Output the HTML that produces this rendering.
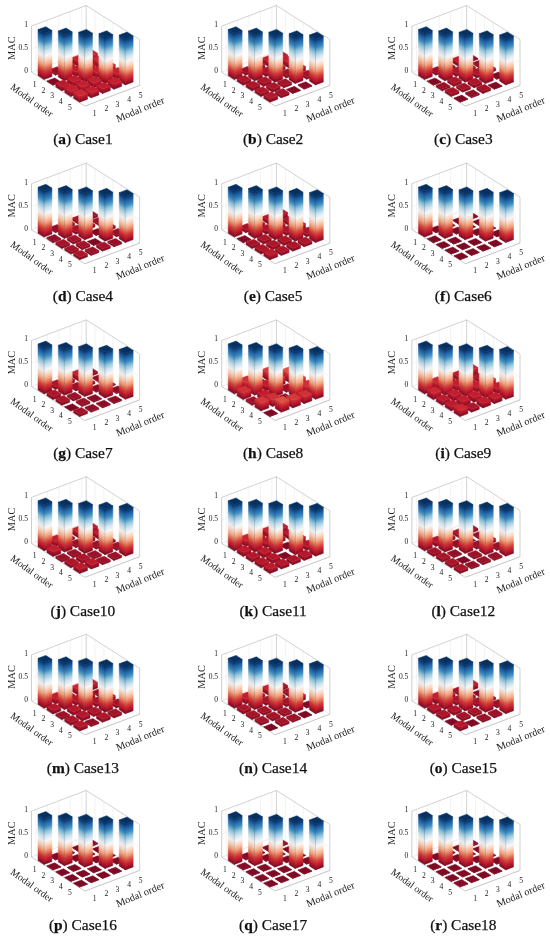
<!DOCTYPE html><html><head><meta charset="utf-8"><title>MAC</title><style>html,body{margin:0;padding:0;background:#fff}svg{display:block}text{font-family:"Liberation Serif",serif;fill:#1a1a1a}.tk{font-size:7.5px;fill:#222}.tf{font-size:7.6px}.lb{font-size:10.3px;fill:#222}.lm{font-size:10px}.cap{font-size:15.4px;fill:#111;stroke:#111;stroke-width:.25}.b{font-weight:bold}.gd{fill:none;stroke:#e6e6e6;stroke-width:.5}.gd2{fill:none;stroke:#b4b4b4;stroke-width:.5}.ax{fill:none;stroke:#9a9a9a;stroke-width:.5}.l{fill:url(#gl);stroke:url(#gl)}.r{fill:url(#gr);stroke:url(#gr)}polygon{stroke-width:.5;stroke-linejoin:round}.e{stroke:#000;stroke-opacity:.3;stroke-width:.5;fill:none}</style></head><body><svg width="550" height="940" viewBox="0 0 550 940"><defs><linearGradient id="gl" gradientUnits="userSpaceOnUse" x1="0" y1="0" x2="20.85" y2="-32.72"><stop offset="0" stop-color="#750821"/><stop offset="0.05" stop-color="#9d1225"/><stop offset="0.1" stop-color="#ba1b2c"/><stop offset="0.17" stop-color="#cc3838"/><stop offset="0.23" stop-color="#d7654c"/><stop offset="0.31" stop-color="#ea9e7d"/><stop offset="0.41" stop-color="#f2ceba"/><stop offset="0.5" stop-color="#ededed"/><stop offset="0.6" stop-color="#c9dce6"/><stop offset="0.7" stop-color="#8cbdd5"/><stop offset="0.8" stop-color="#3b87b8"/><stop offset="0.9" stop-color="#1d5da1"/><stop offset="1" stop-color="#052e5d"/></linearGradient><linearGradient id="gr" gradientUnits="userSpaceOnUse" x1="0" y1="0" x2="-15.19" y2="-40.27"><stop offset="0" stop-color="#7a0822"/><stop offset="0.05" stop-color="#a41327"/><stop offset="0.1" stop-color="#c21c2e"/><stop offset="0.17" stop-color="#d43a3a"/><stop offset="0.23" stop-color="#e0694f"/><stop offset="0.31" stop-color="#f4a582"/><stop offset="0.41" stop-color="#fcd7c2"/><stop offset="0.5" stop-color="#f7f7f7"/><stop offset="0.6" stop-color="#d1e5f0"/><stop offset="0.7" stop-color="#92c5de"/><stop offset="0.8" stop-color="#3d8dc0"/><stop offset="0.9" stop-color="#1e61a8"/><stop offset="1" stop-color="#053061"/></linearGradient></defs><rect width="550" height="940" fill="#fff"/>
<g transform="translate(0,0)"><path class="gd" d="M36.06 70.38L89.46 104.4M36.06 70.38L36.06 24.38M47.46 66.08L100.86 100.1M47.46 66.08L47.46 20.08M58.86 61.78L112.26 95.8M58.86 61.78L58.86 15.78M70.26 57.48L123.66 91.5M70.26 57.48L70.26 11.48M81.66 53.18L135.06 87.2M81.66 53.18L81.66 7.18M31.5 72.1L86.22 51.46M86.22 51.46L86.22 5.46M40.4 77.77L95.12 57.13M95.12 57.13L95.12 11.13M49.3 83.44L104.02 62.8M104.02 62.8L104.02 16.8M58.2 89.11L112.92 68.47M112.92 68.47L112.92 22.47M67.1 94.78L121.82 74.14M121.82 74.14L121.82 28.14M76 100.45L130.72 79.81M130.72 79.81L130.72 33.81M84.9 106.12L139.62 85.48M139.62 85.48L139.62 39.48M31.5 72.1L86.22 51.46L139.62 85.48M31.5 49.1L86.22 28.46L139.62 62.48M31.5 26.1L86.22 5.46L139.62 39.48"/><path class="ax" d="M31.5 26.1L31.5 72.1L84.9 106.12L139.62 85.48"/><path class="gd2" d="M31.5 26.1L86.22 5.46L139.62 39.48L139.62 85.48M86.22 5.46L86.22 51.46"/><g transform="translate(83.61,58.38)"><polygon class="l" points="0,0 6.1,3.88 6.1,-2.19 0,-6.07"/></g><g transform="translate(89.7,62.26)"><polygon class="r" points="0,0 7.81,-2.95 7.81,-9.02 0,-6.07"/></g><polygon fill="#ca2a33" stroke="#ca2a33" points="83.61,52.31 89.7,56.19 97.51,53.25 91.42,49.36"/><path class="e" d="M89.7 62.26v-6.07"/><g transform="translate(72.21,62.68)"><polygon class="l" points="0,0 6.1,3.88 6.1,-1.18 0,-5.06"/></g><g transform="translate(78.3,66.56)"><polygon class="r" points="0,0 7.81,-2.95 7.81,-8.01 0,-5.06"/></g><polygon fill="#c52030" stroke="#c52030" points="72.21,57.62 78.3,61.5 86.11,58.56 80.02,54.68"/><path class="e" d="M78.3 66.56v-5.06"/><g transform="translate(60.81,66.98)"><polygon class="l" points="0,0 6.1,3.88 6.1,-0.16 0,-4.05"/></g><g transform="translate(66.9,70.86)"><polygon class="r" points="0,0 7.81,-2.95 7.81,-6.99 0,-4.05"/></g><polygon fill="#bb1a2c" stroke="#bb1a2c" points="60.81,62.93 66.9,66.82 74.71,63.87 68.62,59.99"/><path class="e" d="M66.9 70.86v-4.05"/><g transform="translate(49.41,71.28)"><polygon class="l" points="0,0 6.1,3.88 6.1,2.37 0,-1.52"/></g><g transform="translate(55.5,75.16)"><polygon class="r" points="0,0 7.81,-2.95 7.81,-4.46 0,-1.52"/></g><polygon fill="#960f25" stroke="#960f25" points="49.41,69.76 55.5,73.65 63.31,70.7 57.22,66.82"/><path class="e" d="M55.5 75.16v-1.52"/><g transform="translate(38.01,75.58)"><polygon class="l" points="0,0 6.1,3.88 6.1,-42.12 0,-46"/></g><g transform="translate(44.1,79.46)"><polygon class="r" points="0,0 7.81,-2.95 7.81,-48.95 0,-46"/></g><polygon fill="#053061" stroke="#053061" points="38.01,29.58 44.1,33.46 51.91,30.52 45.82,26.64"/><path class="e" d="M44.1 79.46v-46"/><g transform="translate(92.51,64.05)"><polygon class="l" points="0,0 6.1,3.88 6.1,-2.1 0,-5.98"/></g><g transform="translate(98.6,67.93)"><polygon class="r" points="0,0 7.81,-2.95 7.81,-8.93 0,-5.98"/></g><polygon fill="#ca2933" stroke="#ca2933" points="92.51,58.07 98.6,61.95 106.41,59.01 100.32,55.13"/><path class="e" d="M98.6 67.93v-5.98"/><g transform="translate(81.11,68.35)"><polygon class="l" points="0,0 6.1,3.88 6.1,-1.18 0,-5.06"/></g><g transform="translate(87.2,72.23)"><polygon class="r" points="0,0 7.81,-2.95 7.81,-8.01 0,-5.06"/></g><polygon fill="#c52030" stroke="#c52030" points="81.11,63.29 87.2,67.17 95.01,64.23 88.92,60.35"/><path class="e" d="M87.2 72.23v-5.06"/><g transform="translate(69.71,72.65)"><polygon class="l" points="0,0 6.1,3.88 6.1,-0.67 0,-4.55"/></g><g transform="translate(75.8,76.53)"><polygon class="r" points="0,0 7.81,-2.95 7.81,-7.5 0,-4.55"/></g><polygon fill="#c11c2e" stroke="#c11c2e" points="69.71,68.1 75.8,71.98 83.61,69.04 77.52,65.15"/><path class="e" d="M75.8 76.53v-4.55"/><g transform="translate(58.31,76.95)"><polygon class="l" points="0,0 6.1,3.88 6.1,-42.12 0,-46"/></g><g transform="translate(64.4,80.83)"><polygon class="r" points="0,0 7.81,-2.95 7.81,-48.95 0,-46"/></g><polygon fill="#053061" stroke="#053061" points="58.31,30.95 64.4,34.83 72.21,31.89 66.12,28.01"/><path class="e" d="M64.4 80.83v-46"/><g transform="translate(46.91,81.25)"><polygon class="l" points="0,0 6.1,3.88 6.1,3.52 0,-0.37"/></g><g transform="translate(53,85.13)"><polygon class="r" points="0,0 7.81,-2.95 7.81,-3.31 0,-0.37"/></g><polygon fill="#810a23" stroke="#810a23" points="46.91,80.88 53,84.77 60.81,81.82 54.72,77.94"/><g transform="translate(101.41,69.72)"><polygon class="l" points="0,0 6.1,3.88 6.1,-2.1 0,-5.98"/></g><g transform="translate(107.5,73.6)"><polygon class="r" points="0,0 7.81,-2.95 7.81,-8.93 0,-5.98"/></g><polygon fill="#ca2933" stroke="#ca2933" points="101.41,63.74 107.5,67.62 115.31,64.68 109.22,60.8"/><path class="e" d="M107.5 73.6v-5.98"/><g transform="translate(90.01,74.02)"><polygon class="l" points="0,0 6.1,3.88 6.1,-1.18 0,-5.06"/></g><g transform="translate(96.1,77.9)"><polygon class="r" points="0,0 7.81,-2.95 7.81,-8.01 0,-5.06"/></g><polygon fill="#c52030" stroke="#c52030" points="90.01,68.96 96.1,72.84 103.91,69.9 97.82,66.02"/><path class="e" d="M96.1 77.9v-5.06"/><g transform="translate(78.61,78.32)"><polygon class="l" points="0,0 6.1,3.88 6.1,-42.12 0,-46"/></g><g transform="translate(84.7,82.2)"><polygon class="r" points="0,0 7.81,-2.95 7.81,-48.95 0,-46"/></g><polygon fill="#053061" stroke="#053061" points="78.61,32.32 84.7,36.2 92.51,33.26 86.42,29.38"/><path class="e" d="M84.7 82.2v-46"/><g transform="translate(67.21,82.62)"><polygon class="l" points="0,0 6.1,3.88 6.1,-0.67 0,-4.55"/></g><g transform="translate(73.3,86.5)"><polygon class="r" points="0,0 7.81,-2.95 7.81,-7.5 0,-4.55"/></g><polygon fill="#c11c2e" stroke="#c11c2e" points="67.21,78.07 73.3,81.95 81.11,79.01 75.02,75.12"/><path class="e" d="M73.3 86.5v-4.55"/><g transform="translate(55.81,86.92)"><polygon class="l" points="0,0 6.1,3.88 6.1,-0.16 0,-4.05"/></g><g transform="translate(61.9,90.8)"><polygon class="r" points="0,0 7.81,-2.95 7.81,-6.99 0,-4.05"/></g><polygon fill="#bb1a2c" stroke="#bb1a2c" points="55.81,82.87 61.9,86.76 69.71,83.81 63.62,79.93"/><path class="e" d="M61.9 90.8v-4.05"/><g transform="translate(110.31,75.39)"><polygon class="l" points="0,0 6.1,3.88 6.1,-1.18 0,-5.06"/></g><g transform="translate(116.4,79.27)"><polygon class="r" points="0,0 7.81,-2.95 7.81,-8.01 0,-5.06"/></g><polygon fill="#c52030" stroke="#c52030" points="110.31,70.33 116.4,74.21 124.21,71.27 118.12,67.39"/><path class="e" d="M116.4 79.27v-5.06"/><g transform="translate(98.91,79.69)"><polygon class="l" points="0,0 6.1,3.88 6.1,-42.12 0,-46"/></g><g transform="translate(105,83.57)"><polygon class="r" points="0,0 7.81,-2.95 7.81,-48.95 0,-46"/></g><polygon fill="#053061" stroke="#053061" points="98.91,33.69 105,37.57 112.81,34.63 106.72,30.75"/><path class="e" d="M105 83.57v-46"/><g transform="translate(87.51,83.99)"><polygon class="l" points="0,0 6.1,3.88 6.1,-1.18 0,-5.06"/></g><g transform="translate(93.6,87.87)"><polygon class="r" points="0,0 7.81,-2.95 7.81,-8.01 0,-5.06"/></g><polygon fill="#c52030" stroke="#c52030" points="87.51,78.93 93.6,82.81 101.41,79.87 95.32,75.99"/><path class="e" d="M93.6 87.87v-5.06"/><g transform="translate(76.11,88.29)"><polygon class="l" points="0,0 6.1,3.88 6.1,-1.18 0,-5.06"/></g><g transform="translate(82.2,92.17)"><polygon class="r" points="0,0 7.81,-2.95 7.81,-8.01 0,-5.06"/></g><polygon fill="#c52030" stroke="#c52030" points="76.11,83.23 82.2,87.11 90.01,84.17 83.92,80.29"/><path class="e" d="M82.2 92.17v-5.06"/><g transform="translate(64.71,92.59)"><polygon class="l" points="0,0 6.1,3.88 6.1,-1.18 0,-5.06"/></g><g transform="translate(70.8,96.47)"><polygon class="r" points="0,0 7.81,-2.95 7.81,-8.01 0,-5.06"/></g><polygon fill="#c52030" stroke="#c52030" points="64.71,87.53 70.8,91.41 78.61,88.47 72.52,84.59"/><path class="e" d="M70.8 96.47v-5.06"/><g transform="translate(119.21,81.06)"><polygon class="l" points="0,0 6.1,3.88 6.1,-42.12 0,-46"/></g><g transform="translate(125.3,84.94)"><polygon class="r" points="0,0 7.81,-2.95 7.81,-48.95 0,-46"/></g><polygon fill="#053061" stroke="#053061" points="119.21,35.06 125.3,38.94 133.11,36 127.02,32.12"/><path class="e" d="M125.3 84.94v-46"/><g transform="translate(107.81,85.36)"><polygon class="l" points="0,0 6.1,3.88 6.1,-1.18 0,-5.06"/></g><g transform="translate(113.9,89.24)"><polygon class="r" points="0,0 7.81,-2.95 7.81,-8.01 0,-5.06"/></g><polygon fill="#c52030" stroke="#c52030" points="107.81,80.3 113.9,84.18 121.71,81.24 115.62,77.36"/><path class="e" d="M113.9 89.24v-5.06"/><g transform="translate(96.41,89.66)"><polygon class="l" points="0,0 6.1,3.88 6.1,-0.67 0,-4.55"/></g><g transform="translate(102.5,93.54)"><polygon class="r" points="0,0 7.81,-2.95 7.81,-7.5 0,-4.55"/></g><polygon fill="#c11c2e" stroke="#c11c2e" points="96.41,85.11 102.5,88.99 110.31,86.05 104.22,82.16"/><path class="e" d="M102.5 93.54v-4.55"/><g transform="translate(85.01,93.96)"><polygon class="l" points="0,0 6.1,3.88 6.1,-1.18 0,-5.06"/></g><g transform="translate(91.1,97.84)"><polygon class="r" points="0,0 7.81,-2.95 7.81,-8.01 0,-5.06"/></g><polygon fill="#c52030" stroke="#c52030" points="85.01,88.9 91.1,92.78 98.91,89.84 92.82,85.96"/><path class="e" d="M91.1 97.84v-5.06"/><g transform="translate(73.61,98.26)"><polygon class="l" points="0,0 6.1,3.88 6.1,-2.19 0,-6.07"/></g><g transform="translate(79.7,102.14)"><polygon class="r" points="0,0 7.81,-2.95 7.81,-9.02 0,-6.07"/></g><polygon fill="#ca2a33" stroke="#ca2a33" points="73.61,92.19 79.7,96.07 87.51,93.13 81.42,89.24"/><path class="e" d="M79.7 102.14v-6.07"/><text class="tk" text-anchor="end" x="27.9" y="73">0</text><text class="tk" text-anchor="end" x="27.9" y="50">0.5</text><text class="tk" text-anchor="end" x="27.9" y="27">1</text><text class="tk tf" text-anchor="middle" x="34.68" y="87.12">1</text><text class="tk tf" text-anchor="middle" x="94.7" y="115.7">1</text><text class="tk tf" text-anchor="middle" x="43.46" y="92.74">2</text><text class="tk tf" text-anchor="middle" x="106.3" y="110.9">2</text><text class="tk tf" text-anchor="middle" x="52.24" y="98.36">3</text><text class="tk tf" text-anchor="middle" x="117.5" y="106.7">3</text><text class="tk tf" text-anchor="middle" x="61.02" y="103.98">4</text><text class="tk tf" text-anchor="middle" x="129.1" y="101.9">4</text><text class="tk tf" text-anchor="middle" x="69.8" y="109.6">5</text><text class="tk tf" text-anchor="middle" x="140.7" y="97.8">5</text><text class="lb" text-anchor="middle" transform="translate(14.9,48.2) rotate(-90)">MAC</text><text class="lb lm" text-anchor="middle" transform="translate(30,103) rotate(35.8)">Modal order</text><text class="lb" text-anchor="middle" transform="translate(141.5,112.5) rotate(-22.3)">Modal order</text><text class="cap" text-anchor="middle" x="82.9" y="144.4">(<tspan class="b">a</tspan>) Case1</text></g>
<g transform="translate(190.2,0)"><path class="gd" d="M36.06 70.38L89.46 104.4M36.06 70.38L36.06 24.38M47.46 66.08L100.86 100.1M47.46 66.08L47.46 20.08M58.86 61.78L112.26 95.8M58.86 61.78L58.86 15.78M70.26 57.48L123.66 91.5M70.26 57.48L70.26 11.48M81.66 53.18L135.06 87.2M81.66 53.18L81.66 7.18M31.5 72.1L86.22 51.46M86.22 51.46L86.22 5.46M40.4 77.77L95.12 57.13M95.12 57.13L95.12 11.13M49.3 83.44L104.02 62.8M104.02 62.8L104.02 16.8M58.2 89.11L112.92 68.47M112.92 68.47L112.92 22.47M67.1 94.78L121.82 74.14M121.82 74.14L121.82 28.14M76 100.45L130.72 79.81M130.72 79.81L130.72 33.81M84.9 106.12L139.62 85.48M139.62 85.48L139.62 39.48M31.5 72.1L86.22 51.46L139.62 85.48M31.5 49.1L86.22 28.46L139.62 62.48M31.5 26.1L86.22 5.46L139.62 39.48"/><path class="ax" d="M31.5 26.1L31.5 72.1L84.9 106.12L139.62 85.48"/><path class="gd2" d="M31.5 26.1L86.22 5.46L139.62 39.48L139.62 85.48M86.22 5.46L86.22 51.46"/><g transform="translate(83.61,58.38)"><polygon class="l" points="0,0 6.1,3.88 6.1,-0.49 0,-4.37"/></g><g transform="translate(89.7,62.26)"><polygon class="r" points="0,0 7.81,-2.95 7.81,-7.32 0,-4.37"/></g><polygon fill="#bf1b2d" stroke="#bf1b2d" points="83.61,54.01 89.7,57.89 97.51,54.95 91.42,51.07"/><path class="e" d="M89.7 62.26v-4.37"/><g transform="translate(72.21,62.68)"><polygon class="l" points="0,0 6.1,3.88 6.1,-0.9 0,-4.78"/></g><g transform="translate(78.3,66.56)"><polygon class="r" points="0,0 7.81,-2.95 7.81,-7.73 0,-4.78"/></g><polygon fill="#c31e2f" stroke="#c31e2f" points="72.21,57.9 78.3,61.78 86.11,58.84 80.02,54.95"/><path class="e" d="M78.3 66.56v-4.78"/><g transform="translate(60.81,66.98)"><polygon class="l" points="0,0 6.1,3.88 6.1,-0.3 0,-4.19"/></g><g transform="translate(66.9,70.86)"><polygon class="r" points="0,0 7.81,-2.95 7.81,-7.13 0,-4.19"/></g><polygon fill="#bd1a2d" stroke="#bd1a2d" points="60.81,62.79 66.9,66.68 74.71,63.73 68.62,59.85"/><path class="e" d="M66.9 70.86v-4.19"/><g transform="translate(49.41,71.28)"><polygon class="l" points="0,0 6.1,3.88 6.1,2.04 0,-1.84"/></g><g transform="translate(55.5,75.16)"><polygon class="r" points="0,0 7.81,-2.95 7.81,-4.79 0,-1.84"/></g><polygon fill="#9c1126" stroke="#9c1126" points="49.41,69.44 55.5,73.32 63.31,70.38 57.22,66.5"/><path class="e" d="M55.5 75.16v-1.84"/><g transform="translate(38.01,75.58)"><polygon class="l" points="0,0 6.1,3.88 6.1,-42.12 0,-46"/></g><g transform="translate(44.1,79.46)"><polygon class="r" points="0,0 7.81,-2.95 7.81,-48.95 0,-46"/></g><polygon fill="#053061" stroke="#053061" points="38.01,29.58 44.1,33.46 51.91,30.52 45.82,26.64"/><path class="e" d="M44.1 79.46v-46"/><g transform="translate(92.51,64.05)"><polygon class="l" points="0,0 6.1,3.88 6.1,-1.5 0,-5.38"/></g><g transform="translate(98.6,67.93)"><polygon class="r" points="0,0 7.81,-2.95 7.81,-8.33 0,-5.38"/></g><polygon fill="#c62331" stroke="#c62331" points="92.51,58.67 98.6,62.55 106.41,59.61 100.32,55.72"/><path class="e" d="M98.6 67.93v-5.38"/><g transform="translate(81.11,68.35)"><polygon class="l" points="0,0 6.1,3.88 6.1,0.89 0,-2.99"/></g><g transform="translate(87.2,72.23)"><polygon class="r" points="0,0 7.81,-2.95 7.81,-5.94 0,-2.99"/></g><polygon fill="#ad1629" stroke="#ad1629" points="81.11,65.36 87.2,69.24 95.01,66.3 88.92,62.42"/><path class="e" d="M87.2 72.23v-2.99"/><g transform="translate(69.71,72.65)"><polygon class="l" points="0,0 6.1,3.88 6.1,0.89 0,-2.99"/></g><g transform="translate(75.8,76.53)"><polygon class="r" points="0,0 7.81,-2.95 7.81,-5.94 0,-2.99"/></g><polygon fill="#ad1629" stroke="#ad1629" points="69.71,69.66 75.8,73.54 83.61,70.6 77.52,66.72"/><path class="e" d="M75.8 76.53v-2.99"/><g transform="translate(58.31,76.95)"><polygon class="l" points="0,0 6.1,3.88 6.1,-42.12 0,-46"/></g><g transform="translate(64.4,80.83)"><polygon class="r" points="0,0 7.81,-2.95 7.81,-48.95 0,-46"/></g><polygon fill="#053061" stroke="#053061" points="58.31,30.95 64.4,34.83 72.21,31.89 66.12,28.01"/><path class="e" d="M64.4 80.83v-46"/><g transform="translate(46.91,81.25)"><polygon class="l" points="0,0 6.1,3.88 6.1,0.89 0,-2.99"/></g><g transform="translate(53,85.13)"><polygon class="r" points="0,0 7.81,-2.95 7.81,-5.94 0,-2.99"/></g><polygon fill="#ad1629" stroke="#ad1629" points="46.91,78.26 53,82.14 60.81,79.2 54.72,75.32"/><path class="e" d="M53 85.13v-2.99"/><g transform="translate(101.41,69.72)"><polygon class="l" points="0,0 6.1,3.88 6.1,-0.26 0,-4.14"/></g><g transform="translate(107.5,73.6)"><polygon class="r" points="0,0 7.81,-2.95 7.81,-7.09 0,-4.14"/></g><polygon fill="#bc1a2d" stroke="#bc1a2d" points="101.41,65.58 107.5,69.46 115.31,66.52 109.22,62.64"/><path class="e" d="M107.5 73.6v-4.14"/><g transform="translate(90.01,74.02)"><polygon class="l" points="0,0 6.1,3.88 6.1,1.49 0,-2.39"/></g><g transform="translate(96.1,77.9)"><polygon class="r" points="0,0 7.81,-2.95 7.81,-5.34 0,-2.39"/></g><polygon fill="#a51327" stroke="#a51327" points="90.01,71.63 96.1,75.51 103.91,72.57 97.82,68.68"/><path class="e" d="M96.1 77.9v-2.39"/><g transform="translate(78.61,78.32)"><polygon class="l" points="0,0 6.1,3.88 6.1,-42.12 0,-46"/></g><g transform="translate(84.7,82.2)"><polygon class="r" points="0,0 7.81,-2.95 7.81,-48.95 0,-46"/></g><polygon fill="#053061" stroke="#053061" points="78.61,32.32 84.7,36.2 92.51,33.26 86.42,29.38"/><path class="e" d="M84.7 82.2v-46"/><g transform="translate(67.21,82.62)"><polygon class="l" points="0,0 6.1,3.88 6.1,0.89 0,-2.99"/></g><g transform="translate(73.3,86.5)"><polygon class="r" points="0,0 7.81,-2.95 7.81,-5.94 0,-2.99"/></g><polygon fill="#ad1629" stroke="#ad1629" points="67.21,79.63 73.3,83.51 81.11,80.57 75.02,76.69"/><path class="e" d="M73.3 86.5v-2.99"/><g transform="translate(55.81,86.92)"><polygon class="l" points="0,0 6.1,3.88 6.1,0.89 0,-2.99"/></g><g transform="translate(61.9,90.8)"><polygon class="r" points="0,0 7.81,-2.95 7.81,-5.94 0,-2.99"/></g><polygon fill="#ad1629" stroke="#ad1629" points="55.81,83.93 61.9,87.81 69.71,84.87 63.62,80.99"/><path class="e" d="M61.9 90.8v-2.99"/><g transform="translate(110.31,75.39)"><polygon class="l" points="0,0 6.1,3.88 6.1,1.58 0,-2.3"/></g><g transform="translate(116.4,79.27)"><polygon class="r" points="0,0 7.81,-2.95 7.81,-5.25 0,-2.3"/></g><polygon fill="#a41327" stroke="#a41327" points="110.31,73.09 116.4,76.97 124.21,74.03 118.12,70.15"/><path class="e" d="M116.4 79.27v-2.3"/><g transform="translate(98.91,79.69)"><polygon class="l" points="0,0 6.1,3.88 6.1,-42.12 0,-46"/></g><g transform="translate(105,83.57)"><polygon class="r" points="0,0 7.81,-2.95 7.81,-48.95 0,-46"/></g><polygon fill="#053061" stroke="#053061" points="98.91,33.69 105,37.57 112.81,34.63 106.72,30.75"/><path class="e" d="M105 83.57v-46"/><g transform="translate(87.51,83.99)"><polygon class="l" points="0,0 6.1,3.88 6.1,1.49 0,-2.39"/></g><g transform="translate(93.6,87.87)"><polygon class="r" points="0,0 7.81,-2.95 7.81,-5.34 0,-2.39"/></g><polygon fill="#a51327" stroke="#a51327" points="87.51,81.6 93.6,85.48 101.41,82.54 95.32,78.65"/><path class="e" d="M93.6 87.87v-2.39"/><g transform="translate(76.11,88.29)"><polygon class="l" points="0,0 6.1,3.88 6.1,0.89 0,-2.99"/></g><g transform="translate(82.2,92.17)"><polygon class="r" points="0,0 7.81,-2.95 7.81,-5.94 0,-2.99"/></g><polygon fill="#ad1629" stroke="#ad1629" points="76.11,85.3 82.2,89.18 90.01,86.24 83.92,82.36"/><path class="e" d="M82.2 92.17v-2.99"/><g transform="translate(64.71,92.59)"><polygon class="l" points="0,0 6.1,3.88 6.1,0.89 0,-2.99"/></g><g transform="translate(70.8,96.47)"><polygon class="r" points="0,0 7.81,-2.95 7.81,-5.94 0,-2.99"/></g><polygon fill="#ad1629" stroke="#ad1629" points="64.71,89.6 70.8,93.48 78.61,90.54 72.52,86.66"/><path class="e" d="M70.8 96.47v-2.99"/><g transform="translate(119.21,81.06)"><polygon class="l" points="0,0 6.1,3.88 6.1,-42.12 0,-46"/></g><g transform="translate(125.3,84.94)"><polygon class="r" points="0,0 7.81,-2.95 7.81,-48.95 0,-46"/></g><polygon fill="#053061" stroke="#053061" points="119.21,35.06 125.3,38.94 133.11,36 127.02,32.12"/><path class="e" d="M125.3 84.94v-46"/><g transform="translate(107.81,85.36)"><polygon class="l" points="0,0 6.1,3.88 6.1,3.19 0,-0.69"/></g><g transform="translate(113.9,89.24)"><polygon class="r" points="0,0 7.81,-2.95 7.81,-3.64 0,-0.69"/></g><polygon fill="#870b24" stroke="#870b24" points="107.81,84.67 113.9,88.55 121.71,85.61 115.62,81.73"/><g transform="translate(96.41,89.66)"><polygon class="l" points="0,0 6.1,3.88 6.1,3.52 0,-0.37"/></g><g transform="translate(102.5,93.54)"><polygon class="r" points="0,0 7.81,-2.95 7.81,-3.31 0,-0.37"/></g><polygon fill="#810a23" stroke="#810a23" points="96.41,89.29 102.5,93.18 110.31,90.23 104.22,86.35"/><g transform="translate(85.01,93.96)"><polygon class="l" points="0,0 6.1,3.88 6.1,1.49 0,-2.39"/></g><g transform="translate(91.1,97.84)"><polygon class="r" points="0,0 7.81,-2.95 7.81,-5.34 0,-2.39"/></g><polygon fill="#a51327" stroke="#a51327" points="85.01,91.57 91.1,95.45 98.91,92.51 92.82,88.62"/><path class="e" d="M91.1 97.84v-2.39"/><g transform="translate(73.61,98.26)"><polygon class="l" points="0,0 6.1,3.88 6.1,0.3 0,-3.59"/></g><g transform="translate(79.7,102.14)"><polygon class="r" points="0,0 7.81,-2.95 7.81,-6.53 0,-3.59"/></g><polygon fill="#b5182b" stroke="#b5182b" points="73.61,94.67 79.7,98.56 87.51,95.61 81.42,91.73"/><path class="e" d="M79.7 102.14v-3.59"/><text class="tk" text-anchor="end" x="27.9" y="73">0</text><text class="tk" text-anchor="end" x="27.9" y="50">0.5</text><text class="tk" text-anchor="end" x="27.9" y="27">1</text><text class="tk tf" text-anchor="middle" x="34.68" y="87.12">1</text><text class="tk tf" text-anchor="middle" x="94.7" y="115.7">1</text><text class="tk tf" text-anchor="middle" x="43.46" y="92.74">2</text><text class="tk tf" text-anchor="middle" x="106.3" y="110.9">2</text><text class="tk tf" text-anchor="middle" x="52.24" y="98.36">3</text><text class="tk tf" text-anchor="middle" x="117.5" y="106.7">3</text><text class="tk tf" text-anchor="middle" x="61.02" y="103.98">4</text><text class="tk tf" text-anchor="middle" x="129.1" y="101.9">4</text><text class="tk tf" text-anchor="middle" x="69.8" y="109.6">5</text><text class="tk tf" text-anchor="middle" x="140.7" y="97.8">5</text><text class="lb" text-anchor="middle" transform="translate(14.9,48.2) rotate(-90)">MAC</text><text class="lb lm" text-anchor="middle" transform="translate(30,103) rotate(35.8)">Modal order</text><text class="lb" text-anchor="middle" transform="translate(141.5,112.5) rotate(-22.3)">Modal order</text><text class="cap" text-anchor="middle" x="82.9" y="144.4">(<tspan class="b">b</tspan>) Case2</text></g>
<g transform="translate(380.4,0)"><path class="gd" d="M36.06 70.38L89.46 104.4M36.06 70.38L36.06 24.38M47.46 66.08L100.86 100.1M47.46 66.08L47.46 20.08M58.86 61.78L112.26 95.8M58.86 61.78L58.86 15.78M70.26 57.48L123.66 91.5M70.26 57.48L70.26 11.48M81.66 53.18L135.06 87.2M81.66 53.18L81.66 7.18M31.5 72.1L86.22 51.46M86.22 51.46L86.22 5.46M40.4 77.77L95.12 57.13M95.12 57.13L95.12 11.13M49.3 83.44L104.02 62.8M104.02 62.8L104.02 16.8M58.2 89.11L112.92 68.47M112.92 68.47L112.92 22.47M67.1 94.78L121.82 74.14M121.82 74.14L121.82 28.14M76 100.45L130.72 79.81M130.72 79.81L130.72 33.81M84.9 106.12L139.62 85.48M139.62 85.48L139.62 39.48M31.5 72.1L86.22 51.46L139.62 85.48M31.5 49.1L86.22 28.46L139.62 62.48M31.5 26.1L86.22 5.46L139.62 39.48"/><path class="ax" d="M31.5 26.1L31.5 72.1L84.9 106.12L139.62 85.48"/><path class="gd2" d="M31.5 26.1L86.22 5.46L139.62 39.48L139.62 85.48M86.22 5.46L86.22 51.46"/><g transform="translate(83.61,58.38)"><polygon class="l" points="0,0 6.1,3.88 6.1,2.96 0,-0.92"/></g><g transform="translate(89.7,62.26)"><polygon class="r" points="0,0 7.81,-2.95 7.81,-3.87 0,-0.92"/></g><polygon fill="#8b0c24" stroke="#8b0c24" points="83.61,57.46 89.7,61.34 97.51,58.4 91.42,54.52"/><g transform="translate(72.21,62.68)"><polygon class="l" points="0,0 6.1,3.88 6.1,-0.26 0,-4.14"/></g><g transform="translate(78.3,66.56)"><polygon class="r" points="0,0 7.81,-2.95 7.81,-7.09 0,-4.14"/></g><polygon fill="#bc1a2d" stroke="#bc1a2d" points="72.21,58.54 78.3,62.42 86.11,59.48 80.02,55.6"/><path class="e" d="M78.3 66.56v-4.14"/><g transform="translate(60.81,66.98)"><polygon class="l" points="0,0 6.1,3.88 6.1,2.09 0,-1.79"/></g><g transform="translate(66.9,70.86)"><polygon class="r" points="0,0 7.81,-2.95 7.81,-4.74 0,-1.79"/></g><polygon fill="#9b1126" stroke="#9b1126" points="60.81,65.19 66.9,69.07 74.71,66.13 68.62,62.24"/><path class="e" d="M66.9 70.86v-1.79"/><g transform="translate(49.41,71.28)"><polygon class="l" points="0,0 6.1,3.88 6.1,2.09 0,-1.79"/></g><g transform="translate(55.5,75.16)"><polygon class="r" points="0,0 7.81,-2.95 7.81,-4.74 0,-1.79"/></g><polygon fill="#9b1126" stroke="#9b1126" points="49.41,69.49 55.5,73.37 63.31,70.43 57.22,66.54"/><path class="e" d="M55.5 75.16v-1.79"/><g transform="translate(38.01,75.58)"><polygon class="l" points="0,0 6.1,3.88 6.1,-42.12 0,-46"/></g><g transform="translate(44.1,79.46)"><polygon class="r" points="0,0 7.81,-2.95 7.81,-48.95 0,-46"/></g><polygon fill="#053061" stroke="#053061" points="38.01,29.58 44.1,33.46 51.91,30.52 45.82,26.64"/><path class="e" d="M44.1 79.46v-46"/><g transform="translate(92.51,64.05)"><polygon class="l" points="0,0 6.1,3.88 6.1,2.5 0,-1.38"/></g><g transform="translate(98.6,67.93)"><polygon class="r" points="0,0 7.81,-2.95 7.81,-4.33 0,-1.38"/></g><polygon fill="#930f25" stroke="#930f25" points="92.51,62.67 98.6,66.55 106.41,63.61 100.32,59.73"/><g transform="translate(81.11,68.35)"><polygon class="l" points="0,0 6.1,3.88 6.1,1.49 0,-2.39"/></g><g transform="translate(87.2,72.23)"><polygon class="r" points="0,0 7.81,-2.95 7.81,-5.34 0,-2.39"/></g><polygon fill="#a51327" stroke="#a51327" points="81.11,65.96 87.2,69.84 95.01,66.9 88.92,63.01"/><path class="e" d="M87.2 72.23v-2.39"/><g transform="translate(69.71,72.65)"><polygon class="l" points="0,0 6.1,3.88 6.1,0.89 0,-2.99"/></g><g transform="translate(75.8,76.53)"><polygon class="r" points="0,0 7.81,-2.95 7.81,-5.94 0,-2.99"/></g><polygon fill="#ad1629" stroke="#ad1629" points="69.71,69.66 75.8,73.54 83.61,70.6 77.52,66.72"/><path class="e" d="M75.8 76.53v-2.99"/><g transform="translate(58.31,76.95)"><polygon class="l" points="0,0 6.1,3.88 6.1,-42.12 0,-46"/></g><g transform="translate(64.4,80.83)"><polygon class="r" points="0,0 7.81,-2.95 7.81,-48.95 0,-46"/></g><polygon fill="#053061" stroke="#053061" points="58.31,30.95 64.4,34.83 72.21,31.89 66.12,28.01"/><path class="e" d="M64.4 80.83v-46"/><g transform="translate(46.91,81.25)"><polygon class="l" points="0,0 6.1,3.88 6.1,3.52 0,-0.37"/></g><g transform="translate(53,85.13)"><polygon class="r" points="0,0 7.81,-2.95 7.81,-3.31 0,-0.37"/></g><polygon fill="#810a23" stroke="#810a23" points="46.91,80.88 53,84.77 60.81,81.82 54.72,77.94"/><g transform="translate(101.41,69.72)"><polygon class="l" points="0,0 6.1,3.88 6.1,1.49 0,-2.39"/></g><g transform="translate(107.5,73.6)"><polygon class="r" points="0,0 7.81,-2.95 7.81,-5.34 0,-2.39"/></g><polygon fill="#a51327" stroke="#a51327" points="101.41,67.33 107.5,71.21 115.31,68.27 109.22,64.38"/><path class="e" d="M107.5 73.6v-2.39"/><g transform="translate(90.01,74.02)"><polygon class="l" points="0,0 6.1,3.88 6.1,0.89 0,-2.99"/></g><g transform="translate(96.1,77.9)"><polygon class="r" points="0,0 7.81,-2.95 7.81,-5.94 0,-2.99"/></g><polygon fill="#ad1629" stroke="#ad1629" points="90.01,71.03 96.1,74.91 103.91,71.97 97.82,68.09"/><path class="e" d="M96.1 77.9v-2.99"/><g transform="translate(78.61,78.32)"><polygon class="l" points="0,0 6.1,3.88 6.1,-42.12 0,-46"/></g><g transform="translate(84.7,82.2)"><polygon class="r" points="0,0 7.81,-2.95 7.81,-48.95 0,-46"/></g><polygon fill="#053061" stroke="#053061" points="78.61,32.32 84.7,36.2 92.51,33.26 86.42,29.38"/><path class="e" d="M84.7 82.2v-46"/><g transform="translate(67.21,82.62)"><polygon class="l" points="0,0 6.1,3.88 6.1,0.89 0,-2.99"/></g><g transform="translate(73.3,86.5)"><polygon class="r" points="0,0 7.81,-2.95 7.81,-5.94 0,-2.99"/></g><polygon fill="#ad1629" stroke="#ad1629" points="67.21,79.63 73.3,83.51 81.11,80.57 75.02,76.69"/><path class="e" d="M73.3 86.5v-2.99"/><g transform="translate(55.81,86.92)"><polygon class="l" points="0,0 6.1,3.88 6.1,2.09 0,-1.79"/></g><g transform="translate(61.9,90.8)"><polygon class="r" points="0,0 7.81,-2.95 7.81,-4.74 0,-1.79"/></g><polygon fill="#9b1126" stroke="#9b1126" points="55.81,85.13 61.9,89.01 69.71,86.07 63.62,82.18"/><path class="e" d="M61.9 90.8v-1.79"/><g transform="translate(110.31,75.39)"><polygon class="l" points="0,0 6.1,3.88 6.1,3.52 0,-0.37"/></g><g transform="translate(116.4,79.27)"><polygon class="r" points="0,0 7.81,-2.95 7.81,-3.31 0,-0.37"/></g><polygon fill="#810a23" stroke="#810a23" points="110.31,75.02 116.4,78.91 124.21,75.96 118.12,72.08"/><g transform="translate(98.91,79.69)"><polygon class="l" points="0,0 6.1,3.88 6.1,-42.12 0,-46"/></g><g transform="translate(105,83.57)"><polygon class="r" points="0,0 7.81,-2.95 7.81,-48.95 0,-46"/></g><polygon fill="#053061" stroke="#053061" points="98.91,33.69 105,37.57 112.81,34.63 106.72,30.75"/><path class="e" d="M105 83.57v-46"/><g transform="translate(87.51,83.99)"><polygon class="l" points="0,0 6.1,3.88 6.1,0.89 0,-2.99"/></g><g transform="translate(93.6,87.87)"><polygon class="r" points="0,0 7.81,-2.95 7.81,-5.94 0,-2.99"/></g><polygon fill="#ad1629" stroke="#ad1629" points="87.51,81 93.6,84.88 101.41,81.94 95.32,78.06"/><path class="e" d="M93.6 87.87v-2.99"/><g transform="translate(76.11,88.29)"><polygon class="l" points="0,0 6.1,3.88 6.1,1.49 0,-2.39"/></g><g transform="translate(82.2,92.17)"><polygon class="r" points="0,0 7.81,-2.95 7.81,-5.34 0,-2.39"/></g><polygon fill="#a51327" stroke="#a51327" points="76.11,85.9 82.2,89.78 90.01,86.84 83.92,82.95"/><path class="e" d="M82.2 92.17v-2.39"/><g transform="translate(64.71,92.59)"><polygon class="l" points="0,0 6.1,3.88 6.1,1.49 0,-2.39"/></g><g transform="translate(70.8,96.47)"><polygon class="r" points="0,0 7.81,-2.95 7.81,-5.34 0,-2.39"/></g><polygon fill="#a51327" stroke="#a51327" points="64.71,90.2 70.8,94.08 78.61,91.14 72.52,87.25"/><path class="e" d="M70.8 96.47v-2.39"/><g transform="translate(119.21,81.06)"><polygon class="l" points="0,0 6.1,3.88 6.1,-42.12 0,-46"/></g><g transform="translate(125.3,84.94)"><polygon class="r" points="0,0 7.81,-2.95 7.81,-48.95 0,-46"/></g><polygon fill="#053061" stroke="#053061" points="119.21,35.06 125.3,38.94 133.11,36 127.02,32.12"/><path class="e" d="M125.3 84.94v-46"/><g transform="translate(107.81,85.36)"><polygon class="l" points="0,0 6.1,3.88 6.1,3.52 0,-0.37"/></g><g transform="translate(113.9,89.24)"><polygon class="r" points="0,0 7.81,-2.95 7.81,-3.31 0,-0.37"/></g><polygon fill="#810a23" stroke="#810a23" points="107.81,84.99 113.9,88.88 121.71,85.93 115.62,82.05"/><g transform="translate(96.41,89.66)"><polygon class="l" points="0,0 6.1,3.88 6.1,1.49 0,-2.39"/></g><g transform="translate(102.5,93.54)"><polygon class="r" points="0,0 7.81,-2.95 7.81,-5.34 0,-2.39"/></g><polygon fill="#a51327" stroke="#a51327" points="96.41,87.27 102.5,91.15 110.31,88.21 104.22,84.32"/><path class="e" d="M102.5 93.54v-2.39"/><g transform="translate(85.01,93.96)"><polygon class="l" points="0,0 6.1,3.88 6.1,2.69 0,-1.2"/></g><g transform="translate(91.1,97.84)"><polygon class="r" points="0,0 7.81,-2.95 7.81,-4.14 0,-1.2"/></g><polygon fill="#900e25" stroke="#900e25" points="85.01,92.76 91.1,96.65 98.91,93.7 92.82,89.82"/><g transform="translate(73.61,98.26)"><polygon class="l" points="0,0 6.1,3.88 6.1,3.65 0,-0.23"/></g><g transform="translate(79.7,102.14)"><polygon class="r" points="0,0 7.81,-2.95 7.81,-3.18 0,-0.23"/></g><polygon fill="#7e0922" stroke="#7e0922" points="73.61,98.03 79.7,101.91 87.51,98.97 81.42,95.09"/><text class="tk" text-anchor="end" x="27.9" y="73">0</text><text class="tk" text-anchor="end" x="27.9" y="50">0.5</text><text class="tk" text-anchor="end" x="27.9" y="27">1</text><text class="tk tf" text-anchor="middle" x="34.68" y="87.12">1</text><text class="tk tf" text-anchor="middle" x="94.7" y="115.7">1</text><text class="tk tf" text-anchor="middle" x="43.46" y="92.74">2</text><text class="tk tf" text-anchor="middle" x="106.3" y="110.9">2</text><text class="tk tf" text-anchor="middle" x="52.24" y="98.36">3</text><text class="tk tf" text-anchor="middle" x="117.5" y="106.7">3</text><text class="tk tf" text-anchor="middle" x="61.02" y="103.98">4</text><text class="tk tf" text-anchor="middle" x="129.1" y="101.9">4</text><text class="tk tf" text-anchor="middle" x="69.8" y="109.6">5</text><text class="tk tf" text-anchor="middle" x="140.7" y="97.8">5</text><text class="lb" text-anchor="middle" transform="translate(14.9,48.2) rotate(-90)">MAC</text><text class="lb lm" text-anchor="middle" transform="translate(30,103) rotate(35.8)">Modal order</text><text class="lb" text-anchor="middle" transform="translate(141.5,112.5) rotate(-22.3)">Modal order</text><text class="cap" text-anchor="middle" x="82.9" y="144.4">(<tspan class="b">c</tspan>) Case3</text></g>
<g transform="translate(0,157.6)"><path class="gd" d="M36.06 70.38L89.46 104.4M36.06 70.38L36.06 24.38M47.46 66.08L100.86 100.1M47.46 66.08L47.46 20.08M58.86 61.78L112.26 95.8M58.86 61.78L58.86 15.78M70.26 57.48L123.66 91.5M70.26 57.48L70.26 11.48M81.66 53.18L135.06 87.2M81.66 53.18L81.66 7.18M31.5 72.1L86.22 51.46M86.22 51.46L86.22 5.46M40.4 77.77L95.12 57.13M95.12 57.13L95.12 11.13M49.3 83.44L104.02 62.8M104.02 62.8L104.02 16.8M58.2 89.11L112.92 68.47M112.92 68.47L112.92 22.47M67.1 94.78L121.82 74.14M121.82 74.14L121.82 28.14M76 100.45L130.72 79.81M130.72 79.81L130.72 33.81M84.9 106.12L139.62 85.48M139.62 85.48L139.62 39.48M31.5 72.1L86.22 51.46L139.62 85.48M31.5 49.1L86.22 28.46L139.62 62.48M31.5 26.1L86.22 5.46L139.62 39.48"/><path class="ax" d="M31.5 26.1L31.5 72.1L84.9 106.12L139.62 85.48"/><path class="gd2" d="M31.5 26.1L86.22 5.46L139.62 39.48L139.62 85.48M86.22 5.46L86.22 51.46"/><g transform="translate(83.61,58.38)"><polygon class="l" points="0,0 6.1,3.88 6.1,1.35 0,-2.53"/></g><g transform="translate(89.7,62.26)"><polygon class="r" points="0,0 7.81,-2.95 7.81,-5.48 0,-2.53"/></g><polygon fill="#a71428" stroke="#a71428" points="83.61,55.85 89.7,59.73 97.51,56.79 91.42,52.91"/><path class="e" d="M89.7 62.26v-2.53"/><g transform="translate(72.21,62.68)"><polygon class="l" points="0,0 6.1,3.88 6.1,1.58 0,-2.3"/></g><g transform="translate(78.3,66.56)"><polygon class="r" points="0,0 7.81,-2.95 7.81,-5.25 0,-2.3"/></g><polygon fill="#a41327" stroke="#a41327" points="72.21,60.38 78.3,64.26 86.11,61.32 80.02,57.44"/><path class="e" d="M78.3 66.56v-2.3"/><g transform="translate(60.81,66.98)"><polygon class="l" points="0,0 6.1,3.88 6.1,1.58 0,-2.3"/></g><g transform="translate(66.9,70.86)"><polygon class="r" points="0,0 7.81,-2.95 7.81,-5.25 0,-2.3"/></g><polygon fill="#a41327" stroke="#a41327" points="60.81,64.68 66.9,68.56 74.71,65.62 68.62,61.74"/><path class="e" d="M66.9 70.86v-2.3"/><g transform="translate(49.41,71.28)"><polygon class="l" points="0,0 6.1,3.88 6.1,2.5 0,-1.38"/></g><g transform="translate(55.5,75.16)"><polygon class="r" points="0,0 7.81,-2.95 7.81,-4.33 0,-1.38"/></g><polygon fill="#930f25" stroke="#930f25" points="49.41,69.9 55.5,73.78 63.31,70.84 57.22,66.96"/><g transform="translate(38.01,75.58)"><polygon class="l" points="0,0 6.1,3.88 6.1,-42.12 0,-46"/></g><g transform="translate(44.1,79.46)"><polygon class="r" points="0,0 7.81,-2.95 7.81,-48.95 0,-46"/></g><polygon fill="#053061" stroke="#053061" points="38.01,29.58 44.1,33.46 51.91,30.52 45.82,26.64"/><path class="e" d="M44.1 79.46v-46"/><g transform="translate(92.51,64.05)"><polygon class="l" points="0,0 6.1,3.88 6.1,2.04 0,-1.84"/></g><g transform="translate(98.6,67.93)"><polygon class="r" points="0,0 7.81,-2.95 7.81,-4.79 0,-1.84"/></g><polygon fill="#9c1126" stroke="#9c1126" points="92.51,62.21 98.6,66.09 106.41,63.15 100.32,59.27"/><path class="e" d="M98.6 67.93v-1.84"/><g transform="translate(81.11,68.35)"><polygon class="l" points="0,0 6.1,3.88 6.1,1.58 0,-2.3"/></g><g transform="translate(87.2,72.23)"><polygon class="r" points="0,0 7.81,-2.95 7.81,-5.25 0,-2.3"/></g><polygon fill="#a41327" stroke="#a41327" points="81.11,66.05 87.2,69.93 95.01,66.99 88.92,63.11"/><path class="e" d="M87.2 72.23v-2.3"/><g transform="translate(69.71,72.65)"><polygon class="l" points="0,0 6.1,3.88 6.1,1.58 0,-2.3"/></g><g transform="translate(75.8,76.53)"><polygon class="r" points="0,0 7.81,-2.95 7.81,-5.25 0,-2.3"/></g><polygon fill="#a41327" stroke="#a41327" points="69.71,70.35 75.8,74.23 83.61,71.29 77.52,67.41"/><path class="e" d="M75.8 76.53v-2.3"/><g transform="translate(58.31,76.95)"><polygon class="l" points="0,0 6.1,3.88 6.1,-42.12 0,-46"/></g><g transform="translate(64.4,80.83)"><polygon class="r" points="0,0 7.81,-2.95 7.81,-48.95 0,-46"/></g><polygon fill="#053061" stroke="#053061" points="58.31,30.95 64.4,34.83 72.21,31.89 66.12,28.01"/><path class="e" d="M64.4 80.83v-46"/><g transform="translate(46.91,81.25)"><polygon class="l" points="0,0 6.1,3.88 6.1,2.5 0,-1.38"/></g><g transform="translate(53,85.13)"><polygon class="r" points="0,0 7.81,-2.95 7.81,-4.33 0,-1.38"/></g><polygon fill="#930f25" stroke="#930f25" points="46.91,79.87 53,83.75 60.81,80.81 54.72,76.93"/><g transform="translate(101.41,69.72)"><polygon class="l" points="0,0 6.1,3.88 6.1,1.58 0,-2.3"/></g><g transform="translate(107.5,73.6)"><polygon class="r" points="0,0 7.81,-2.95 7.81,-5.25 0,-2.3"/></g><polygon fill="#a41327" stroke="#a41327" points="101.41,67.42 107.5,71.3 115.31,68.36 109.22,64.48"/><path class="e" d="M107.5 73.6v-2.3"/><g transform="translate(90.01,74.02)"><polygon class="l" points="0,0 6.1,3.88 6.1,3.65 0,-0.23"/></g><g transform="translate(96.1,77.9)"><polygon class="r" points="0,0 7.81,-2.95 7.81,-3.18 0,-0.23"/></g><polygon fill="#7e0922" stroke="#7e0922" points="90.01,73.79 96.1,77.67 103.91,74.73 97.82,70.85"/><g transform="translate(78.61,78.32)"><polygon class="l" points="0,0 6.1,3.88 6.1,-42.12 0,-46"/></g><g transform="translate(84.7,82.2)"><polygon class="r" points="0,0 7.81,-2.95 7.81,-48.95 0,-46"/></g><polygon fill="#053061" stroke="#053061" points="78.61,32.32 84.7,36.2 92.51,33.26 86.42,29.38"/><path class="e" d="M84.7 82.2v-46"/><g transform="translate(67.21,82.62)"><polygon class="l" points="0,0 6.1,3.88 6.1,1.58 0,-2.3"/></g><g transform="translate(73.3,86.5)"><polygon class="r" points="0,0 7.81,-2.95 7.81,-5.25 0,-2.3"/></g><polygon fill="#a41327" stroke="#a41327" points="67.21,80.32 73.3,84.2 81.11,81.26 75.02,77.38"/><path class="e" d="M73.3 86.5v-2.3"/><g transform="translate(55.81,86.92)"><polygon class="l" points="0,0 6.1,3.88 6.1,1.58 0,-2.3"/></g><g transform="translate(61.9,90.8)"><polygon class="r" points="0,0 7.81,-2.95 7.81,-5.25 0,-2.3"/></g><polygon fill="#a41327" stroke="#a41327" points="55.81,84.62 61.9,88.5 69.71,85.56 63.62,81.68"/><path class="e" d="M61.9 90.8v-2.3"/><g transform="translate(110.31,75.39)"><polygon class="l" points="0,0 6.1,3.88 6.1,2.27 0,-1.61"/></g><g transform="translate(116.4,79.27)"><polygon class="r" points="0,0 7.81,-2.95 7.81,-4.56 0,-1.61"/></g><polygon fill="#971026" stroke="#971026" points="110.31,73.78 116.4,77.66 124.21,74.72 118.12,70.84"/><path class="e" d="M116.4 79.27v-1.61"/><g transform="translate(98.91,79.69)"><polygon class="l" points="0,0 6.1,3.88 6.1,-42.12 0,-46"/></g><g transform="translate(105,83.57)"><polygon class="r" points="0,0 7.81,-2.95 7.81,-48.95 0,-46"/></g><polygon fill="#053061" stroke="#053061" points="98.91,33.69 105,37.57 112.81,34.63 106.72,30.75"/><path class="e" d="M105 83.57v-46"/><g transform="translate(87.51,83.99)"><polygon class="l" points="0,0 6.1,3.88 6.1,3.65 0,-0.23"/></g><g transform="translate(93.6,87.87)"><polygon class="r" points="0,0 7.81,-2.95 7.81,-3.18 0,-0.23"/></g><polygon fill="#7e0922" stroke="#7e0922" points="87.51,83.76 93.6,87.64 101.41,84.7 95.32,80.82"/><g transform="translate(76.11,88.29)"><polygon class="l" points="0,0 6.1,3.88 6.1,1.58 0,-2.3"/></g><g transform="translate(82.2,92.17)"><polygon class="r" points="0,0 7.81,-2.95 7.81,-5.25 0,-2.3"/></g><polygon fill="#a41327" stroke="#a41327" points="76.11,85.99 82.2,89.87 90.01,86.93 83.92,83.05"/><path class="e" d="M82.2 92.17v-2.3"/><g transform="translate(64.71,92.59)"><polygon class="l" points="0,0 6.1,3.88 6.1,1.58 0,-2.3"/></g><g transform="translate(70.8,96.47)"><polygon class="r" points="0,0 7.81,-2.95 7.81,-5.25 0,-2.3"/></g><polygon fill="#a41327" stroke="#a41327" points="64.71,90.29 70.8,94.17 78.61,91.23 72.52,87.35"/><path class="e" d="M70.8 96.47v-2.3"/><g transform="translate(119.21,81.06)"><polygon class="l" points="0,0 6.1,3.88 6.1,-42.12 0,-46"/></g><g transform="translate(125.3,84.94)"><polygon class="r" points="0,0 7.81,-2.95 7.81,-48.95 0,-46"/></g><polygon fill="#053061" stroke="#053061" points="119.21,35.06 125.3,38.94 133.11,36 127.02,32.12"/><path class="e" d="M125.3 84.94v-46"/><g transform="translate(107.81,85.36)"><polygon class="l" points="0,0 6.1,3.88 6.1,2.27 0,-1.61"/></g><g transform="translate(113.9,89.24)"><polygon class="r" points="0,0 7.81,-2.95 7.81,-4.56 0,-1.61"/></g><polygon fill="#971026" stroke="#971026" points="107.81,83.75 113.9,87.63 121.71,84.69 115.62,80.81"/><path class="e" d="M113.9 89.24v-1.61"/><g transform="translate(96.41,89.66)"><polygon class="l" points="0,0 6.1,3.88 6.1,1.58 0,-2.3"/></g><g transform="translate(102.5,93.54)"><polygon class="r" points="0,0 7.81,-2.95 7.81,-5.25 0,-2.3"/></g><polygon fill="#a41327" stroke="#a41327" points="96.41,87.36 102.5,91.24 110.31,88.3 104.22,84.42"/><path class="e" d="M102.5 93.54v-2.3"/><g transform="translate(85.01,93.96)"><polygon class="l" points="0,0 6.1,3.88 6.1,2.04 0,-1.84"/></g><g transform="translate(91.1,97.84)"><polygon class="r" points="0,0 7.81,-2.95 7.81,-4.79 0,-1.84"/></g><polygon fill="#9c1126" stroke="#9c1126" points="85.01,92.12 91.1,96 98.91,93.06 92.82,89.18"/><path class="e" d="M91.1 97.84v-1.84"/><g transform="translate(73.61,98.26)"><polygon class="l" points="0,0 6.1,3.88 6.1,1.12 0,-2.76"/></g><g transform="translate(79.7,102.14)"><polygon class="r" points="0,0 7.81,-2.95 7.81,-5.71 0,-2.76"/></g><polygon fill="#aa1528" stroke="#aa1528" points="73.61,95.5 79.7,99.38 87.51,96.44 81.42,92.56"/><path class="e" d="M79.7 102.14v-2.76"/><text class="tk" text-anchor="end" x="27.9" y="73">0</text><text class="tk" text-anchor="end" x="27.9" y="50">0.5</text><text class="tk" text-anchor="end" x="27.9" y="27">1</text><text class="tk tf" text-anchor="middle" x="34.68" y="87.12">1</text><text class="tk tf" text-anchor="middle" x="94.7" y="115.7">1</text><text class="tk tf" text-anchor="middle" x="43.46" y="92.74">2</text><text class="tk tf" text-anchor="middle" x="106.3" y="110.9">2</text><text class="tk tf" text-anchor="middle" x="52.24" y="98.36">3</text><text class="tk tf" text-anchor="middle" x="117.5" y="106.7">3</text><text class="tk tf" text-anchor="middle" x="61.02" y="103.98">4</text><text class="tk tf" text-anchor="middle" x="129.1" y="101.9">4</text><text class="tk tf" text-anchor="middle" x="69.8" y="109.6">5</text><text class="tk tf" text-anchor="middle" x="140.7" y="97.8">5</text><text class="lb" text-anchor="middle" transform="translate(14.9,48.2) rotate(-90)">MAC</text><text class="lb lm" text-anchor="middle" transform="translate(30,103) rotate(35.8)">Modal order</text><text class="lb" text-anchor="middle" transform="translate(141.5,112.5) rotate(-22.3)">Modal order</text><text class="cap" text-anchor="middle" x="82.9" y="143.85">(<tspan class="b">d</tspan>) Case4</text></g>
<g transform="translate(190.2,157.6)"><path class="gd" d="M36.06 70.38L89.46 104.4M36.06 70.38L36.06 24.38M47.46 66.08L100.86 100.1M47.46 66.08L47.46 20.08M58.86 61.78L112.26 95.8M58.86 61.78L58.86 15.78M70.26 57.48L123.66 91.5M70.26 57.48L70.26 11.48M81.66 53.18L135.06 87.2M81.66 53.18L81.66 7.18M31.5 72.1L86.22 51.46M86.22 51.46L86.22 5.46M40.4 77.77L95.12 57.13M95.12 57.13L95.12 11.13M49.3 83.44L104.02 62.8M104.02 62.8L104.02 16.8M58.2 89.11L112.92 68.47M112.92 68.47L112.92 22.47M67.1 94.78L121.82 74.14M121.82 74.14L121.82 28.14M76 100.45L130.72 79.81M130.72 79.81L130.72 33.81M84.9 106.12L139.62 85.48M139.62 85.48L139.62 39.48M31.5 72.1L86.22 51.46L139.62 85.48M31.5 49.1L86.22 28.46L139.62 62.48M31.5 26.1L86.22 5.46L139.62 39.48"/><path class="ax" d="M31.5 26.1L31.5 72.1L84.9 106.12L139.62 85.48"/><path class="gd2" d="M31.5 26.1L86.22 5.46L139.62 39.48L139.62 85.48M86.22 5.46L86.22 51.46"/><g transform="translate(83.61,58.38)"><polygon class="l" points="0,0 6.1,3.88 6.1,-0.49 0,-4.37"/></g><g transform="translate(89.7,62.26)"><polygon class="r" points="0,0 7.81,-2.95 7.81,-7.32 0,-4.37"/></g><polygon fill="#bf1b2d" stroke="#bf1b2d" points="83.61,54.01 89.7,57.89 97.51,54.95 91.42,51.07"/><path class="e" d="M89.7 62.26v-4.37"/><g transform="translate(72.21,62.68)"><polygon class="l" points="0,0 6.1,3.88 6.1,0.2 0,-3.68"/></g><g transform="translate(78.3,66.56)"><polygon class="r" points="0,0 7.81,-2.95 7.81,-6.63 0,-3.68"/></g><polygon fill="#b6182b" stroke="#b6182b" points="72.21,59 78.3,62.88 86.11,59.94 80.02,56.06"/><path class="e" d="M78.3 66.56v-3.68"/><g transform="translate(60.81,66.98)"><polygon class="l" points="0,0 6.1,3.88 6.1,1.49 0,-2.39"/></g><g transform="translate(66.9,70.86)"><polygon class="r" points="0,0 7.81,-2.95 7.81,-5.34 0,-2.39"/></g><polygon fill="#a51327" stroke="#a51327" points="60.81,64.59 66.9,68.47 74.71,65.53 68.62,61.64"/><path class="e" d="M66.9 70.86v-2.39"/><g transform="translate(49.41,71.28)"><polygon class="l" points="0,0 6.1,3.88 6.1,1.49 0,-2.39"/></g><g transform="translate(55.5,75.16)"><polygon class="r" points="0,0 7.81,-2.95 7.81,-5.34 0,-2.39"/></g><polygon fill="#a51327" stroke="#a51327" points="49.41,68.89 55.5,72.77 63.31,69.83 57.22,65.94"/><path class="e" d="M55.5 75.16v-2.39"/><g transform="translate(38.01,75.58)"><polygon class="l" points="0,0 6.1,3.88 6.1,-42.12 0,-46"/></g><g transform="translate(44.1,79.46)"><polygon class="r" points="0,0 7.81,-2.95 7.81,-48.95 0,-46"/></g><polygon fill="#053061" stroke="#053061" points="38.01,29.58 44.1,33.46 51.91,30.52 45.82,26.64"/><path class="e" d="M44.1 79.46v-46"/><g transform="translate(92.51,64.05)"><polygon class="l" points="0,0 6.1,3.88 6.1,0.89 0,-2.99"/></g><g transform="translate(98.6,67.93)"><polygon class="r" points="0,0 7.81,-2.95 7.81,-5.94 0,-2.99"/></g><polygon fill="#ad1629" stroke="#ad1629" points="92.51,61.06 98.6,64.94 106.41,62 100.32,58.12"/><path class="e" d="M98.6 67.93v-2.99"/><g transform="translate(81.11,68.35)"><polygon class="l" points="0,0 6.1,3.88 6.1,0.89 0,-2.99"/></g><g transform="translate(87.2,72.23)"><polygon class="r" points="0,0 7.81,-2.95 7.81,-5.94 0,-2.99"/></g><polygon fill="#ad1629" stroke="#ad1629" points="81.11,65.36 87.2,69.24 95.01,66.3 88.92,62.42"/><path class="e" d="M87.2 72.23v-2.99"/><g transform="translate(69.71,72.65)"><polygon class="l" points="0,0 6.1,3.88 6.1,0.89 0,-2.99"/></g><g transform="translate(75.8,76.53)"><polygon class="r" points="0,0 7.81,-2.95 7.81,-5.94 0,-2.99"/></g><polygon fill="#ad1629" stroke="#ad1629" points="69.71,69.66 75.8,73.54 83.61,70.6 77.52,66.72"/><path class="e" d="M75.8 76.53v-2.99"/><g transform="translate(58.31,76.95)"><polygon class="l" points="0,0 6.1,3.88 6.1,-42.12 0,-46"/></g><g transform="translate(64.4,80.83)"><polygon class="r" points="0,0 7.81,-2.95 7.81,-48.95 0,-46"/></g><polygon fill="#053061" stroke="#053061" points="58.31,30.95 64.4,34.83 72.21,31.89 66.12,28.01"/><path class="e" d="M64.4 80.83v-46"/><g transform="translate(46.91,81.25)"><polygon class="l" points="0,0 6.1,3.88 6.1,3.42 0,-0.46"/></g><g transform="translate(53,85.13)"><polygon class="r" points="0,0 7.81,-2.95 7.81,-3.41 0,-0.46"/></g><polygon fill="#820a23" stroke="#820a23" points="46.91,80.79 53,84.67 60.81,81.73 54.72,77.85"/><g transform="translate(101.41,69.72)"><polygon class="l" points="0,0 6.1,3.88 6.1,-0.72 0,-4.6"/></g><g transform="translate(107.5,73.6)"><polygon class="r" points="0,0 7.81,-2.95 7.81,-7.55 0,-4.6"/></g><polygon fill="#c21c2e" stroke="#c21c2e" points="101.41,65.12 107.5,69 115.31,66.06 109.22,62.18"/><path class="e" d="M107.5 73.6v-4.6"/><g transform="translate(90.01,74.02)"><polygon class="l" points="0,0 6.1,3.88 6.1,0.89 0,-2.99"/></g><g transform="translate(96.1,77.9)"><polygon class="r" points="0,0 7.81,-2.95 7.81,-5.94 0,-2.99"/></g><polygon fill="#ad1629" stroke="#ad1629" points="90.01,71.03 96.1,74.91 103.91,71.97 97.82,68.09"/><path class="e" d="M96.1 77.9v-2.99"/><g transform="translate(78.61,78.32)"><polygon class="l" points="0,0 6.1,3.88 6.1,-42.12 0,-46"/></g><g transform="translate(84.7,82.2)"><polygon class="r" points="0,0 7.81,-2.95 7.81,-48.95 0,-46"/></g><polygon fill="#053061" stroke="#053061" points="78.61,32.32 84.7,36.2 92.51,33.26 86.42,29.38"/><path class="e" d="M84.7 82.2v-46"/><g transform="translate(67.21,82.62)"><polygon class="l" points="0,0 6.1,3.88 6.1,0.89 0,-2.99"/></g><g transform="translate(73.3,86.5)"><polygon class="r" points="0,0 7.81,-2.95 7.81,-5.94 0,-2.99"/></g><polygon fill="#ad1629" stroke="#ad1629" points="67.21,79.63 73.3,83.51 81.11,80.57 75.02,76.69"/><path class="e" d="M73.3 86.5v-2.99"/><g transform="translate(55.81,86.92)"><polygon class="l" points="0,0 6.1,3.88 6.1,1.49 0,-2.39"/></g><g transform="translate(61.9,90.8)"><polygon class="r" points="0,0 7.81,-2.95 7.81,-5.34 0,-2.39"/></g><polygon fill="#a51327" stroke="#a51327" points="55.81,84.53 61.9,88.41 69.71,85.47 63.62,81.58"/><path class="e" d="M61.9 90.8v-2.39"/><g transform="translate(110.31,75.39)"><polygon class="l" points="0,0 6.1,3.88 6.1,0.89 0,-2.99"/></g><g transform="translate(116.4,79.27)"><polygon class="r" points="0,0 7.81,-2.95 7.81,-5.94 0,-2.99"/></g><polygon fill="#ad1629" stroke="#ad1629" points="110.31,72.4 116.4,76.28 124.21,73.34 118.12,69.46"/><path class="e" d="M116.4 79.27v-2.99"/><g transform="translate(98.91,79.69)"><polygon class="l" points="0,0 6.1,3.88 6.1,-42.12 0,-46"/></g><g transform="translate(105,83.57)"><polygon class="r" points="0,0 7.81,-2.95 7.81,-48.95 0,-46"/></g><polygon fill="#053061" stroke="#053061" points="98.91,33.69 105,37.57 112.81,34.63 106.72,30.75"/><path class="e" d="M105 83.57v-46"/><g transform="translate(87.51,83.99)"><polygon class="l" points="0,0 6.1,3.88 6.1,0.89 0,-2.99"/></g><g transform="translate(93.6,87.87)"><polygon class="r" points="0,0 7.81,-2.95 7.81,-5.94 0,-2.99"/></g><polygon fill="#ad1629" stroke="#ad1629" points="87.51,81 93.6,84.88 101.41,81.94 95.32,78.06"/><path class="e" d="M93.6 87.87v-2.99"/><g transform="translate(76.11,88.29)"><polygon class="l" points="0,0 6.1,3.88 6.1,0.89 0,-2.99"/></g><g transform="translate(82.2,92.17)"><polygon class="r" points="0,0 7.81,-2.95 7.81,-5.94 0,-2.99"/></g><polygon fill="#ad1629" stroke="#ad1629" points="76.11,85.3 82.2,89.18 90.01,86.24 83.92,82.36"/><path class="e" d="M82.2 92.17v-2.99"/><g transform="translate(64.71,92.59)"><polygon class="l" points="0,0 6.1,3.88 6.1,0.89 0,-2.99"/></g><g transform="translate(70.8,96.47)"><polygon class="r" points="0,0 7.81,-2.95 7.81,-5.94 0,-2.99"/></g><polygon fill="#ad1629" stroke="#ad1629" points="64.71,89.6 70.8,93.48 78.61,90.54 72.52,86.66"/><path class="e" d="M70.8 96.47v-2.99"/><g transform="translate(119.21,81.06)"><polygon class="l" points="0,0 6.1,3.88 6.1,-42.12 0,-46"/></g><g transform="translate(125.3,84.94)"><polygon class="r" points="0,0 7.81,-2.95 7.81,-48.95 0,-46"/></g><polygon fill="#053061" stroke="#053061" points="119.21,35.06 125.3,38.94 133.11,36 127.02,32.12"/><path class="e" d="M125.3 84.94v-46"/><g transform="translate(107.81,85.36)"><polygon class="l" points="0,0 6.1,3.88 6.1,0.89 0,-2.99"/></g><g transform="translate(113.9,89.24)"><polygon class="r" points="0,0 7.81,-2.95 7.81,-5.94 0,-2.99"/></g><polygon fill="#ad1629" stroke="#ad1629" points="107.81,82.37 113.9,86.25 121.71,83.31 115.62,79.43"/><path class="e" d="M113.9 89.24v-2.99"/><g transform="translate(96.41,89.66)"><polygon class="l" points="0,0 6.1,3.88 6.1,0.89 0,-2.99"/></g><g transform="translate(102.5,93.54)"><polygon class="r" points="0,0 7.81,-2.95 7.81,-5.94 0,-2.99"/></g><polygon fill="#ad1629" stroke="#ad1629" points="96.41,86.67 102.5,90.55 110.31,87.61 104.22,83.73"/><path class="e" d="M102.5 93.54v-2.99"/><g transform="translate(85.01,93.96)"><polygon class="l" points="0,0 6.1,3.88 6.1,0.89 0,-2.99"/></g><g transform="translate(91.1,97.84)"><polygon class="r" points="0,0 7.81,-2.95 7.81,-5.94 0,-2.99"/></g><polygon fill="#ad1629" stroke="#ad1629" points="85.01,90.97 91.1,94.85 98.91,91.91 92.82,88.03"/><path class="e" d="M91.1 97.84v-2.99"/><g transform="translate(73.61,98.26)"><polygon class="l" points="0,0 6.1,3.88 6.1,-0.3 0,-4.19"/></g><g transform="translate(79.7,102.14)"><polygon class="r" points="0,0 7.81,-2.95 7.81,-7.13 0,-4.19"/></g><polygon fill="#bd1a2d" stroke="#bd1a2d" points="73.61,94.07 79.7,97.96 87.51,95.01 81.42,91.13"/><path class="e" d="M79.7 102.14v-4.19"/><text class="tk" text-anchor="end" x="27.9" y="73">0</text><text class="tk" text-anchor="end" x="27.9" y="50">0.5</text><text class="tk" text-anchor="end" x="27.9" y="27">1</text><text class="tk tf" text-anchor="middle" x="34.68" y="87.12">1</text><text class="tk tf" text-anchor="middle" x="94.7" y="115.7">1</text><text class="tk tf" text-anchor="middle" x="43.46" y="92.74">2</text><text class="tk tf" text-anchor="middle" x="106.3" y="110.9">2</text><text class="tk tf" text-anchor="middle" x="52.24" y="98.36">3</text><text class="tk tf" text-anchor="middle" x="117.5" y="106.7">3</text><text class="tk tf" text-anchor="middle" x="61.02" y="103.98">4</text><text class="tk tf" text-anchor="middle" x="129.1" y="101.9">4</text><text class="tk tf" text-anchor="middle" x="69.8" y="109.6">5</text><text class="tk tf" text-anchor="middle" x="140.7" y="97.8">5</text><text class="lb" text-anchor="middle" transform="translate(14.9,48.2) rotate(-90)">MAC</text><text class="lb lm" text-anchor="middle" transform="translate(30,103) rotate(35.8)">Modal order</text><text class="lb" text-anchor="middle" transform="translate(141.5,112.5) rotate(-22.3)">Modal order</text><text class="cap" text-anchor="middle" x="82.9" y="143.85">(<tspan class="b">e</tspan>) Case5</text></g>
<g transform="translate(380.4,157.6)"><path class="gd" d="M36.06 70.38L89.46 104.4M36.06 70.38L36.06 24.38M47.46 66.08L100.86 100.1M47.46 66.08L47.46 20.08M58.86 61.78L112.26 95.8M58.86 61.78L58.86 15.78M70.26 57.48L123.66 91.5M70.26 57.48L70.26 11.48M81.66 53.18L135.06 87.2M81.66 53.18L81.66 7.18M31.5 72.1L86.22 51.46M86.22 51.46L86.22 5.46M40.4 77.77L95.12 57.13M95.12 57.13L95.12 11.13M49.3 83.44L104.02 62.8M104.02 62.8L104.02 16.8M58.2 89.11L112.92 68.47M112.92 68.47L112.92 22.47M67.1 94.78L121.82 74.14M121.82 74.14L121.82 28.14M76 100.45L130.72 79.81M130.72 79.81L130.72 33.81M84.9 106.12L139.62 85.48M139.62 85.48L139.62 39.48M31.5 72.1L86.22 51.46L139.62 85.48M31.5 49.1L86.22 28.46L139.62 62.48M31.5 26.1L86.22 5.46L139.62 39.48"/><path class="ax" d="M31.5 26.1L31.5 72.1L84.9 106.12L139.62 85.48"/><path class="gd2" d="M31.5 26.1L86.22 5.46L139.62 39.48L139.62 85.48M86.22 5.46L86.22 51.46"/><g transform="translate(83.61,58.38)"><polygon class="l" points="0,0 6.1,3.88 6.1,3.19 0,-0.69"/></g><g transform="translate(89.7,62.26)"><polygon class="r" points="0,0 7.81,-2.95 7.81,-3.64 0,-0.69"/></g><polygon fill="#870b24" stroke="#870b24" points="83.61,57.69 89.7,61.57 97.51,58.63 91.42,54.75"/><g transform="translate(72.21,62.68)"><polygon class="l" points="0,0 6.1,3.88 6.1,3.7 0,-0.18"/></g><g transform="translate(78.3,66.56)"><polygon class="r" points="0,0 7.81,-2.95 7.81,-3.13 0,-0.18"/></g><polygon fill="#7d0922" stroke="#7d0922" points="72.21,62.5 78.3,66.38 86.11,63.44 80.02,59.55"/><g transform="translate(60.81,66.98)"><polygon class="l" points="0,0 6.1,3.88 6.1,3.7 0,-0.18"/></g><g transform="translate(66.9,70.86)"><polygon class="r" points="0,0 7.81,-2.95 7.81,-3.13 0,-0.18"/></g><polygon fill="#7d0922" stroke="#7d0922" points="60.81,66.8 66.9,70.68 74.71,67.74 68.62,63.85"/><g transform="translate(49.41,71.28)"><polygon class="l" points="0,0 6.1,3.88 6.1,3.7 0,-0.18"/></g><g transform="translate(55.5,75.16)"><polygon class="r" points="0,0 7.81,-2.95 7.81,-3.13 0,-0.18"/></g><polygon fill="#7d0922" stroke="#7d0922" points="49.41,71.1 55.5,74.98 63.31,72.04 57.22,68.15"/><g transform="translate(38.01,75.58)"><polygon class="l" points="0,0 6.1,3.88 6.1,-42.12 0,-46"/></g><g transform="translate(44.1,79.46)"><polygon class="r" points="0,0 7.81,-2.95 7.81,-48.95 0,-46"/></g><polygon fill="#053061" stroke="#053061" points="38.01,29.58 44.1,33.46 51.91,30.52 45.82,26.64"/><path class="e" d="M44.1 79.46v-46"/><g transform="translate(92.51,64.05)"><polygon class="l" points="0,0 6.1,3.88 6.1,3.7 0,-0.18"/></g><g transform="translate(98.6,67.93)"><polygon class="r" points="0,0 7.81,-2.95 7.81,-3.13 0,-0.18"/></g><polygon fill="#7d0922" stroke="#7d0922" points="92.51,63.87 98.6,67.75 106.41,64.81 100.32,60.92"/><g transform="translate(81.11,68.35)"><polygon class="l" points="0,0 6.1,3.88 6.1,3.7 0,-0.18"/></g><g transform="translate(87.2,72.23)"><polygon class="r" points="0,0 7.81,-2.95 7.81,-3.13 0,-0.18"/></g><polygon fill="#7d0922" stroke="#7d0922" points="81.11,68.17 87.2,72.05 95.01,69.11 88.92,65.22"/><g transform="translate(69.71,72.65)"><polygon class="l" points="0,0 6.1,3.88 6.1,3.7 0,-0.18"/></g><g transform="translate(75.8,76.53)"><polygon class="r" points="0,0 7.81,-2.95 7.81,-3.13 0,-0.18"/></g><polygon fill="#7d0922" stroke="#7d0922" points="69.71,72.47 75.8,76.35 83.61,73.41 77.52,69.52"/><g transform="translate(58.31,76.95)"><polygon class="l" points="0,0 6.1,3.88 6.1,-42.12 0,-46"/></g><g transform="translate(64.4,80.83)"><polygon class="r" points="0,0 7.81,-2.95 7.81,-48.95 0,-46"/></g><polygon fill="#053061" stroke="#053061" points="58.31,30.95 64.4,34.83 72.21,31.89 66.12,28.01"/><path class="e" d="M64.4 80.83v-46"/><g transform="translate(46.91,81.25)"><polygon class="l" points="0,0 6.1,3.88 6.1,3.7 0,-0.18"/></g><g transform="translate(53,85.13)"><polygon class="r" points="0,0 7.81,-2.95 7.81,-3.13 0,-0.18"/></g><polygon fill="#7d0922" stroke="#7d0922" points="46.91,81.07 53,84.95 60.81,82.01 54.72,78.12"/><g transform="translate(101.41,69.72)"><polygon class="l" points="0,0 6.1,3.88 6.1,3.7 0,-0.18"/></g><g transform="translate(107.5,73.6)"><polygon class="r" points="0,0 7.81,-2.95 7.81,-3.13 0,-0.18"/></g><polygon fill="#7d0922" stroke="#7d0922" points="101.41,69.54 107.5,73.42 115.31,70.48 109.22,66.59"/><g transform="translate(90.01,74.02)"><polygon class="l" points="0,0 6.1,3.88 6.1,3.7 0,-0.18"/></g><g transform="translate(96.1,77.9)"><polygon class="r" points="0,0 7.81,-2.95 7.81,-3.13 0,-0.18"/></g><polygon fill="#7d0922" stroke="#7d0922" points="90.01,73.84 96.1,77.72 103.91,74.78 97.82,70.89"/><g transform="translate(78.61,78.32)"><polygon class="l" points="0,0 6.1,3.88 6.1,-42.12 0,-46"/></g><g transform="translate(84.7,82.2)"><polygon class="r" points="0,0 7.81,-2.95 7.81,-48.95 0,-46"/></g><polygon fill="#053061" stroke="#053061" points="78.61,32.32 84.7,36.2 92.51,33.26 86.42,29.38"/><path class="e" d="M84.7 82.2v-46"/><g transform="translate(67.21,82.62)"><polygon class="l" points="0,0 6.1,3.88 6.1,3.7 0,-0.18"/></g><g transform="translate(73.3,86.5)"><polygon class="r" points="0,0 7.81,-2.95 7.81,-3.13 0,-0.18"/></g><polygon fill="#7d0922" stroke="#7d0922" points="67.21,82.44 73.3,86.32 81.11,83.38 75.02,79.49"/><g transform="translate(55.81,86.92)"><polygon class="l" points="0,0 6.1,3.88 6.1,3.7 0,-0.18"/></g><g transform="translate(61.9,90.8)"><polygon class="r" points="0,0 7.81,-2.95 7.81,-3.13 0,-0.18"/></g><polygon fill="#7d0922" stroke="#7d0922" points="55.81,86.74 61.9,90.62 69.71,87.68 63.62,83.79"/><g transform="translate(110.31,75.39)"><polygon class="l" points="0,0 6.1,3.88 6.1,3.7 0,-0.18"/></g><g transform="translate(116.4,79.27)"><polygon class="r" points="0,0 7.81,-2.95 7.81,-3.13 0,-0.18"/></g><polygon fill="#7d0922" stroke="#7d0922" points="110.31,75.21 116.4,79.09 124.21,76.15 118.12,72.26"/><g transform="translate(98.91,79.69)"><polygon class="l" points="0,0 6.1,3.88 6.1,-42.12 0,-46"/></g><g transform="translate(105,83.57)"><polygon class="r" points="0,0 7.81,-2.95 7.81,-48.95 0,-46"/></g><polygon fill="#053061" stroke="#053061" points="98.91,33.69 105,37.57 112.81,34.63 106.72,30.75"/><path class="e" d="M105 83.57v-46"/><g transform="translate(87.51,83.99)"><polygon class="l" points="0,0 6.1,3.88 6.1,3.7 0,-0.18"/></g><g transform="translate(93.6,87.87)"><polygon class="r" points="0,0 7.81,-2.95 7.81,-3.13 0,-0.18"/></g><polygon fill="#7d0922" stroke="#7d0922" points="87.51,83.81 93.6,87.69 101.41,84.75 95.32,80.86"/><g transform="translate(76.11,88.29)"><polygon class="l" points="0,0 6.1,3.88 6.1,3.7 0,-0.18"/></g><g transform="translate(82.2,92.17)"><polygon class="r" points="0,0 7.81,-2.95 7.81,-3.13 0,-0.18"/></g><polygon fill="#7d0922" stroke="#7d0922" points="76.11,88.11 82.2,91.99 90.01,89.05 83.92,85.16"/><g transform="translate(64.71,92.59)"><polygon class="l" points="0,0 6.1,3.88 6.1,3.7 0,-0.18"/></g><g transform="translate(70.8,96.47)"><polygon class="r" points="0,0 7.81,-2.95 7.81,-3.13 0,-0.18"/></g><polygon fill="#7d0922" stroke="#7d0922" points="64.71,92.41 70.8,96.29 78.61,93.35 72.52,89.46"/><g transform="translate(119.21,81.06)"><polygon class="l" points="0,0 6.1,3.88 6.1,-42.12 0,-46"/></g><g transform="translate(125.3,84.94)"><polygon class="r" points="0,0 7.81,-2.95 7.81,-48.95 0,-46"/></g><polygon fill="#053061" stroke="#053061" points="119.21,35.06 125.3,38.94 133.11,36 127.02,32.12"/><path class="e" d="M125.3 84.94v-46"/><g transform="translate(107.81,85.36)"><polygon class="l" points="0,0 6.1,3.88 6.1,3.7 0,-0.18"/></g><g transform="translate(113.9,89.24)"><polygon class="r" points="0,0 7.81,-2.95 7.81,-3.13 0,-0.18"/></g><polygon fill="#7d0922" stroke="#7d0922" points="107.81,85.18 113.9,89.06 121.71,86.12 115.62,82.23"/><g transform="translate(96.41,89.66)"><polygon class="l" points="0,0 6.1,3.88 6.1,3.7 0,-0.18"/></g><g transform="translate(102.5,93.54)"><polygon class="r" points="0,0 7.81,-2.95 7.81,-3.13 0,-0.18"/></g><polygon fill="#7d0922" stroke="#7d0922" points="96.41,89.48 102.5,93.36 110.31,90.42 104.22,86.53"/><g transform="translate(85.01,93.96)"><polygon class="l" points="0,0 6.1,3.88 6.1,3.7 0,-0.18"/></g><g transform="translate(91.1,97.84)"><polygon class="r" points="0,0 7.81,-2.95 7.81,-3.13 0,-0.18"/></g><polygon fill="#7d0922" stroke="#7d0922" points="85.01,93.78 91.1,97.66 98.91,94.72 92.82,90.83"/><g transform="translate(73.61,98.26)"><polygon class="l" points="0,0 6.1,3.88 6.1,3.7 0,-0.18"/></g><g transform="translate(79.7,102.14)"><polygon class="r" points="0,0 7.81,-2.95 7.81,-3.13 0,-0.18"/></g><polygon fill="#7d0922" stroke="#7d0922" points="73.61,98.08 79.7,101.96 87.51,99.02 81.42,95.13"/><text class="tk" text-anchor="end" x="27.9" y="73">0</text><text class="tk" text-anchor="end" x="27.9" y="50">0.5</text><text class="tk" text-anchor="end" x="27.9" y="27">1</text><text class="tk tf" text-anchor="middle" x="34.68" y="87.12">1</text><text class="tk tf" text-anchor="middle" x="94.7" y="115.7">1</text><text class="tk tf" text-anchor="middle" x="43.46" y="92.74">2</text><text class="tk tf" text-anchor="middle" x="106.3" y="110.9">2</text><text class="tk tf" text-anchor="middle" x="52.24" y="98.36">3</text><text class="tk tf" text-anchor="middle" x="117.5" y="106.7">3</text><text class="tk tf" text-anchor="middle" x="61.02" y="103.98">4</text><text class="tk tf" text-anchor="middle" x="129.1" y="101.9">4</text><text class="tk tf" text-anchor="middle" x="69.8" y="109.6">5</text><text class="tk tf" text-anchor="middle" x="140.7" y="97.8">5</text><text class="lb" text-anchor="middle" transform="translate(14.9,48.2) rotate(-90)">MAC</text><text class="lb lm" text-anchor="middle" transform="translate(30,103) rotate(35.8)">Modal order</text><text class="lb" text-anchor="middle" transform="translate(141.5,112.5) rotate(-22.3)">Modal order</text><text class="cap" text-anchor="middle" x="82.9" y="143.85">(<tspan class="b">f</tspan>) Case6</text></g>
<g transform="translate(0,314.4)"><path class="gd" d="M36.06 70.38L89.46 104.4M36.06 70.38L36.06 24.38M47.46 66.08L100.86 100.1M47.46 66.08L47.46 20.08M58.86 61.78L112.26 95.8M58.86 61.78L58.86 15.78M70.26 57.48L123.66 91.5M70.26 57.48L70.26 11.48M81.66 53.18L135.06 87.2M81.66 53.18L81.66 7.18M31.5 72.1L86.22 51.46M86.22 51.46L86.22 5.46M40.4 77.77L95.12 57.13M95.12 57.13L95.12 11.13M49.3 83.44L104.02 62.8M104.02 62.8L104.02 16.8M58.2 89.11L112.92 68.47M112.92 68.47L112.92 22.47M67.1 94.78L121.82 74.14M121.82 74.14L121.82 28.14M76 100.45L130.72 79.81M130.72 79.81L130.72 33.81M84.9 106.12L139.62 85.48M139.62 85.48L139.62 39.48M31.5 72.1L86.22 51.46L139.62 85.48M31.5 49.1L86.22 28.46L139.62 62.48M31.5 26.1L86.22 5.46L139.62 39.48"/><path class="ax" d="M31.5 26.1L31.5 72.1L84.9 106.12L139.62 85.48"/><path class="gd2" d="M31.5 26.1L86.22 5.46L139.62 39.48L139.62 85.48M86.22 5.46L86.22 51.46"/><g transform="translate(83.61,58.38)"><polygon class="l" points="0,0 6.1,3.88 6.1,1.81 0,-2.07"/></g><g transform="translate(89.7,62.26)"><polygon class="r" points="0,0 7.81,-2.95 7.81,-5.02 0,-2.07"/></g><polygon fill="#a01226" stroke="#a01226" points="83.61,56.31 89.7,60.19 97.51,57.25 91.42,53.37"/><path class="e" d="M89.7 62.26v-2.07"/><g transform="translate(72.21,62.68)"><polygon class="l" points="0,0 6.1,3.88 6.1,-1.18 0,-5.06"/></g><g transform="translate(78.3,66.56)"><polygon class="r" points="0,0 7.81,-2.95 7.81,-8.01 0,-5.06"/></g><polygon fill="#c52030" stroke="#c52030" points="72.21,57.62 78.3,61.5 86.11,58.56 80.02,54.68"/><path class="e" d="M78.3 66.56v-5.06"/><g transform="translate(60.81,66.98)"><polygon class="l" points="0,0 6.1,3.88 6.1,1.12 0,-2.76"/></g><g transform="translate(66.9,70.86)"><polygon class="r" points="0,0 7.81,-2.95 7.81,-5.71 0,-2.76"/></g><polygon fill="#aa1528" stroke="#aa1528" points="60.81,64.22 66.9,68.1 74.71,65.16 68.62,61.28"/><path class="e" d="M66.9 70.86v-2.76"/><g transform="translate(49.41,71.28)"><polygon class="l" points="0,0 6.1,3.88 6.1,0.89 0,-2.99"/></g><g transform="translate(55.5,75.16)"><polygon class="r" points="0,0 7.81,-2.95 7.81,-5.94 0,-2.99"/></g><polygon fill="#ad1629" stroke="#ad1629" points="49.41,68.29 55.5,72.17 63.31,69.23 57.22,65.35"/><path class="e" d="M55.5 75.16v-2.99"/><g transform="translate(38.01,75.58)"><polygon class="l" points="0,0 6.1,3.88 6.1,-42.12 0,-46"/></g><g transform="translate(44.1,79.46)"><polygon class="r" points="0,0 7.81,-2.95 7.81,-48.95 0,-46"/></g><polygon fill="#053061" stroke="#053061" points="38.01,29.58 44.1,33.46 51.91,30.52 45.82,26.64"/><path class="e" d="M44.1 79.46v-46"/><g transform="translate(92.51,64.05)"><polygon class="l" points="0,0 6.1,3.88 6.1,2.69 0,-1.2"/></g><g transform="translate(98.6,67.93)"><polygon class="r" points="0,0 7.81,-2.95 7.81,-4.14 0,-1.2"/></g><polygon fill="#900e25" stroke="#900e25" points="92.51,62.85 98.6,66.74 106.41,63.79 100.32,59.91"/><g transform="translate(81.11,68.35)"><polygon class="l" points="0,0 6.1,3.88 6.1,2.09 0,-1.79"/></g><g transform="translate(87.2,72.23)"><polygon class="r" points="0,0 7.81,-2.95 7.81,-4.74 0,-1.79"/></g><polygon fill="#9b1126" stroke="#9b1126" points="81.11,66.56 87.2,70.44 95.01,67.5 88.92,63.61"/><path class="e" d="M87.2 72.23v-1.79"/><g transform="translate(69.71,72.65)"><polygon class="l" points="0,0 6.1,3.88 6.1,2.09 0,-1.79"/></g><g transform="translate(75.8,76.53)"><polygon class="r" points="0,0 7.81,-2.95 7.81,-4.74 0,-1.79"/></g><polygon fill="#9b1126" stroke="#9b1126" points="69.71,70.86 75.8,74.74 83.61,71.8 77.52,67.91"/><path class="e" d="M75.8 76.53v-1.79"/><g transform="translate(58.31,76.95)"><polygon class="l" points="0,0 6.1,3.88 6.1,-42.12 0,-46"/></g><g transform="translate(64.4,80.83)"><polygon class="r" points="0,0 7.81,-2.95 7.81,-48.95 0,-46"/></g><polygon fill="#053061" stroke="#053061" points="58.31,30.95 64.4,34.83 72.21,31.89 66.12,28.01"/><path class="e" d="M64.4 80.83v-46"/><g transform="translate(46.91,81.25)"><polygon class="l" points="0,0 6.1,3.88 6.1,0.89 0,-2.99"/></g><g transform="translate(53,85.13)"><polygon class="r" points="0,0 7.81,-2.95 7.81,-5.94 0,-2.99"/></g><polygon fill="#ad1629" stroke="#ad1629" points="46.91,78.26 53,82.14 60.81,79.2 54.72,75.32"/><path class="e" d="M53 85.13v-2.99"/><g transform="translate(101.41,69.72)"><polygon class="l" points="0,0 6.1,3.88 6.1,2.96 0,-0.92"/></g><g transform="translate(107.5,73.6)"><polygon class="r" points="0,0 7.81,-2.95 7.81,-3.87 0,-0.92"/></g><polygon fill="#8b0c24" stroke="#8b0c24" points="101.41,68.8 107.5,72.68 115.31,69.74 109.22,65.86"/><g transform="translate(90.01,74.02)"><polygon class="l" points="0,0 6.1,3.88 6.1,2.96 0,-0.92"/></g><g transform="translate(96.1,77.9)"><polygon class="r" points="0,0 7.81,-2.95 7.81,-3.87 0,-0.92"/></g><polygon fill="#8b0c24" stroke="#8b0c24" points="90.01,73.1 96.1,76.98 103.91,74.04 97.82,70.16"/><g transform="translate(78.61,78.32)"><polygon class="l" points="0,0 6.1,3.88 6.1,-42.12 0,-46"/></g><g transform="translate(84.7,82.2)"><polygon class="r" points="0,0 7.81,-2.95 7.81,-48.95 0,-46"/></g><polygon fill="#053061" stroke="#053061" points="78.61,32.32 84.7,36.2 92.51,33.26 86.42,29.38"/><path class="e" d="M84.7 82.2v-46"/><g transform="translate(67.21,82.62)"><polygon class="l" points="0,0 6.1,3.88 6.1,2.09 0,-1.79"/></g><g transform="translate(73.3,86.5)"><polygon class="r" points="0,0 7.81,-2.95 7.81,-4.74 0,-1.79"/></g><polygon fill="#9b1126" stroke="#9b1126" points="67.21,80.83 73.3,84.71 81.11,81.77 75.02,77.88"/><path class="e" d="M73.3 86.5v-1.79"/><g transform="translate(55.81,86.92)"><polygon class="l" points="0,0 6.1,3.88 6.1,1.12 0,-2.76"/></g><g transform="translate(61.9,90.8)"><polygon class="r" points="0,0 7.81,-2.95 7.81,-5.71 0,-2.76"/></g><polygon fill="#aa1528" stroke="#aa1528" points="55.81,84.16 61.9,88.04 69.71,85.1 63.62,81.22"/><path class="e" d="M61.9 90.8v-2.76"/><g transform="translate(110.31,75.39)"><polygon class="l" points="0,0 6.1,3.88 6.1,2.96 0,-0.92"/></g><g transform="translate(116.4,79.27)"><polygon class="r" points="0,0 7.81,-2.95 7.81,-3.87 0,-0.92"/></g><polygon fill="#8b0c24" stroke="#8b0c24" points="110.31,74.47 116.4,78.35 124.21,75.41 118.12,71.53"/><g transform="translate(98.91,79.69)"><polygon class="l" points="0,0 6.1,3.88 6.1,-42.12 0,-46"/></g><g transform="translate(105,83.57)"><polygon class="r" points="0,0 7.81,-2.95 7.81,-48.95 0,-46"/></g><polygon fill="#053061" stroke="#053061" points="98.91,33.69 105,37.57 112.81,34.63 106.72,30.75"/><path class="e" d="M105 83.57v-46"/><g transform="translate(87.51,83.99)"><polygon class="l" points="0,0 6.1,3.88 6.1,2.96 0,-0.92"/></g><g transform="translate(93.6,87.87)"><polygon class="r" points="0,0 7.81,-2.95 7.81,-3.87 0,-0.92"/></g><polygon fill="#8b0c24" stroke="#8b0c24" points="87.51,83.07 93.6,86.95 101.41,84.01 95.32,80.13"/><g transform="translate(76.11,88.29)"><polygon class="l" points="0,0 6.1,3.88 6.1,2.09 0,-1.79"/></g><g transform="translate(82.2,92.17)"><polygon class="r" points="0,0 7.81,-2.95 7.81,-4.74 0,-1.79"/></g><polygon fill="#9b1126" stroke="#9b1126" points="76.11,86.5 82.2,90.38 90.01,87.44 83.92,83.55"/><path class="e" d="M82.2 92.17v-1.79"/><g transform="translate(64.71,92.59)"><polygon class="l" points="0,0 6.1,3.88 6.1,3.65 0,-0.23"/></g><g transform="translate(70.8,96.47)"><polygon class="r" points="0,0 7.81,-2.95 7.81,-3.18 0,-0.23"/></g><polygon fill="#7e0922" stroke="#7e0922" points="64.71,92.36 70.8,96.24 78.61,93.3 72.52,89.42"/><g transform="translate(119.21,81.06)"><polygon class="l" points="0,0 6.1,3.88 6.1,-42.12 0,-46"/></g><g transform="translate(125.3,84.94)"><polygon class="r" points="0,0 7.81,-2.95 7.81,-48.95 0,-46"/></g><polygon fill="#053061" stroke="#053061" points="119.21,35.06 125.3,38.94 133.11,36 127.02,32.12"/><path class="e" d="M125.3 84.94v-46"/><g transform="translate(107.81,85.36)"><polygon class="l" points="0,0 6.1,3.88 6.1,2.96 0,-0.92"/></g><g transform="translate(113.9,89.24)"><polygon class="r" points="0,0 7.81,-2.95 7.81,-3.87 0,-0.92"/></g><polygon fill="#8b0c24" stroke="#8b0c24" points="107.81,84.44 113.9,88.32 121.71,85.38 115.62,81.5"/><g transform="translate(96.41,89.66)"><polygon class="l" points="0,0 6.1,3.88 6.1,2.96 0,-0.92"/></g><g transform="translate(102.5,93.54)"><polygon class="r" points="0,0 7.81,-2.95 7.81,-3.87 0,-0.92"/></g><polygon fill="#8b0c24" stroke="#8b0c24" points="96.41,88.74 102.5,92.62 110.31,89.68 104.22,85.8"/><g transform="translate(85.01,93.96)"><polygon class="l" points="0,0 6.1,3.88 6.1,2.69 0,-1.2"/></g><g transform="translate(91.1,97.84)"><polygon class="r" points="0,0 7.81,-2.95 7.81,-4.14 0,-1.2"/></g><polygon fill="#900e25" stroke="#900e25" points="85.01,92.76 91.1,96.65 98.91,93.7 92.82,89.82"/><g transform="translate(73.61,98.26)"><polygon class="l" points="0,0 6.1,3.88 6.1,1.58 0,-2.3"/></g><g transform="translate(79.7,102.14)"><polygon class="r" points="0,0 7.81,-2.95 7.81,-5.25 0,-2.3"/></g><polygon fill="#a41327" stroke="#a41327" points="73.61,95.96 79.7,99.84 87.51,96.9 81.42,93.02"/><path class="e" d="M79.7 102.14v-2.3"/><text class="tk" text-anchor="end" x="27.9" y="73">0</text><text class="tk" text-anchor="end" x="27.9" y="50">0.5</text><text class="tk" text-anchor="end" x="27.9" y="27">1</text><text class="tk tf" text-anchor="middle" x="34.68" y="87.12">1</text><text class="tk tf" text-anchor="middle" x="94.7" y="115.7">1</text><text class="tk tf" text-anchor="middle" x="43.46" y="92.74">2</text><text class="tk tf" text-anchor="middle" x="106.3" y="110.9">2</text><text class="tk tf" text-anchor="middle" x="52.24" y="98.36">3</text><text class="tk tf" text-anchor="middle" x="117.5" y="106.7">3</text><text class="tk tf" text-anchor="middle" x="61.02" y="103.98">4</text><text class="tk tf" text-anchor="middle" x="129.1" y="101.9">4</text><text class="tk tf" text-anchor="middle" x="69.8" y="109.6">5</text><text class="tk tf" text-anchor="middle" x="140.7" y="97.8">5</text><text class="lb" text-anchor="middle" transform="translate(14.9,48.2) rotate(-90)">MAC</text><text class="lb lm" text-anchor="middle" transform="translate(30,103) rotate(35.8)">Modal order</text><text class="lb" text-anchor="middle" transform="translate(141.5,112.5) rotate(-22.3)">Modal order</text><text class="cap" text-anchor="middle" x="82.9" y="144.1">(<tspan class="b">g</tspan>) Case7</text></g>
<g transform="translate(190.2,314.4)"><path class="gd" d="M36.06 70.38L89.46 104.4M36.06 70.38L36.06 24.38M47.46 66.08L100.86 100.1M47.46 66.08L47.46 20.08M58.86 61.78L112.26 95.8M58.86 61.78L58.86 15.78M70.26 57.48L123.66 91.5M70.26 57.48L70.26 11.48M81.66 53.18L135.06 87.2M81.66 53.18L81.66 7.18M31.5 72.1L86.22 51.46M86.22 51.46L86.22 5.46M40.4 77.77L95.12 57.13M95.12 57.13L95.12 11.13M49.3 83.44L104.02 62.8M104.02 62.8L104.02 16.8M58.2 89.11L112.92 68.47M112.92 68.47L112.92 22.47M67.1 94.78L121.82 74.14M121.82 74.14L121.82 28.14M76 100.45L130.72 79.81M130.72 79.81L130.72 33.81M84.9 106.12L139.62 85.48M139.62 85.48L139.62 39.48M31.5 72.1L86.22 51.46L139.62 85.48M31.5 49.1L86.22 28.46L139.62 62.48M31.5 26.1L86.22 5.46L139.62 39.48"/><path class="ax" d="M31.5 26.1L31.5 72.1L84.9 106.12L139.62 85.48"/><path class="gd2" d="M31.5 26.1L86.22 5.46L139.62 39.48L139.62 85.48M86.22 5.46L86.22 51.46"/><g transform="translate(83.61,58.38)"><polygon class="l" points="0,0 6.1,3.88 6.1,3.65 0,-0.23"/></g><g transform="translate(89.7,62.26)"><polygon class="r" points="0,0 7.81,-2.95 7.81,-3.18 0,-0.23"/></g><polygon fill="#7e0922" stroke="#7e0922" points="83.61,58.15 89.7,62.03 97.51,59.09 91.42,55.21"/><g transform="translate(72.21,62.68)"><polygon class="l" points="0,0 6.1,3.88 6.1,-3.94 0,-7.82"/></g><g transform="translate(78.3,66.56)"><polygon class="r" points="0,0 7.81,-2.95 7.81,-10.77 0,-7.82"/></g><polygon fill="#d43a3a" stroke="#d43a3a" points="72.21,54.86 78.3,58.74 86.11,55.8 80.02,51.92"/><path class="e" d="M78.3 66.56v-7.82"/><g transform="translate(60.81,66.98)"><polygon class="l" points="0,0 6.1,3.88 6.1,2.04 0,-1.84"/></g><g transform="translate(66.9,70.86)"><polygon class="r" points="0,0 7.81,-2.95 7.81,-4.79 0,-1.84"/></g><polygon fill="#9c1126" stroke="#9c1126" points="60.81,65.14 66.9,69.02 74.71,66.08 68.62,62.2"/><path class="e" d="M66.9 70.86v-1.84"/><g transform="translate(49.41,71.28)"><polygon class="l" points="0,0 6.1,3.88 6.1,-3.02 0,-6.9"/></g><g transform="translate(55.5,75.16)"><polygon class="r" points="0,0 7.81,-2.95 7.81,-9.85 0,-6.9"/></g><polygon fill="#cf3137" stroke="#cf3137" points="49.41,64.38 55.5,68.26 63.31,65.32 57.22,61.44"/><path class="e" d="M55.5 75.16v-6.9"/><g transform="translate(38.01,75.58)"><polygon class="l" points="0,0 6.1,3.88 6.1,-42.12 0,-46"/></g><g transform="translate(44.1,79.46)"><polygon class="r" points="0,0 7.81,-2.95 7.81,-48.95 0,-46"/></g><polygon fill="#053061" stroke="#053061" points="38.01,29.58 44.1,33.46 51.91,30.52 45.82,26.64"/><path class="e" d="M44.1 79.46v-46"/><g transform="translate(92.51,64.05)"><polygon class="l" points="0,0 6.1,3.88 6.1,-5.32 0,-9.2"/></g><g transform="translate(98.6,67.93)"><polygon class="r" points="0,0 7.81,-2.95 7.81,-12.15 0,-9.2"/></g><polygon fill="#da5244" stroke="#da5244" points="92.51,54.85 98.6,58.73 106.41,55.79 100.32,51.91"/><path class="e" d="M98.6 67.93v-9.2"/><g transform="translate(81.11,68.35)"><polygon class="l" points="0,0 6.1,3.88 6.1,-3.02 0,-6.9"/></g><g transform="translate(87.2,72.23)"><polygon class="r" points="0,0 7.81,-2.95 7.81,-9.85 0,-6.9"/></g><polygon fill="#cf3137" stroke="#cf3137" points="81.11,61.45 87.2,65.33 95.01,62.39 88.92,58.51"/><path class="e" d="M87.2 72.23v-6.9"/><g transform="translate(69.71,72.65)"><polygon class="l" points="0,0 6.1,3.88 6.1,-0.72 0,-4.6"/></g><g transform="translate(75.8,76.53)"><polygon class="r" points="0,0 7.81,-2.95 7.81,-7.55 0,-4.6"/></g><polygon fill="#c21c2e" stroke="#c21c2e" points="69.71,68.05 75.8,71.93 83.61,68.99 77.52,65.11"/><path class="e" d="M75.8 76.53v-4.6"/><g transform="translate(58.31,76.95)"><polygon class="l" points="0,0 6.1,3.88 6.1,-42.12 0,-46"/></g><g transform="translate(64.4,80.83)"><polygon class="r" points="0,0 7.81,-2.95 7.81,-48.95 0,-46"/></g><polygon fill="#053061" stroke="#053061" points="58.31,30.95 64.4,34.83 72.21,31.89 66.12,28.01"/><path class="e" d="M64.4 80.83v-46"/><g transform="translate(46.91,81.25)"><polygon class="l" points="0,0 6.1,3.88 6.1,-3.02 0,-6.9"/></g><g transform="translate(53,85.13)"><polygon class="r" points="0,0 7.81,-2.95 7.81,-9.85 0,-6.9"/></g><polygon fill="#cf3137" stroke="#cf3137" points="46.91,74.35 53,78.23 60.81,75.29 54.72,71.41"/><path class="e" d="M53 85.13v-6.9"/><g transform="translate(101.41,69.72)"><polygon class="l" points="0,0 6.1,3.88 6.1,-3.94 0,-7.82"/></g><g transform="translate(107.5,73.6)"><polygon class="r" points="0,0 7.81,-2.95 7.81,-10.77 0,-7.82"/></g><polygon fill="#d43a3a" stroke="#d43a3a" points="101.41,61.9 107.5,65.78 115.31,62.84 109.22,58.96"/><path class="e" d="M107.5 73.6v-7.82"/><g transform="translate(90.01,74.02)"><polygon class="l" points="0,0 6.1,3.88 6.1,2.04 0,-1.84"/></g><g transform="translate(96.1,77.9)"><polygon class="r" points="0,0 7.81,-2.95 7.81,-4.79 0,-1.84"/></g><polygon fill="#9c1126" stroke="#9c1126" points="90.01,72.18 96.1,76.06 103.91,73.12 97.82,69.24"/><path class="e" d="M96.1 77.9v-1.84"/><g transform="translate(78.61,78.32)"><polygon class="l" points="0,0 6.1,3.88 6.1,-42.12 0,-46"/></g><g transform="translate(84.7,82.2)"><polygon class="r" points="0,0 7.81,-2.95 7.81,-48.95 0,-46"/></g><polygon fill="#053061" stroke="#053061" points="78.61,32.32 84.7,36.2 92.51,33.26 86.42,29.38"/><path class="e" d="M84.7 82.2v-46"/><g transform="translate(67.21,82.62)"><polygon class="l" points="0,0 6.1,3.88 6.1,-0.72 0,-4.6"/></g><g transform="translate(73.3,86.5)"><polygon class="r" points="0,0 7.81,-2.95 7.81,-7.55 0,-4.6"/></g><polygon fill="#c21c2e" stroke="#c21c2e" points="67.21,78.02 73.3,81.9 81.11,78.96 75.02,75.08"/><path class="e" d="M73.3 86.5v-4.6"/><g transform="translate(55.81,86.92)"><polygon class="l" points="0,0 6.1,3.88 6.1,2.04 0,-1.84"/></g><g transform="translate(61.9,90.8)"><polygon class="r" points="0,0 7.81,-2.95 7.81,-4.79 0,-1.84"/></g><polygon fill="#9c1126" stroke="#9c1126" points="55.81,85.08 61.9,88.96 69.71,86.02 63.62,82.14"/><path class="e" d="M61.9 90.8v-1.84"/><g transform="translate(110.31,75.39)"><polygon class="l" points="0,0 6.1,3.88 6.1,-3.02 0,-6.9"/></g><g transform="translate(116.4,79.27)"><polygon class="r" points="0,0 7.81,-2.95 7.81,-9.85 0,-6.9"/></g><polygon fill="#cf3137" stroke="#cf3137" points="110.31,68.49 116.4,72.37 124.21,69.43 118.12,65.55"/><path class="e" d="M116.4 79.27v-6.9"/><g transform="translate(98.91,79.69)"><polygon class="l" points="0,0 6.1,3.88 6.1,-42.12 0,-46"/></g><g transform="translate(105,83.57)"><polygon class="r" points="0,0 7.81,-2.95 7.81,-48.95 0,-46"/></g><polygon fill="#053061" stroke="#053061" points="98.91,33.69 105,37.57 112.81,34.63 106.72,30.75"/><path class="e" d="M105 83.57v-46"/><g transform="translate(87.51,83.99)"><polygon class="l" points="0,0 6.1,3.88 6.1,2.04 0,-1.84"/></g><g transform="translate(93.6,87.87)"><polygon class="r" points="0,0 7.81,-2.95 7.81,-4.79 0,-1.84"/></g><polygon fill="#9c1126" stroke="#9c1126" points="87.51,82.15 93.6,86.03 101.41,83.09 95.32,79.21"/><path class="e" d="M93.6 87.87v-1.84"/><g transform="translate(76.11,88.29)"><polygon class="l" points="0,0 6.1,3.88 6.1,-3.02 0,-6.9"/></g><g transform="translate(82.2,92.17)"><polygon class="r" points="0,0 7.81,-2.95 7.81,-9.85 0,-6.9"/></g><polygon fill="#cf3137" stroke="#cf3137" points="76.11,81.39 82.2,85.27 90.01,82.33 83.92,78.45"/><path class="e" d="M82.2 92.17v-6.9"/><g transform="translate(64.71,92.59)"><polygon class="l" points="0,0 6.1,3.88 6.1,-3.94 0,-7.82"/></g><g transform="translate(70.8,96.47)"><polygon class="r" points="0,0 7.81,-2.95 7.81,-10.77 0,-7.82"/></g><polygon fill="#d43a3a" stroke="#d43a3a" points="64.71,84.77 70.8,88.65 78.61,85.71 72.52,81.83"/><path class="e" d="M70.8 96.47v-7.82"/><g transform="translate(119.21,81.06)"><polygon class="l" points="0,0 6.1,3.88 6.1,-42.12 0,-46"/></g><g transform="translate(125.3,84.94)"><polygon class="r" points="0,0 7.81,-2.95 7.81,-48.95 0,-46"/></g><polygon fill="#053061" stroke="#053061" points="119.21,35.06 125.3,38.94 133.11,36 127.02,32.12"/><path class="e" d="M125.3 84.94v-46"/><g transform="translate(107.81,85.36)"><polygon class="l" points="0,0 6.1,3.88 6.1,-3.02 0,-6.9"/></g><g transform="translate(113.9,89.24)"><polygon class="r" points="0,0 7.81,-2.95 7.81,-9.85 0,-6.9"/></g><polygon fill="#cf3137" stroke="#cf3137" points="107.81,78.46 113.9,82.34 121.71,79.4 115.62,75.52"/><path class="e" d="M113.9 89.24v-6.9"/><g transform="translate(96.41,89.66)"><polygon class="l" points="0,0 6.1,3.88 6.1,-3.94 0,-7.82"/></g><g transform="translate(102.5,93.54)"><polygon class="r" points="0,0 7.81,-2.95 7.81,-10.77 0,-7.82"/></g><polygon fill="#d43a3a" stroke="#d43a3a" points="96.41,81.84 102.5,85.72 110.31,82.78 104.22,78.9"/><path class="e" d="M102.5 93.54v-7.82"/><g transform="translate(85.01,93.96)"><polygon class="l" points="0,0 6.1,3.88 6.1,-5.32 0,-9.2"/></g><g transform="translate(91.1,97.84)"><polygon class="r" points="0,0 7.81,-2.95 7.81,-12.15 0,-9.2"/></g><polygon fill="#da5244" stroke="#da5244" points="85.01,84.76 91.1,88.64 98.91,85.7 92.82,81.82"/><path class="e" d="M91.1 97.84v-9.2"/><g transform="translate(73.61,98.26)"><polygon class="l" points="0,0 6.1,3.88 6.1,3.65 0,-0.23"/></g><g transform="translate(79.7,102.14)"><polygon class="r" points="0,0 7.81,-2.95 7.81,-3.18 0,-0.23"/></g><polygon fill="#7e0922" stroke="#7e0922" points="73.61,98.03 79.7,101.91 87.51,98.97 81.42,95.09"/><text class="tk" text-anchor="end" x="27.9" y="73">0</text><text class="tk" text-anchor="end" x="27.9" y="50">0.5</text><text class="tk" text-anchor="end" x="27.9" y="27">1</text><text class="tk tf" text-anchor="middle" x="34.68" y="87.12">1</text><text class="tk tf" text-anchor="middle" x="94.7" y="115.7">1</text><text class="tk tf" text-anchor="middle" x="43.46" y="92.74">2</text><text class="tk tf" text-anchor="middle" x="106.3" y="110.9">2</text><text class="tk tf" text-anchor="middle" x="52.24" y="98.36">3</text><text class="tk tf" text-anchor="middle" x="117.5" y="106.7">3</text><text class="tk tf" text-anchor="middle" x="61.02" y="103.98">4</text><text class="tk tf" text-anchor="middle" x="129.1" y="101.9">4</text><text class="tk tf" text-anchor="middle" x="69.8" y="109.6">5</text><text class="tk tf" text-anchor="middle" x="140.7" y="97.8">5</text><text class="lb" text-anchor="middle" transform="translate(14.9,48.2) rotate(-90)">MAC</text><text class="lb lm" text-anchor="middle" transform="translate(30,103) rotate(35.8)">Modal order</text><text class="lb" text-anchor="middle" transform="translate(141.5,112.5) rotate(-22.3)">Modal order</text><text class="cap" text-anchor="middle" x="82.9" y="144.1">(<tspan class="b">h</tspan>) Case8</text></g>
<g transform="translate(380.4,314.4)"><path class="gd" d="M36.06 70.38L89.46 104.4M36.06 70.38L36.06 24.38M47.46 66.08L100.86 100.1M47.46 66.08L47.46 20.08M58.86 61.78L112.26 95.8M58.86 61.78L58.86 15.78M70.26 57.48L123.66 91.5M70.26 57.48L70.26 11.48M81.66 53.18L135.06 87.2M81.66 53.18L81.66 7.18M31.5 72.1L86.22 51.46M86.22 51.46L86.22 5.46M40.4 77.77L95.12 57.13M95.12 57.13L95.12 11.13M49.3 83.44L104.02 62.8M104.02 62.8L104.02 16.8M58.2 89.11L112.92 68.47M112.92 68.47L112.92 22.47M67.1 94.78L121.82 74.14M121.82 74.14L121.82 28.14M76 100.45L130.72 79.81M130.72 79.81L130.72 33.81M84.9 106.12L139.62 85.48M139.62 85.48L139.62 39.48M31.5 72.1L86.22 51.46L139.62 85.48M31.5 49.1L86.22 28.46L139.62 62.48M31.5 26.1L86.22 5.46L139.62 39.48"/><path class="ax" d="M31.5 26.1L31.5 72.1L84.9 106.12L139.62 85.48"/><path class="gd2" d="M31.5 26.1L86.22 5.46L139.62 39.48L139.62 85.48M86.22 5.46L86.22 51.46"/><g transform="translate(83.61,58.38)"><polygon class="l" points="0,0 6.1,3.88 6.1,-2.37 0,-6.26"/></g><g transform="translate(89.7,62.26)"><polygon class="r" points="0,0 7.81,-2.95 7.81,-9.2 0,-6.26"/></g><polygon fill="#cb2b34" stroke="#cb2b34" points="83.61,52.12 89.7,56.01 97.51,53.06 91.42,49.18"/><path class="e" d="M89.7 62.26v-6.26"/><g transform="translate(72.21,62.68)"><polygon class="l" points="0,0 6.1,3.88 6.1,-0.3 0,-4.19"/></g><g transform="translate(78.3,66.56)"><polygon class="r" points="0,0 7.81,-2.95 7.81,-7.13 0,-4.19"/></g><polygon fill="#bd1a2d" stroke="#bd1a2d" points="72.21,58.49 78.3,62.38 86.11,59.43 80.02,55.55"/><path class="e" d="M78.3 66.56v-4.19"/><g transform="translate(60.81,66.98)"><polygon class="l" points="0,0 6.1,3.88 6.1,-0.3 0,-4.19"/></g><g transform="translate(66.9,70.86)"><polygon class="r" points="0,0 7.81,-2.95 7.81,-7.13 0,-4.19"/></g><polygon fill="#bd1a2d" stroke="#bd1a2d" points="60.81,62.79 66.9,66.68 74.71,63.73 68.62,59.85"/><path class="e" d="M66.9 70.86v-4.19"/><g transform="translate(49.41,71.28)"><polygon class="l" points="0,0 6.1,3.88 6.1,-2.1 0,-5.98"/></g><g transform="translate(55.5,75.16)"><polygon class="r" points="0,0 7.81,-2.95 7.81,-8.93 0,-5.98"/></g><polygon fill="#ca2933" stroke="#ca2933" points="49.41,65.3 55.5,69.18 63.31,66.24 57.22,62.36"/><path class="e" d="M55.5 75.16v-5.98"/><g transform="translate(38.01,75.58)"><polygon class="l" points="0,0 6.1,3.88 6.1,-42.12 0,-46"/></g><g transform="translate(44.1,79.46)"><polygon class="r" points="0,0 7.81,-2.95 7.81,-48.95 0,-46"/></g><polygon fill="#053061" stroke="#053061" points="38.01,29.58 44.1,33.46 51.91,30.52 45.82,26.64"/><path class="e" d="M44.1 79.46v-46"/><g transform="translate(92.51,64.05)"><polygon class="l" points="0,0 6.1,3.88 6.1,0.89 0,-2.99"/></g><g transform="translate(98.6,67.93)"><polygon class="r" points="0,0 7.81,-2.95 7.81,-5.94 0,-2.99"/></g><polygon fill="#ad1629" stroke="#ad1629" points="92.51,61.06 98.6,64.94 106.41,62 100.32,58.12"/><path class="e" d="M98.6 67.93v-2.99"/><g transform="translate(81.11,68.35)"><polygon class="l" points="0,0 6.1,3.88 6.1,-0.9 0,-4.78"/></g><g transform="translate(87.2,72.23)"><polygon class="r" points="0,0 7.81,-2.95 7.81,-7.73 0,-4.78"/></g><polygon fill="#c31e2f" stroke="#c31e2f" points="81.11,63.57 87.2,67.45 95.01,64.51 88.92,60.62"/><path class="e" d="M87.2 72.23v-4.78"/><g transform="translate(69.71,72.65)"><polygon class="l" points="0,0 6.1,3.88 6.1,-0.9 0,-4.78"/></g><g transform="translate(75.8,76.53)"><polygon class="r" points="0,0 7.81,-2.95 7.81,-7.73 0,-4.78"/></g><polygon fill="#c31e2f" stroke="#c31e2f" points="69.71,67.87 75.8,71.75 83.61,68.81 77.52,64.92"/><path class="e" d="M75.8 76.53v-4.78"/><g transform="translate(58.31,76.95)"><polygon class="l" points="0,0 6.1,3.88 6.1,-42.12 0,-46"/></g><g transform="translate(64.4,80.83)"><polygon class="r" points="0,0 7.81,-2.95 7.81,-48.95 0,-46"/></g><polygon fill="#053061" stroke="#053061" points="58.31,30.95 64.4,34.83 72.21,31.89 66.12,28.01"/><path class="e" d="M64.4 80.83v-46"/><g transform="translate(46.91,81.25)"><polygon class="l" points="0,0 6.1,3.88 6.1,-2.1 0,-5.98"/></g><g transform="translate(53,85.13)"><polygon class="r" points="0,0 7.81,-2.95 7.81,-8.93 0,-5.98"/></g><polygon fill="#ca2933" stroke="#ca2933" points="46.91,75.27 53,79.15 60.81,76.21 54.72,72.33"/><path class="e" d="M53 85.13v-5.98"/><g transform="translate(101.41,69.72)"><polygon class="l" points="0,0 6.1,3.88 6.1,-2.28 0,-6.16"/></g><g transform="translate(107.5,73.6)"><polygon class="r" points="0,0 7.81,-2.95 7.81,-9.11 0,-6.16"/></g><polygon fill="#cb2b34" stroke="#cb2b34" points="101.41,63.56 107.5,67.44 115.31,64.5 109.22,60.61"/><path class="e" d="M107.5 73.6v-6.16"/><g transform="translate(90.01,74.02)"><polygon class="l" points="0,0 6.1,3.88 6.1,-0.9 0,-4.78"/></g><g transform="translate(96.1,77.9)"><polygon class="r" points="0,0 7.81,-2.95 7.81,-7.73 0,-4.78"/></g><polygon fill="#c31e2f" stroke="#c31e2f" points="90.01,69.24 96.1,73.12 103.91,70.18 97.82,66.29"/><path class="e" d="M96.1 77.9v-4.78"/><g transform="translate(78.61,78.32)"><polygon class="l" points="0,0 6.1,3.88 6.1,-42.12 0,-46"/></g><g transform="translate(84.7,82.2)"><polygon class="r" points="0,0 7.81,-2.95 7.81,-48.95 0,-46"/></g><polygon fill="#053061" stroke="#053061" points="78.61,32.32 84.7,36.2 92.51,33.26 86.42,29.38"/><path class="e" d="M84.7 82.2v-46"/><g transform="translate(67.21,82.62)"><polygon class="l" points="0,0 6.1,3.88 6.1,-0.9 0,-4.78"/></g><g transform="translate(73.3,86.5)"><polygon class="r" points="0,0 7.81,-2.95 7.81,-7.73 0,-4.78"/></g><polygon fill="#c31e2f" stroke="#c31e2f" points="67.21,77.84 73.3,81.72 81.11,78.78 75.02,74.89"/><path class="e" d="M73.3 86.5v-4.78"/><g transform="translate(55.81,86.92)"><polygon class="l" points="0,0 6.1,3.88 6.1,-0.3 0,-4.19"/></g><g transform="translate(61.9,90.8)"><polygon class="r" points="0,0 7.81,-2.95 7.81,-7.13 0,-4.19"/></g><polygon fill="#bd1a2d" stroke="#bd1a2d" points="55.81,82.73 61.9,86.62 69.71,83.67 63.62,79.79"/><path class="e" d="M61.9 90.8v-4.19"/><g transform="translate(110.31,75.39)"><polygon class="l" points="0,0 6.1,3.88 6.1,-0.9 0,-4.78"/></g><g transform="translate(116.4,79.27)"><polygon class="r" points="0,0 7.81,-2.95 7.81,-7.73 0,-4.78"/></g><polygon fill="#c31e2f" stroke="#c31e2f" points="110.31,70.61 116.4,74.49 124.21,71.55 118.12,67.66"/><path class="e" d="M116.4 79.27v-4.78"/><g transform="translate(98.91,79.69)"><polygon class="l" points="0,0 6.1,3.88 6.1,-42.12 0,-46"/></g><g transform="translate(105,83.57)"><polygon class="r" points="0,0 7.81,-2.95 7.81,-48.95 0,-46"/></g><polygon fill="#053061" stroke="#053061" points="98.91,33.69 105,37.57 112.81,34.63 106.72,30.75"/><path class="e" d="M105 83.57v-46"/><g transform="translate(87.51,83.99)"><polygon class="l" points="0,0 6.1,3.88 6.1,-0.9 0,-4.78"/></g><g transform="translate(93.6,87.87)"><polygon class="r" points="0,0 7.81,-2.95 7.81,-7.73 0,-4.78"/></g><polygon fill="#c31e2f" stroke="#c31e2f" points="87.51,79.21 93.6,83.09 101.41,80.15 95.32,76.26"/><path class="e" d="M93.6 87.87v-4.78"/><g transform="translate(76.11,88.29)"><polygon class="l" points="0,0 6.1,3.88 6.1,-0.9 0,-4.78"/></g><g transform="translate(82.2,92.17)"><polygon class="r" points="0,0 7.81,-2.95 7.81,-7.73 0,-4.78"/></g><polygon fill="#c31e2f" stroke="#c31e2f" points="76.11,83.51 82.2,87.39 90.01,84.45 83.92,80.56"/><path class="e" d="M82.2 92.17v-4.78"/><g transform="translate(64.71,92.59)"><polygon class="l" points="0,0 6.1,3.88 6.1,-0.3 0,-4.19"/></g><g transform="translate(70.8,96.47)"><polygon class="r" points="0,0 7.81,-2.95 7.81,-7.13 0,-4.19"/></g><polygon fill="#bd1a2d" stroke="#bd1a2d" points="64.71,88.4 70.8,92.29 78.61,89.34 72.52,85.46"/><path class="e" d="M70.8 96.47v-4.19"/><g transform="translate(119.21,81.06)"><polygon class="l" points="0,0 6.1,3.88 6.1,-42.12 0,-46"/></g><g transform="translate(125.3,84.94)"><polygon class="r" points="0,0 7.81,-2.95 7.81,-48.95 0,-46"/></g><polygon fill="#053061" stroke="#053061" points="119.21,35.06 125.3,38.94 133.11,36 127.02,32.12"/><path class="e" d="M125.3 84.94v-46"/><g transform="translate(107.81,85.36)"><polygon class="l" points="0,0 6.1,3.88 6.1,-0.9 0,-4.78"/></g><g transform="translate(113.9,89.24)"><polygon class="r" points="0,0 7.81,-2.95 7.81,-7.73 0,-4.78"/></g><polygon fill="#c31e2f" stroke="#c31e2f" points="107.81,80.58 113.9,84.46 121.71,81.52 115.62,77.63"/><path class="e" d="M113.9 89.24v-4.78"/><g transform="translate(96.41,89.66)"><polygon class="l" points="0,0 6.1,3.88 6.1,-0.9 0,-4.78"/></g><g transform="translate(102.5,93.54)"><polygon class="r" points="0,0 7.81,-2.95 7.81,-7.73 0,-4.78"/></g><polygon fill="#c31e2f" stroke="#c31e2f" points="96.41,84.88 102.5,88.76 110.31,85.82 104.22,81.93"/><path class="e" d="M102.5 93.54v-4.78"/><g transform="translate(85.01,93.96)"><polygon class="l" points="0,0 6.1,3.88 6.1,0.89 0,-2.99"/></g><g transform="translate(91.1,97.84)"><polygon class="r" points="0,0 7.81,-2.95 7.81,-5.94 0,-2.99"/></g><polygon fill="#ad1629" stroke="#ad1629" points="85.01,90.97 91.1,94.85 98.91,91.91 92.82,88.03"/><path class="e" d="M91.1 97.84v-2.99"/><g transform="translate(73.61,98.26)"><polygon class="l" points="0,0 6.1,3.88 6.1,-2.1 0,-5.98"/></g><g transform="translate(79.7,102.14)"><polygon class="r" points="0,0 7.81,-2.95 7.81,-8.93 0,-5.98"/></g><polygon fill="#ca2933" stroke="#ca2933" points="73.61,92.28 79.7,96.16 87.51,93.22 81.42,89.34"/><path class="e" d="M79.7 102.14v-5.98"/><text class="tk" text-anchor="end" x="27.9" y="73">0</text><text class="tk" text-anchor="end" x="27.9" y="50">0.5</text><text class="tk" text-anchor="end" x="27.9" y="27">1</text><text class="tk tf" text-anchor="middle" x="34.68" y="87.12">1</text><text class="tk tf" text-anchor="middle" x="94.7" y="115.7">1</text><text class="tk tf" text-anchor="middle" x="43.46" y="92.74">2</text><text class="tk tf" text-anchor="middle" x="106.3" y="110.9">2</text><text class="tk tf" text-anchor="middle" x="52.24" y="98.36">3</text><text class="tk tf" text-anchor="middle" x="117.5" y="106.7">3</text><text class="tk tf" text-anchor="middle" x="61.02" y="103.98">4</text><text class="tk tf" text-anchor="middle" x="129.1" y="101.9">4</text><text class="tk tf" text-anchor="middle" x="69.8" y="109.6">5</text><text class="tk tf" text-anchor="middle" x="140.7" y="97.8">5</text><text class="lb" text-anchor="middle" transform="translate(14.9,48.2) rotate(-90)">MAC</text><text class="lb lm" text-anchor="middle" transform="translate(30,103) rotate(35.8)">Modal order</text><text class="lb" text-anchor="middle" transform="translate(141.5,112.5) rotate(-22.3)">Modal order</text><text class="cap" text-anchor="middle" x="82.9" y="144.1">(<tspan class="b">i</tspan>) Case9</text></g>
<g transform="translate(0,471.25)"><path class="gd" d="M36.06 70.38L89.46 104.4M36.06 70.38L36.06 24.38M47.46 66.08L100.86 100.1M47.46 66.08L47.46 20.08M58.86 61.78L112.26 95.8M58.86 61.78L58.86 15.78M70.26 57.48L123.66 91.5M70.26 57.48L70.26 11.48M81.66 53.18L135.06 87.2M81.66 53.18L81.66 7.18M31.5 72.1L86.22 51.46M86.22 51.46L86.22 5.46M40.4 77.77L95.12 57.13M95.12 57.13L95.12 11.13M49.3 83.44L104.02 62.8M104.02 62.8L104.02 16.8M58.2 89.11L112.92 68.47M112.92 68.47L112.92 22.47M67.1 94.78L121.82 74.14M121.82 74.14L121.82 28.14M76 100.45L130.72 79.81M130.72 79.81L130.72 33.81M84.9 106.12L139.62 85.48M139.62 85.48L139.62 39.48M31.5 72.1L86.22 51.46L139.62 85.48M31.5 49.1L86.22 28.46L139.62 62.48M31.5 26.1L86.22 5.46L139.62 39.48"/><path class="ax" d="M31.5 26.1L31.5 72.1L84.9 106.12L139.62 85.48"/><path class="gd2" d="M31.5 26.1L86.22 5.46L139.62 39.48L139.62 85.48M86.22 5.46L86.22 51.46"/><g transform="translate(83.61,58.38)"><polygon class="l" points="0,0 6.1,3.88 6.1,-0.49 0,-4.37"/></g><g transform="translate(89.7,62.26)"><polygon class="r" points="0,0 7.81,-2.95 7.81,-7.32 0,-4.37"/></g><polygon fill="#bf1b2d" stroke="#bf1b2d" points="83.61,54.01 89.7,57.89 97.51,54.95 91.42,51.07"/><path class="e" d="M89.7 62.26v-4.37"/><g transform="translate(72.21,62.68)"><polygon class="l" points="0,0 6.1,3.88 6.1,-1.41 0,-5.29"/></g><g transform="translate(78.3,66.56)"><polygon class="r" points="0,0 7.81,-2.95 7.81,-8.24 0,-5.29"/></g><polygon fill="#c62231" stroke="#c62231" points="72.21,57.39 78.3,61.27 86.11,58.33 80.02,54.45"/><path class="e" d="M78.3 66.56v-5.29"/><g transform="translate(60.81,66.98)"><polygon class="l" points="0,0 6.1,3.88 6.1,2.09 0,-1.79"/></g><g transform="translate(66.9,70.86)"><polygon class="r" points="0,0 7.81,-2.95 7.81,-4.74 0,-1.79"/></g><polygon fill="#9b1126" stroke="#9b1126" points="60.81,65.19 66.9,69.07 74.71,66.13 68.62,62.24"/><path class="e" d="M66.9 70.86v-1.79"/><g transform="translate(49.41,71.28)"><polygon class="l" points="0,0 6.1,3.88 6.1,-0.9 0,-4.78"/></g><g transform="translate(55.5,75.16)"><polygon class="r" points="0,0 7.81,-2.95 7.81,-7.73 0,-4.78"/></g><polygon fill="#c31e2f" stroke="#c31e2f" points="49.41,66.5 55.5,70.38 63.31,67.44 57.22,63.55"/><path class="e" d="M55.5 75.16v-4.78"/><g transform="translate(38.01,75.58)"><polygon class="l" points="0,0 6.1,3.88 6.1,-42.12 0,-46"/></g><g transform="translate(44.1,79.46)"><polygon class="r" points="0,0 7.81,-2.95 7.81,-48.95 0,-46"/></g><polygon fill="#053061" stroke="#053061" points="38.01,29.58 44.1,33.46 51.91,30.52 45.82,26.64"/><path class="e" d="M44.1 79.46v-46"/><g transform="translate(92.51,64.05)"><polygon class="l" points="0,0 6.1,3.88 6.1,-0.3 0,-4.19"/></g><g transform="translate(98.6,67.93)"><polygon class="r" points="0,0 7.81,-2.95 7.81,-7.13 0,-4.19"/></g><polygon fill="#bd1a2d" stroke="#bd1a2d" points="92.51,59.86 98.6,63.75 106.41,60.8 100.32,56.92"/><path class="e" d="M98.6 67.93v-4.19"/><g transform="translate(81.11,68.35)"><polygon class="l" points="0,0 6.1,3.88 6.1,0.89 0,-2.99"/></g><g transform="translate(87.2,72.23)"><polygon class="r" points="0,0 7.81,-2.95 7.81,-5.94 0,-2.99"/></g><polygon fill="#ad1629" stroke="#ad1629" points="81.11,65.36 87.2,69.24 95.01,66.3 88.92,62.42"/><path class="e" d="M87.2 72.23v-2.99"/><g transform="translate(69.71,72.65)"><polygon class="l" points="0,0 6.1,3.88 6.1,2.09 0,-1.79"/></g><g transform="translate(75.8,76.53)"><polygon class="r" points="0,0 7.81,-2.95 7.81,-4.74 0,-1.79"/></g><polygon fill="#9b1126" stroke="#9b1126" points="69.71,70.86 75.8,74.74 83.61,71.8 77.52,67.91"/><path class="e" d="M75.8 76.53v-1.79"/><g transform="translate(58.31,76.95)"><polygon class="l" points="0,0 6.1,3.88 6.1,-42.12 0,-46"/></g><g transform="translate(64.4,80.83)"><polygon class="r" points="0,0 7.81,-2.95 7.81,-48.95 0,-46"/></g><polygon fill="#053061" stroke="#053061" points="58.31,30.95 64.4,34.83 72.21,31.89 66.12,28.01"/><path class="e" d="M64.4 80.83v-46"/><g transform="translate(46.91,81.25)"><polygon class="l" points="0,0 6.1,3.88 6.1,-0.9 0,-4.78"/></g><g transform="translate(53,85.13)"><polygon class="r" points="0,0 7.81,-2.95 7.81,-7.73 0,-4.78"/></g><polygon fill="#c31e2f" stroke="#c31e2f" points="46.91,76.47 53,80.35 60.81,77.41 54.72,73.52"/><path class="e" d="M53 85.13v-4.78"/><g transform="translate(101.41,69.72)"><polygon class="l" points="0,0 6.1,3.88 6.1,2.09 0,-1.79"/></g><g transform="translate(107.5,73.6)"><polygon class="r" points="0,0 7.81,-2.95 7.81,-4.74 0,-1.79"/></g><polygon fill="#9b1126" stroke="#9b1126" points="101.41,67.93 107.5,71.81 115.31,68.87 109.22,64.98"/><path class="e" d="M107.5 73.6v-1.79"/><g transform="translate(90.01,74.02)"><polygon class="l" points="0,0 6.1,3.88 6.1,2.09 0,-1.79"/></g><g transform="translate(96.1,77.9)"><polygon class="r" points="0,0 7.81,-2.95 7.81,-4.74 0,-1.79"/></g><polygon fill="#9b1126" stroke="#9b1126" points="90.01,72.23 96.1,76.11 103.91,73.17 97.82,69.28"/><path class="e" d="M96.1 77.9v-1.79"/><g transform="translate(78.61,78.32)"><polygon class="l" points="0,0 6.1,3.88 6.1,-42.12 0,-46"/></g><g transform="translate(84.7,82.2)"><polygon class="r" points="0,0 7.81,-2.95 7.81,-48.95 0,-46"/></g><polygon fill="#053061" stroke="#053061" points="78.61,32.32 84.7,36.2 92.51,33.26 86.42,29.38"/><path class="e" d="M84.7 82.2v-46"/><g transform="translate(67.21,82.62)"><polygon class="l" points="0,0 6.1,3.88 6.1,2.09 0,-1.79"/></g><g transform="translate(73.3,86.5)"><polygon class="r" points="0,0 7.81,-2.95 7.81,-4.74 0,-1.79"/></g><polygon fill="#9b1126" stroke="#9b1126" points="67.21,80.83 73.3,84.71 81.11,81.77 75.02,77.88"/><path class="e" d="M73.3 86.5v-1.79"/><g transform="translate(55.81,86.92)"><polygon class="l" points="0,0 6.1,3.88 6.1,2.09 0,-1.79"/></g><g transform="translate(61.9,90.8)"><polygon class="r" points="0,0 7.81,-2.95 7.81,-4.74 0,-1.79"/></g><polygon fill="#9b1126" stroke="#9b1126" points="55.81,85.13 61.9,89.01 69.71,86.07 63.62,82.18"/><path class="e" d="M61.9 90.8v-1.79"/><g transform="translate(110.31,75.39)"><polygon class="l" points="0,0 6.1,3.88 6.1,2.09 0,-1.79"/></g><g transform="translate(116.4,79.27)"><polygon class="r" points="0,0 7.81,-2.95 7.81,-4.74 0,-1.79"/></g><polygon fill="#9b1126" stroke="#9b1126" points="110.31,73.6 116.4,77.48 124.21,74.54 118.12,70.65"/><path class="e" d="M116.4 79.27v-1.79"/><g transform="translate(98.91,79.69)"><polygon class="l" points="0,0 6.1,3.88 6.1,-42.12 0,-46"/></g><g transform="translate(105,83.57)"><polygon class="r" points="0,0 7.81,-2.95 7.81,-48.95 0,-46"/></g><polygon fill="#053061" stroke="#053061" points="98.91,33.69 105,37.57 112.81,34.63 106.72,30.75"/><path class="e" d="M105 83.57v-46"/><g transform="translate(87.51,83.99)"><polygon class="l" points="0,0 6.1,3.88 6.1,2.09 0,-1.79"/></g><g transform="translate(93.6,87.87)"><polygon class="r" points="0,0 7.81,-2.95 7.81,-4.74 0,-1.79"/></g><polygon fill="#9b1126" stroke="#9b1126" points="87.51,82.2 93.6,86.08 101.41,83.14 95.32,79.25"/><path class="e" d="M93.6 87.87v-1.79"/><g transform="translate(76.11,88.29)"><polygon class="l" points="0,0 6.1,3.88 6.1,0.89 0,-2.99"/></g><g transform="translate(82.2,92.17)"><polygon class="r" points="0,0 7.81,-2.95 7.81,-5.94 0,-2.99"/></g><polygon fill="#ad1629" stroke="#ad1629" points="76.11,85.3 82.2,89.18 90.01,86.24 83.92,82.36"/><path class="e" d="M82.2 92.17v-2.99"/><g transform="translate(64.71,92.59)"><polygon class="l" points="0,0 6.1,3.88 6.1,0.89 0,-2.99"/></g><g transform="translate(70.8,96.47)"><polygon class="r" points="0,0 7.81,-2.95 7.81,-5.94 0,-2.99"/></g><polygon fill="#ad1629" stroke="#ad1629" points="64.71,89.6 70.8,93.48 78.61,90.54 72.52,86.66"/><path class="e" d="M70.8 96.47v-2.99"/><g transform="translate(119.21,81.06)"><polygon class="l" points="0,0 6.1,3.88 6.1,-42.12 0,-46"/></g><g transform="translate(125.3,84.94)"><polygon class="r" points="0,0 7.81,-2.95 7.81,-48.95 0,-46"/></g><polygon fill="#053061" stroke="#053061" points="119.21,35.06 125.3,38.94 133.11,36 127.02,32.12"/><path class="e" d="M125.3 84.94v-46"/><g transform="translate(107.81,85.36)"><polygon class="l" points="0,0 6.1,3.88 6.1,2.09 0,-1.79"/></g><g transform="translate(113.9,89.24)"><polygon class="r" points="0,0 7.81,-2.95 7.81,-4.74 0,-1.79"/></g><polygon fill="#9b1126" stroke="#9b1126" points="107.81,83.57 113.9,87.45 121.71,84.51 115.62,80.62"/><path class="e" d="M113.9 89.24v-1.79"/><g transform="translate(96.41,89.66)"><polygon class="l" points="0,0 6.1,3.88 6.1,2.09 0,-1.79"/></g><g transform="translate(102.5,93.54)"><polygon class="r" points="0,0 7.81,-2.95 7.81,-4.74 0,-1.79"/></g><polygon fill="#9b1126" stroke="#9b1126" points="96.41,87.87 102.5,91.75 110.31,88.81 104.22,84.92"/><path class="e" d="M102.5 93.54v-1.79"/><g transform="translate(85.01,93.96)"><polygon class="l" points="0,0 6.1,3.88 6.1,-0.3 0,-4.19"/></g><g transform="translate(91.1,97.84)"><polygon class="r" points="0,0 7.81,-2.95 7.81,-7.13 0,-4.19"/></g><polygon fill="#bd1a2d" stroke="#bd1a2d" points="85.01,89.77 91.1,93.66 98.91,90.71 92.82,86.83"/><path class="e" d="M91.1 97.84v-4.19"/><g transform="translate(73.61,98.26)"><polygon class="l" points="0,0 6.1,3.88 6.1,-0.3 0,-4.19"/></g><g transform="translate(79.7,102.14)"><polygon class="r" points="0,0 7.81,-2.95 7.81,-7.13 0,-4.19"/></g><polygon fill="#bd1a2d" stroke="#bd1a2d" points="73.61,94.07 79.7,97.96 87.51,95.01 81.42,91.13"/><path class="e" d="M79.7 102.14v-4.19"/><text class="tk" text-anchor="end" x="27.9" y="73">0</text><text class="tk" text-anchor="end" x="27.9" y="50">0.5</text><text class="tk" text-anchor="end" x="27.9" y="27">1</text><text class="tk tf" text-anchor="middle" x="34.68" y="87.12">1</text><text class="tk tf" text-anchor="middle" x="94.7" y="115.7">1</text><text class="tk tf" text-anchor="middle" x="43.46" y="92.74">2</text><text class="tk tf" text-anchor="middle" x="106.3" y="110.9">2</text><text class="tk tf" text-anchor="middle" x="52.24" y="98.36">3</text><text class="tk tf" text-anchor="middle" x="117.5" y="106.7">3</text><text class="tk tf" text-anchor="middle" x="61.02" y="103.98">4</text><text class="tk tf" text-anchor="middle" x="129.1" y="101.9">4</text><text class="tk tf" text-anchor="middle" x="69.8" y="109.6">5</text><text class="tk tf" text-anchor="middle" x="140.7" y="97.8">5</text><text class="lb" text-anchor="middle" transform="translate(14.9,48.2) rotate(-90)">MAC</text><text class="lb lm" text-anchor="middle" transform="translate(30,103) rotate(35.8)">Modal order</text><text class="lb" text-anchor="middle" transform="translate(141.5,112.5) rotate(-22.3)">Modal order</text><text class="cap" text-anchor="middle" x="82.9" y="144.3">(<tspan class="b">j</tspan>) Case10</text></g>
<g transform="translate(190.2,471.25)"><path class="gd" d="M36.06 70.38L89.46 104.4M36.06 70.38L36.06 24.38M47.46 66.08L100.86 100.1M47.46 66.08L47.46 20.08M58.86 61.78L112.26 95.8M58.86 61.78L58.86 15.78M70.26 57.48L123.66 91.5M70.26 57.48L70.26 11.48M81.66 53.18L135.06 87.2M81.66 53.18L81.66 7.18M31.5 72.1L86.22 51.46M86.22 51.46L86.22 5.46M40.4 77.77L95.12 57.13M95.12 57.13L95.12 11.13M49.3 83.44L104.02 62.8M104.02 62.8L104.02 16.8M58.2 89.11L112.92 68.47M112.92 68.47L112.92 22.47M67.1 94.78L121.82 74.14M121.82 74.14L121.82 28.14M76 100.45L130.72 79.81M130.72 79.81L130.72 33.81M84.9 106.12L139.62 85.48M139.62 85.48L139.62 39.48M31.5 72.1L86.22 51.46L139.62 85.48M31.5 49.1L86.22 28.46L139.62 62.48M31.5 26.1L86.22 5.46L139.62 39.48"/><path class="ax" d="M31.5 26.1L31.5 72.1L84.9 106.12L139.62 85.48"/><path class="gd2" d="M31.5 26.1L86.22 5.46L139.62 39.48L139.62 85.48M86.22 5.46L86.22 51.46"/><g transform="translate(83.61,58.38)"><polygon class="l" points="0,0 6.1,3.88 6.1,-0.49 0,-4.37"/></g><g transform="translate(89.7,62.26)"><polygon class="r" points="0,0 7.81,-2.95 7.81,-7.32 0,-4.37"/></g><polygon fill="#bf1b2d" stroke="#bf1b2d" points="83.61,54.01 89.7,57.89 97.51,54.95 91.42,51.07"/><path class="e" d="M89.7 62.26v-4.37"/><g transform="translate(72.21,62.68)"><polygon class="l" points="0,0 6.1,3.88 6.1,-1.18 0,-5.06"/></g><g transform="translate(78.3,66.56)"><polygon class="r" points="0,0 7.81,-2.95 7.81,-8.01 0,-5.06"/></g><polygon fill="#c52030" stroke="#c52030" points="72.21,57.62 78.3,61.5 86.11,58.56 80.02,54.68"/><path class="e" d="M78.3 66.56v-5.06"/><g transform="translate(60.81,66.98)"><polygon class="l" points="0,0 6.1,3.88 6.1,0.3 0,-3.59"/></g><g transform="translate(66.9,70.86)"><polygon class="r" points="0,0 7.81,-2.95 7.81,-6.53 0,-3.59"/></g><polygon fill="#b5182b" stroke="#b5182b" points="60.81,63.39 66.9,67.28 74.71,64.33 68.62,60.45"/><path class="e" d="M66.9 70.86v-3.59"/><g transform="translate(49.41,71.28)"><polygon class="l" points="0,0 6.1,3.88 6.1,-1.64 0,-5.52"/></g><g transform="translate(55.5,75.16)"><polygon class="r" points="0,0 7.81,-2.95 7.81,-8.47 0,-5.52"/></g><polygon fill="#c72531" stroke="#c72531" points="49.41,65.76 55.5,69.64 63.31,66.7 57.22,62.82"/><path class="e" d="M55.5 75.16v-5.52"/><g transform="translate(38.01,75.58)"><polygon class="l" points="0,0 6.1,3.88 6.1,-42.12 0,-46"/></g><g transform="translate(44.1,79.46)"><polygon class="r" points="0,0 7.81,-2.95 7.81,-48.95 0,-46"/></g><polygon fill="#053061" stroke="#053061" points="38.01,29.58 44.1,33.46 51.91,30.52 45.82,26.64"/><path class="e" d="M44.1 79.46v-46"/><g transform="translate(92.51,64.05)"><polygon class="l" points="0,0 6.1,3.88 6.1,0.3 0,-3.59"/></g><g transform="translate(98.6,67.93)"><polygon class="r" points="0,0 7.81,-2.95 7.81,-6.53 0,-3.59"/></g><polygon fill="#b5182b" stroke="#b5182b" points="92.51,60.46 98.6,64.35 106.41,61.4 100.32,57.52"/><path class="e" d="M98.6 67.93v-3.59"/><g transform="translate(81.11,68.35)"><polygon class="l" points="0,0 6.1,3.88 6.1,0.3 0,-3.59"/></g><g transform="translate(87.2,72.23)"><polygon class="r" points="0,0 7.81,-2.95 7.81,-6.53 0,-3.59"/></g><polygon fill="#b5182b" stroke="#b5182b" points="81.11,64.76 87.2,68.65 95.01,65.7 88.92,61.82"/><path class="e" d="M87.2 72.23v-3.59"/><g transform="translate(69.71,72.65)"><polygon class="l" points="0,0 6.1,3.88 6.1,-0.3 0,-4.19"/></g><g transform="translate(75.8,76.53)"><polygon class="r" points="0,0 7.81,-2.95 7.81,-7.13 0,-4.19"/></g><polygon fill="#bd1a2d" stroke="#bd1a2d" points="69.71,68.46 75.8,72.35 83.61,69.4 77.52,65.52"/><path class="e" d="M75.8 76.53v-4.19"/><g transform="translate(58.31,76.95)"><polygon class="l" points="0,0 6.1,3.88 6.1,-42.12 0,-46"/></g><g transform="translate(64.4,80.83)"><polygon class="r" points="0,0 7.81,-2.95 7.81,-48.95 0,-46"/></g><polygon fill="#053061" stroke="#053061" points="58.31,30.95 64.4,34.83 72.21,31.89 66.12,28.01"/><path class="e" d="M64.4 80.83v-46"/><g transform="translate(46.91,81.25)"><polygon class="l" points="0,0 6.1,3.88 6.1,-0.3 0,-4.19"/></g><g transform="translate(53,85.13)"><polygon class="r" points="0,0 7.81,-2.95 7.81,-7.13 0,-4.19"/></g><polygon fill="#bd1a2d" stroke="#bd1a2d" points="46.91,77.06 53,80.95 60.81,78 54.72,74.12"/><path class="e" d="M53 85.13v-4.19"/><g transform="translate(101.41,69.72)"><polygon class="l" points="0,0 6.1,3.88 6.1,-1.18 0,-5.06"/></g><g transform="translate(107.5,73.6)"><polygon class="r" points="0,0 7.81,-2.95 7.81,-8.01 0,-5.06"/></g><polygon fill="#c52030" stroke="#c52030" points="101.41,64.66 107.5,68.54 115.31,65.6 109.22,61.72"/><path class="e" d="M107.5 73.6v-5.06"/><g transform="translate(90.01,74.02)"><polygon class="l" points="0,0 6.1,3.88 6.1,3.65 0,-0.23"/></g><g transform="translate(96.1,77.9)"><polygon class="r" points="0,0 7.81,-2.95 7.81,-3.18 0,-0.23"/></g><polygon fill="#7e0922" stroke="#7e0922" points="90.01,73.79 96.1,77.67 103.91,74.73 97.82,70.85"/><g transform="translate(78.61,78.32)"><polygon class="l" points="0,0 6.1,3.88 6.1,-42.12 0,-46"/></g><g transform="translate(84.7,82.2)"><polygon class="r" points="0,0 7.81,-2.95 7.81,-48.95 0,-46"/></g><polygon fill="#053061" stroke="#053061" points="78.61,32.32 84.7,36.2 92.51,33.26 86.42,29.38"/><path class="e" d="M84.7 82.2v-46"/><g transform="translate(67.21,82.62)"><polygon class="l" points="0,0 6.1,3.88 6.1,-0.3 0,-4.19"/></g><g transform="translate(73.3,86.5)"><polygon class="r" points="0,0 7.81,-2.95 7.81,-7.13 0,-4.19"/></g><polygon fill="#bd1a2d" stroke="#bd1a2d" points="67.21,78.43 73.3,82.32 81.11,79.37 75.02,75.49"/><path class="e" d="M73.3 86.5v-4.19"/><g transform="translate(55.81,86.92)"><polygon class="l" points="0,0 6.1,3.88 6.1,0.3 0,-3.59"/></g><g transform="translate(61.9,90.8)"><polygon class="r" points="0,0 7.81,-2.95 7.81,-6.53 0,-3.59"/></g><polygon fill="#b5182b" stroke="#b5182b" points="55.81,83.33 61.9,87.22 69.71,84.27 63.62,80.39"/><path class="e" d="M61.9 90.8v-3.59"/><g transform="translate(110.31,75.39)"><polygon class="l" points="0,0 6.1,3.88 6.1,0.3 0,-3.59"/></g><g transform="translate(116.4,79.27)"><polygon class="r" points="0,0 7.81,-2.95 7.81,-6.53 0,-3.59"/></g><polygon fill="#b5182b" stroke="#b5182b" points="110.31,71.8 116.4,75.69 124.21,72.74 118.12,68.86"/><path class="e" d="M116.4 79.27v-3.59"/><g transform="translate(98.91,79.69)"><polygon class="l" points="0,0 6.1,3.88 6.1,-42.12 0,-46"/></g><g transform="translate(105,83.57)"><polygon class="r" points="0,0 7.81,-2.95 7.81,-48.95 0,-46"/></g><polygon fill="#053061" stroke="#053061" points="98.91,33.69 105,37.57 112.81,34.63 106.72,30.75"/><path class="e" d="M105 83.57v-46"/><g transform="translate(87.51,83.99)"><polygon class="l" points="0,0 6.1,3.88 6.1,3.65 0,-0.23"/></g><g transform="translate(93.6,87.87)"><polygon class="r" points="0,0 7.81,-2.95 7.81,-3.18 0,-0.23"/></g><polygon fill="#7e0922" stroke="#7e0922" points="87.51,83.76 93.6,87.64 101.41,84.7 95.32,80.82"/><g transform="translate(76.11,88.29)"><polygon class="l" points="0,0 6.1,3.88 6.1,0.3 0,-3.59"/></g><g transform="translate(82.2,92.17)"><polygon class="r" points="0,0 7.81,-2.95 7.81,-6.53 0,-3.59"/></g><polygon fill="#b5182b" stroke="#b5182b" points="76.11,84.7 82.2,88.59 90.01,85.64 83.92,81.76"/><path class="e" d="M82.2 92.17v-3.59"/><g transform="translate(64.71,92.59)"><polygon class="l" points="0,0 6.1,3.88 6.1,0.3 0,-3.59"/></g><g transform="translate(70.8,96.47)"><polygon class="r" points="0,0 7.81,-2.95 7.81,-6.53 0,-3.59"/></g><polygon fill="#b5182b" stroke="#b5182b" points="64.71,89 70.8,92.89 78.61,89.94 72.52,86.06"/><path class="e" d="M70.8 96.47v-3.59"/><g transform="translate(119.21,81.06)"><polygon class="l" points="0,0 6.1,3.88 6.1,-42.12 0,-46"/></g><g transform="translate(125.3,84.94)"><polygon class="r" points="0,0 7.81,-2.95 7.81,-48.95 0,-46"/></g><polygon fill="#053061" stroke="#053061" points="119.21,35.06 125.3,38.94 133.11,36 127.02,32.12"/><path class="e" d="M125.3 84.94v-46"/><g transform="translate(107.81,85.36)"><polygon class="l" points="0,0 6.1,3.88 6.1,0.3 0,-3.59"/></g><g transform="translate(113.9,89.24)"><polygon class="r" points="0,0 7.81,-2.95 7.81,-6.53 0,-3.59"/></g><polygon fill="#b5182b" stroke="#b5182b" points="107.81,81.77 113.9,85.66 121.71,82.71 115.62,78.83"/><path class="e" d="M113.9 89.24v-3.59"/><g transform="translate(96.41,89.66)"><polygon class="l" points="0,0 6.1,3.88 6.1,0.89 0,-2.99"/></g><g transform="translate(102.5,93.54)"><polygon class="r" points="0,0 7.81,-2.95 7.81,-5.94 0,-2.99"/></g><polygon fill="#ad1629" stroke="#ad1629" points="96.41,86.67 102.5,90.55 110.31,87.61 104.22,83.73"/><path class="e" d="M102.5 93.54v-2.99"/><g transform="translate(85.01,93.96)"><polygon class="l" points="0,0 6.1,3.88 6.1,0.3 0,-3.59"/></g><g transform="translate(91.1,97.84)"><polygon class="r" points="0,0 7.81,-2.95 7.81,-6.53 0,-3.59"/></g><polygon fill="#b5182b" stroke="#b5182b" points="85.01,90.37 91.1,94.26 98.91,91.31 92.82,87.43"/><path class="e" d="M91.1 97.84v-3.59"/><g transform="translate(73.61,98.26)"><polygon class="l" points="0,0 6.1,3.88 6.1,-0.3 0,-4.19"/></g><g transform="translate(79.7,102.14)"><polygon class="r" points="0,0 7.81,-2.95 7.81,-7.13 0,-4.19"/></g><polygon fill="#bd1a2d" stroke="#bd1a2d" points="73.61,94.07 79.7,97.96 87.51,95.01 81.42,91.13"/><path class="e" d="M79.7 102.14v-4.19"/><text class="tk" text-anchor="end" x="27.9" y="73">0</text><text class="tk" text-anchor="end" x="27.9" y="50">0.5</text><text class="tk" text-anchor="end" x="27.9" y="27">1</text><text class="tk tf" text-anchor="middle" x="34.68" y="87.12">1</text><text class="tk tf" text-anchor="middle" x="94.7" y="115.7">1</text><text class="tk tf" text-anchor="middle" x="43.46" y="92.74">2</text><text class="tk tf" text-anchor="middle" x="106.3" y="110.9">2</text><text class="tk tf" text-anchor="middle" x="52.24" y="98.36">3</text><text class="tk tf" text-anchor="middle" x="117.5" y="106.7">3</text><text class="tk tf" text-anchor="middle" x="61.02" y="103.98">4</text><text class="tk tf" text-anchor="middle" x="129.1" y="101.9">4</text><text class="tk tf" text-anchor="middle" x="69.8" y="109.6">5</text><text class="tk tf" text-anchor="middle" x="140.7" y="97.8">5</text><text class="lb" text-anchor="middle" transform="translate(14.9,48.2) rotate(-90)">MAC</text><text class="lb lm" text-anchor="middle" transform="translate(30,103) rotate(35.8)">Modal order</text><text class="lb" text-anchor="middle" transform="translate(141.5,112.5) rotate(-22.3)">Modal order</text><text class="cap" text-anchor="middle" x="82.9" y="144.3">(<tspan class="b">k</tspan>) Case11</text></g>
<g transform="translate(380.4,471.25)"><path class="gd" d="M36.06 70.38L89.46 104.4M36.06 70.38L36.06 24.38M47.46 66.08L100.86 100.1M47.46 66.08L47.46 20.08M58.86 61.78L112.26 95.8M58.86 61.78L58.86 15.78M70.26 57.48L123.66 91.5M70.26 57.48L70.26 11.48M81.66 53.18L135.06 87.2M81.66 53.18L81.66 7.18M31.5 72.1L86.22 51.46M86.22 51.46L86.22 5.46M40.4 77.77L95.12 57.13M95.12 57.13L95.12 11.13M49.3 83.44L104.02 62.8M104.02 62.8L104.02 16.8M58.2 89.11L112.92 68.47M112.92 68.47L112.92 22.47M67.1 94.78L121.82 74.14M121.82 74.14L121.82 28.14M76 100.45L130.72 79.81M130.72 79.81L130.72 33.81M84.9 106.12L139.62 85.48M139.62 85.48L139.62 39.48M31.5 72.1L86.22 51.46L139.62 85.48M31.5 49.1L86.22 28.46L139.62 62.48M31.5 26.1L86.22 5.46L139.62 39.48"/><path class="ax" d="M31.5 26.1L31.5 72.1L84.9 106.12L139.62 85.48"/><path class="gd2" d="M31.5 26.1L86.22 5.46L139.62 39.48L139.62 85.48M86.22 5.46L86.22 51.46"/><g transform="translate(83.61,58.38)"><polygon class="l" points="0,0 6.1,3.88 6.1,1.81 0,-2.07"/></g><g transform="translate(89.7,62.26)"><polygon class="r" points="0,0 7.81,-2.95 7.81,-5.02 0,-2.07"/></g><polygon fill="#a01226" stroke="#a01226" points="83.61,56.31 89.7,60.19 97.51,57.25 91.42,53.37"/><path class="e" d="M89.7 62.26v-2.07"/><g transform="translate(72.21,62.68)"><polygon class="l" points="0,0 6.1,3.88 6.1,1.12 0,-2.76"/></g><g transform="translate(78.3,66.56)"><polygon class="r" points="0,0 7.81,-2.95 7.81,-5.71 0,-2.76"/></g><polygon fill="#aa1528" stroke="#aa1528" points="72.21,59.92 78.3,63.8 86.11,60.86 80.02,56.98"/><path class="e" d="M78.3 66.56v-2.76"/><g transform="translate(60.81,66.98)"><polygon class="l" points="0,0 6.1,3.88 6.1,1.12 0,-2.76"/></g><g transform="translate(66.9,70.86)"><polygon class="r" points="0,0 7.81,-2.95 7.81,-5.71 0,-2.76"/></g><polygon fill="#aa1528" stroke="#aa1528" points="60.81,64.22 66.9,68.1 74.71,65.16 68.62,61.28"/><path class="e" d="M66.9 70.86v-2.76"/><g transform="translate(49.41,71.28)"><polygon class="l" points="0,0 6.1,3.88 6.1,0.2 0,-3.68"/></g><g transform="translate(55.5,75.16)"><polygon class="r" points="0,0 7.81,-2.95 7.81,-6.63 0,-3.68"/></g><polygon fill="#b6182b" stroke="#b6182b" points="49.41,67.6 55.5,71.48 63.31,68.54 57.22,64.66"/><path class="e" d="M55.5 75.16v-3.68"/><g transform="translate(38.01,75.58)"><polygon class="l" points="0,0 6.1,3.88 6.1,-42.12 0,-46"/></g><g transform="translate(44.1,79.46)"><polygon class="r" points="0,0 7.81,-2.95 7.81,-48.95 0,-46"/></g><polygon fill="#053061" stroke="#053061" points="38.01,29.58 44.1,33.46 51.91,30.52 45.82,26.64"/><path class="e" d="M44.1 79.46v-46"/><g transform="translate(92.51,64.05)"><polygon class="l" points="0,0 6.1,3.88 6.1,2.5 0,-1.38"/></g><g transform="translate(98.6,67.93)"><polygon class="r" points="0,0 7.81,-2.95 7.81,-4.33 0,-1.38"/></g><polygon fill="#930f25" stroke="#930f25" points="92.51,62.67 98.6,66.55 106.41,63.61 100.32,59.73"/><g transform="translate(81.11,68.35)"><polygon class="l" points="0,0 6.1,3.88 6.1,3.65 0,-0.23"/></g><g transform="translate(87.2,72.23)"><polygon class="r" points="0,0 7.81,-2.95 7.81,-3.18 0,-0.23"/></g><polygon fill="#7e0922" stroke="#7e0922" points="81.11,68.12 87.2,72 95.01,69.06 88.92,65.18"/><g transform="translate(69.71,72.65)"><polygon class="l" points="0,0 6.1,3.88 6.1,2.5 0,-1.38"/></g><g transform="translate(75.8,76.53)"><polygon class="r" points="0,0 7.81,-2.95 7.81,-4.33 0,-1.38"/></g><polygon fill="#930f25" stroke="#930f25" points="69.71,71.27 75.8,75.15 83.61,72.21 77.52,68.33"/><g transform="translate(58.31,76.95)"><polygon class="l" points="0,0 6.1,3.88 6.1,-42.12 0,-46"/></g><g transform="translate(64.4,80.83)"><polygon class="r" points="0,0 7.81,-2.95 7.81,-48.95 0,-46"/></g><polygon fill="#053061" stroke="#053061" points="58.31,30.95 64.4,34.83 72.21,31.89 66.12,28.01"/><path class="e" d="M64.4 80.83v-46"/><g transform="translate(46.91,81.25)"><polygon class="l" points="0,0 6.1,3.88 6.1,1.58 0,-2.3"/></g><g transform="translate(53,85.13)"><polygon class="r" points="0,0 7.81,-2.95 7.81,-5.25 0,-2.3"/></g><polygon fill="#a41327" stroke="#a41327" points="46.91,78.95 53,82.83 60.81,79.89 54.72,76.01"/><path class="e" d="M53 85.13v-2.3"/><g transform="translate(101.41,69.72)"><polygon class="l" points="0,0 6.1,3.88 6.1,0.66 0,-3.22"/></g><g transform="translate(107.5,73.6)"><polygon class="r" points="0,0 7.81,-2.95 7.81,-6.17 0,-3.22"/></g><polygon fill="#b0172a" stroke="#b0172a" points="101.41,66.5 107.5,70.38 115.31,67.44 109.22,63.56"/><path class="e" d="M107.5 73.6v-3.22"/><g transform="translate(90.01,74.02)"><polygon class="l" points="0,0 6.1,3.88 6.1,2.04 0,-1.84"/></g><g transform="translate(96.1,77.9)"><polygon class="r" points="0,0 7.81,-2.95 7.81,-4.79 0,-1.84"/></g><polygon fill="#9c1126" stroke="#9c1126" points="90.01,72.18 96.1,76.06 103.91,73.12 97.82,69.24"/><path class="e" d="M96.1 77.9v-1.84"/><g transform="translate(78.61,78.32)"><polygon class="l" points="0,0 6.1,3.88 6.1,-42.12 0,-46"/></g><g transform="translate(84.7,82.2)"><polygon class="r" points="0,0 7.81,-2.95 7.81,-48.95 0,-46"/></g><polygon fill="#053061" stroke="#053061" points="78.61,32.32 84.7,36.2 92.51,33.26 86.42,29.38"/><path class="e" d="M84.7 82.2v-46"/><g transform="translate(67.21,82.62)"><polygon class="l" points="0,0 6.1,3.88 6.1,2.5 0,-1.38"/></g><g transform="translate(73.3,86.5)"><polygon class="r" points="0,0 7.81,-2.95 7.81,-4.33 0,-1.38"/></g><polygon fill="#930f25" stroke="#930f25" points="67.21,81.24 73.3,85.12 81.11,82.18 75.02,78.3"/><g transform="translate(55.81,86.92)"><polygon class="l" points="0,0 6.1,3.88 6.1,1.12 0,-2.76"/></g><g transform="translate(61.9,90.8)"><polygon class="r" points="0,0 7.81,-2.95 7.81,-5.71 0,-2.76"/></g><polygon fill="#aa1528" stroke="#aa1528" points="55.81,84.16 61.9,88.04 69.71,85.1 63.62,81.22"/><path class="e" d="M61.9 90.8v-2.76"/><g transform="translate(110.31,75.39)"><polygon class="l" points="0,0 6.1,3.88 6.1,2.27 0,-1.61"/></g><g transform="translate(116.4,79.27)"><polygon class="r" points="0,0 7.81,-2.95 7.81,-4.56 0,-1.61"/></g><polygon fill="#971026" stroke="#971026" points="110.31,73.78 116.4,77.66 124.21,74.72 118.12,70.84"/><path class="e" d="M116.4 79.27v-1.61"/><g transform="translate(98.91,79.69)"><polygon class="l" points="0,0 6.1,3.88 6.1,-42.12 0,-46"/></g><g transform="translate(105,83.57)"><polygon class="r" points="0,0 7.81,-2.95 7.81,-48.95 0,-46"/></g><polygon fill="#053061" stroke="#053061" points="98.91,33.69 105,37.57 112.81,34.63 106.72,30.75"/><path class="e" d="M105 83.57v-46"/><g transform="translate(87.51,83.99)"><polygon class="l" points="0,0 6.1,3.88 6.1,2.04 0,-1.84"/></g><g transform="translate(93.6,87.87)"><polygon class="r" points="0,0 7.81,-2.95 7.81,-4.79 0,-1.84"/></g><polygon fill="#9c1126" stroke="#9c1126" points="87.51,82.15 93.6,86.03 101.41,83.09 95.32,79.21"/><path class="e" d="M93.6 87.87v-1.84"/><g transform="translate(76.11,88.29)"><polygon class="l" points="0,0 6.1,3.88 6.1,3.65 0,-0.23"/></g><g transform="translate(82.2,92.17)"><polygon class="r" points="0,0 7.81,-2.95 7.81,-3.18 0,-0.23"/></g><polygon fill="#7e0922" stroke="#7e0922" points="76.11,88.06 82.2,91.94 90.01,89 83.92,85.12"/><g transform="translate(64.71,92.59)"><polygon class="l" points="0,0 6.1,3.88 6.1,1.12 0,-2.76"/></g><g transform="translate(70.8,96.47)"><polygon class="r" points="0,0 7.81,-2.95 7.81,-5.71 0,-2.76"/></g><polygon fill="#aa1528" stroke="#aa1528" points="64.71,89.83 70.8,93.71 78.61,90.77 72.52,86.89"/><path class="e" d="M70.8 96.47v-2.76"/><g transform="translate(119.21,81.06)"><polygon class="l" points="0,0 6.1,3.88 6.1,-42.12 0,-46"/></g><g transform="translate(125.3,84.94)"><polygon class="r" points="0,0 7.81,-2.95 7.81,-48.95 0,-46"/></g><polygon fill="#053061" stroke="#053061" points="119.21,35.06 125.3,38.94 133.11,36 127.02,32.12"/><path class="e" d="M125.3 84.94v-46"/><g transform="translate(107.81,85.36)"><polygon class="l" points="0,0 6.1,3.88 6.1,2.27 0,-1.61"/></g><g transform="translate(113.9,89.24)"><polygon class="r" points="0,0 7.81,-2.95 7.81,-4.56 0,-1.61"/></g><polygon fill="#971026" stroke="#971026" points="107.81,83.75 113.9,87.63 121.71,84.69 115.62,80.81"/><path class="e" d="M113.9 89.24v-1.61"/><g transform="translate(96.41,89.66)"><polygon class="l" points="0,0 6.1,3.88 6.1,2.04 0,-1.84"/></g><g transform="translate(102.5,93.54)"><polygon class="r" points="0,0 7.81,-2.95 7.81,-4.79 0,-1.84"/></g><polygon fill="#9c1126" stroke="#9c1126" points="96.41,87.82 102.5,91.7 110.31,88.76 104.22,84.88"/><path class="e" d="M102.5 93.54v-1.84"/><g transform="translate(85.01,93.96)"><polygon class="l" points="0,0 6.1,3.88 6.1,2.5 0,-1.38"/></g><g transform="translate(91.1,97.84)"><polygon class="r" points="0,0 7.81,-2.95 7.81,-4.33 0,-1.38"/></g><polygon fill="#930f25" stroke="#930f25" points="85.01,92.58 91.1,96.46 98.91,93.52 92.82,89.64"/><g transform="translate(73.61,98.26)"><polygon class="l" points="0,0 6.1,3.88 6.1,1.12 0,-2.76"/></g><g transform="translate(79.7,102.14)"><polygon class="r" points="0,0 7.81,-2.95 7.81,-5.71 0,-2.76"/></g><polygon fill="#aa1528" stroke="#aa1528" points="73.61,95.5 79.7,99.38 87.51,96.44 81.42,92.56"/><path class="e" d="M79.7 102.14v-2.76"/><text class="tk" text-anchor="end" x="27.9" y="73">0</text><text class="tk" text-anchor="end" x="27.9" y="50">0.5</text><text class="tk" text-anchor="end" x="27.9" y="27">1</text><text class="tk tf" text-anchor="middle" x="34.68" y="87.12">1</text><text class="tk tf" text-anchor="middle" x="94.7" y="115.7">1</text><text class="tk tf" text-anchor="middle" x="43.46" y="92.74">2</text><text class="tk tf" text-anchor="middle" x="106.3" y="110.9">2</text><text class="tk tf" text-anchor="middle" x="52.24" y="98.36">3</text><text class="tk tf" text-anchor="middle" x="117.5" y="106.7">3</text><text class="tk tf" text-anchor="middle" x="61.02" y="103.98">4</text><text class="tk tf" text-anchor="middle" x="129.1" y="101.9">4</text><text class="tk tf" text-anchor="middle" x="69.8" y="109.6">5</text><text class="tk tf" text-anchor="middle" x="140.7" y="97.8">5</text><text class="lb" text-anchor="middle" transform="translate(14.9,48.2) rotate(-90)">MAC</text><text class="lb lm" text-anchor="middle" transform="translate(30,103) rotate(35.8)">Modal order</text><text class="lb" text-anchor="middle" transform="translate(141.5,112.5) rotate(-22.3)">Modal order</text><text class="cap" text-anchor="middle" x="82.9" y="144.3">(<tspan class="b">l</tspan>) Case12</text></g>
<g transform="translate(0,628.75)"><path class="gd" d="M36.06 70.38L89.46 104.4M36.06 70.38L36.06 24.38M47.46 66.08L100.86 100.1M47.46 66.08L47.46 20.08M58.86 61.78L112.26 95.8M58.86 61.78L58.86 15.78M70.26 57.48L123.66 91.5M70.26 57.48L70.26 11.48M81.66 53.18L135.06 87.2M81.66 53.18L81.66 7.18M31.5 72.1L86.22 51.46M86.22 51.46L86.22 5.46M40.4 77.77L95.12 57.13M95.12 57.13L95.12 11.13M49.3 83.44L104.02 62.8M104.02 62.8L104.02 16.8M58.2 89.11L112.92 68.47M112.92 68.47L112.92 22.47M67.1 94.78L121.82 74.14M121.82 74.14L121.82 28.14M76 100.45L130.72 79.81M130.72 79.81L130.72 33.81M84.9 106.12L139.62 85.48M139.62 85.48L139.62 39.48M31.5 72.1L86.22 51.46L139.62 85.48M31.5 49.1L86.22 28.46L139.62 62.48M31.5 26.1L86.22 5.46L139.62 39.48"/><path class="ax" d="M31.5 26.1L31.5 72.1L84.9 106.12L139.62 85.48"/><path class="gd2" d="M31.5 26.1L86.22 5.46L139.62 39.48L139.62 85.48M86.22 5.46L86.22 51.46"/><g transform="translate(83.61,58.38)"><polygon class="l" points="0,0 6.1,3.88 6.1,-1.87 0,-5.75"/></g><g transform="translate(89.7,62.26)"><polygon class="r" points="0,0 7.81,-2.95 7.81,-8.7 0,-5.75"/></g><polygon fill="#c82732" stroke="#c82732" points="83.61,52.63 89.7,56.51 97.51,53.57 91.42,49.69"/><path class="e" d="M89.7 62.26v-5.75"/><g transform="translate(72.21,62.68)"><polygon class="l" points="0,0 6.1,3.88 6.1,-1.64 0,-5.52"/></g><g transform="translate(78.3,66.56)"><polygon class="r" points="0,0 7.81,-2.95 7.81,-8.47 0,-5.52"/></g><polygon fill="#c72531" stroke="#c72531" points="72.21,57.16 78.3,61.04 86.11,58.1 80.02,54.22"/><path class="e" d="M78.3 66.56v-5.52"/><g transform="translate(60.81,66.98)"><polygon class="l" points="0,0 6.1,3.88 6.1,2.09 0,-1.79"/></g><g transform="translate(66.9,70.86)"><polygon class="r" points="0,0 7.81,-2.95 7.81,-4.74 0,-1.79"/></g><polygon fill="#9b1126" stroke="#9b1126" points="60.81,65.19 66.9,69.07 74.71,66.13 68.62,62.24"/><path class="e" d="M66.9 70.86v-1.79"/><g transform="translate(49.41,71.28)"><polygon class="l" points="0,0 6.1,3.88 6.1,-0.9 0,-4.78"/></g><g transform="translate(55.5,75.16)"><polygon class="r" points="0,0 7.81,-2.95 7.81,-7.73 0,-4.78"/></g><polygon fill="#c31e2f" stroke="#c31e2f" points="49.41,66.5 55.5,70.38 63.31,67.44 57.22,63.55"/><path class="e" d="M55.5 75.16v-4.78"/><g transform="translate(38.01,75.58)"><polygon class="l" points="0,0 6.1,3.88 6.1,-42.12 0,-46"/></g><g transform="translate(44.1,79.46)"><polygon class="r" points="0,0 7.81,-2.95 7.81,-48.95 0,-46"/></g><polygon fill="#053061" stroke="#053061" points="38.01,29.58 44.1,33.46 51.91,30.52 45.82,26.64"/><path class="e" d="M44.1 79.46v-46"/><g transform="translate(92.51,64.05)"><polygon class="l" points="0,0 6.1,3.88 6.1,2.5 0,-1.38"/></g><g transform="translate(98.6,67.93)"><polygon class="r" points="0,0 7.81,-2.95 7.81,-4.33 0,-1.38"/></g><polygon fill="#930f25" stroke="#930f25" points="92.51,62.67 98.6,66.55 106.41,63.61 100.32,59.73"/><g transform="translate(81.11,68.35)"><polygon class="l" points="0,0 6.1,3.88 6.1,0.3 0,-3.59"/></g><g transform="translate(87.2,72.23)"><polygon class="r" points="0,0 7.81,-2.95 7.81,-6.53 0,-3.59"/></g><polygon fill="#b5182b" stroke="#b5182b" points="81.11,64.76 87.2,68.65 95.01,65.7 88.92,61.82"/><path class="e" d="M87.2 72.23v-3.59"/><g transform="translate(69.71,72.65)"><polygon class="l" points="0,0 6.1,3.88 6.1,0.3 0,-3.59"/></g><g transform="translate(75.8,76.53)"><polygon class="r" points="0,0 7.81,-2.95 7.81,-6.53 0,-3.59"/></g><polygon fill="#b5182b" stroke="#b5182b" points="69.71,69.06 75.8,72.95 83.61,70 77.52,66.12"/><path class="e" d="M75.8 76.53v-3.59"/><g transform="translate(58.31,76.95)"><polygon class="l" points="0,0 6.1,3.88 6.1,-42.12 0,-46"/></g><g transform="translate(64.4,80.83)"><polygon class="r" points="0,0 7.81,-2.95 7.81,-48.95 0,-46"/></g><polygon fill="#053061" stroke="#053061" points="58.31,30.95 64.4,34.83 72.21,31.89 66.12,28.01"/><path class="e" d="M64.4 80.83v-46"/><g transform="translate(46.91,81.25)"><polygon class="l" points="0,0 6.1,3.88 6.1,0.3 0,-3.59"/></g><g transform="translate(53,85.13)"><polygon class="r" points="0,0 7.81,-2.95 7.81,-6.53 0,-3.59"/></g><polygon fill="#b5182b" stroke="#b5182b" points="46.91,77.66 53,81.55 60.81,78.6 54.72,74.72"/><path class="e" d="M53 85.13v-3.59"/><g transform="translate(101.41,69.72)"><polygon class="l" points="0,0 6.1,3.88 6.1,0.2 0,-3.68"/></g><g transform="translate(107.5,73.6)"><polygon class="r" points="0,0 7.81,-2.95 7.81,-6.63 0,-3.68"/></g><polygon fill="#b6182b" stroke="#b6182b" points="101.41,66.04 107.5,69.92 115.31,66.98 109.22,63.1"/><path class="e" d="M107.5 73.6v-3.68"/><g transform="translate(90.01,74.02)"><polygon class="l" points="0,0 6.1,3.88 6.1,0.89 0,-2.99"/></g><g transform="translate(96.1,77.9)"><polygon class="r" points="0,0 7.81,-2.95 7.81,-5.94 0,-2.99"/></g><polygon fill="#ad1629" stroke="#ad1629" points="90.01,71.03 96.1,74.91 103.91,71.97 97.82,68.09"/><path class="e" d="M96.1 77.9v-2.99"/><g transform="translate(78.61,78.32)"><polygon class="l" points="0,0 6.1,3.88 6.1,-42.12 0,-46"/></g><g transform="translate(84.7,82.2)"><polygon class="r" points="0,0 7.81,-2.95 7.81,-48.95 0,-46"/></g><polygon fill="#053061" stroke="#053061" points="78.61,32.32 84.7,36.2 92.51,33.26 86.42,29.38"/><path class="e" d="M84.7 82.2v-46"/><g transform="translate(67.21,82.62)"><polygon class="l" points="0,0 6.1,3.88 6.1,0.3 0,-3.59"/></g><g transform="translate(73.3,86.5)"><polygon class="r" points="0,0 7.81,-2.95 7.81,-6.53 0,-3.59"/></g><polygon fill="#b5182b" stroke="#b5182b" points="67.21,79.03 73.3,82.92 81.11,79.97 75.02,76.09"/><path class="e" d="M73.3 86.5v-3.59"/><g transform="translate(55.81,86.92)"><polygon class="l" points="0,0 6.1,3.88 6.1,2.09 0,-1.79"/></g><g transform="translate(61.9,90.8)"><polygon class="r" points="0,0 7.81,-2.95 7.81,-4.74 0,-1.79"/></g><polygon fill="#9b1126" stroke="#9b1126" points="55.81,85.13 61.9,89.01 69.71,86.07 63.62,82.18"/><path class="e" d="M61.9 90.8v-1.79"/><g transform="translate(110.31,75.39)"><polygon class="l" points="0,0 6.1,3.88 6.1,1.49 0,-2.39"/></g><g transform="translate(116.4,79.27)"><polygon class="r" points="0,0 7.81,-2.95 7.81,-5.34 0,-2.39"/></g><polygon fill="#a51327" stroke="#a51327" points="110.31,73 116.4,76.88 124.21,73.94 118.12,70.05"/><path class="e" d="M116.4 79.27v-2.39"/><g transform="translate(98.91,79.69)"><polygon class="l" points="0,0 6.1,3.88 6.1,-42.12 0,-46"/></g><g transform="translate(105,83.57)"><polygon class="r" points="0,0 7.81,-2.95 7.81,-48.95 0,-46"/></g><polygon fill="#053061" stroke="#053061" points="98.91,33.69 105,37.57 112.81,34.63 106.72,30.75"/><path class="e" d="M105 83.57v-46"/><g transform="translate(87.51,83.99)"><polygon class="l" points="0,0 6.1,3.88 6.1,0.89 0,-2.99"/></g><g transform="translate(93.6,87.87)"><polygon class="r" points="0,0 7.81,-2.95 7.81,-5.94 0,-2.99"/></g><polygon fill="#ad1629" stroke="#ad1629" points="87.51,81 93.6,84.88 101.41,81.94 95.32,78.06"/><path class="e" d="M93.6 87.87v-2.99"/><g transform="translate(76.11,88.29)"><polygon class="l" points="0,0 6.1,3.88 6.1,0.3 0,-3.59"/></g><g transform="translate(82.2,92.17)"><polygon class="r" points="0,0 7.81,-2.95 7.81,-6.53 0,-3.59"/></g><polygon fill="#b5182b" stroke="#b5182b" points="76.11,84.7 82.2,88.59 90.01,85.64 83.92,81.76"/><path class="e" d="M82.2 92.17v-3.59"/><g transform="translate(64.71,92.59)"><polygon class="l" points="0,0 6.1,3.88 6.1,0.89 0,-2.99"/></g><g transform="translate(70.8,96.47)"><polygon class="r" points="0,0 7.81,-2.95 7.81,-5.94 0,-2.99"/></g><polygon fill="#ad1629" stroke="#ad1629" points="64.71,89.6 70.8,93.48 78.61,90.54 72.52,86.66"/><path class="e" d="M70.8 96.47v-2.99"/><g transform="translate(119.21,81.06)"><polygon class="l" points="0,0 6.1,3.88 6.1,-42.12 0,-46"/></g><g transform="translate(125.3,84.94)"><polygon class="r" points="0,0 7.81,-2.95 7.81,-48.95 0,-46"/></g><polygon fill="#053061" stroke="#053061" points="119.21,35.06 125.3,38.94 133.11,36 127.02,32.12"/><path class="e" d="M125.3 84.94v-46"/><g transform="translate(107.81,85.36)"><polygon class="l" points="0,0 6.1,3.88 6.1,1.49 0,-2.39"/></g><g transform="translate(113.9,89.24)"><polygon class="r" points="0,0 7.81,-2.95 7.81,-5.34 0,-2.39"/></g><polygon fill="#a51327" stroke="#a51327" points="107.81,82.97 113.9,86.85 121.71,83.91 115.62,80.02"/><path class="e" d="M113.9 89.24v-2.39"/><g transform="translate(96.41,89.66)"><polygon class="l" points="0,0 6.1,3.88 6.1,0.66 0,-3.22"/></g><g transform="translate(102.5,93.54)"><polygon class="r" points="0,0 7.81,-2.95 7.81,-6.17 0,-3.22"/></g><polygon fill="#b0172a" stroke="#b0172a" points="96.41,86.44 102.5,90.32 110.31,87.38 104.22,83.5"/><path class="e" d="M102.5 93.54v-3.22"/><g transform="translate(85.01,93.96)"><polygon class="l" points="0,0 6.1,3.88 6.1,2.5 0,-1.38"/></g><g transform="translate(91.1,97.84)"><polygon class="r" points="0,0 7.81,-2.95 7.81,-4.33 0,-1.38"/></g><polygon fill="#930f25" stroke="#930f25" points="85.01,92.58 91.1,96.46 98.91,93.52 92.82,89.64"/><g transform="translate(73.61,98.26)"><polygon class="l" points="0,0 6.1,3.88 6.1,0.3 0,-3.59"/></g><g transform="translate(79.7,102.14)"><polygon class="r" points="0,0 7.81,-2.95 7.81,-6.53 0,-3.59"/></g><polygon fill="#b5182b" stroke="#b5182b" points="73.61,94.67 79.7,98.56 87.51,95.61 81.42,91.73"/><path class="e" d="M79.7 102.14v-3.59"/><text class="tk" text-anchor="end" x="27.9" y="73">0</text><text class="tk" text-anchor="end" x="27.9" y="50">0.5</text><text class="tk" text-anchor="end" x="27.9" y="27">1</text><text class="tk tf" text-anchor="middle" x="34.68" y="87.12">1</text><text class="tk tf" text-anchor="middle" x="94.7" y="115.7">1</text><text class="tk tf" text-anchor="middle" x="43.46" y="92.74">2</text><text class="tk tf" text-anchor="middle" x="106.3" y="110.9">2</text><text class="tk tf" text-anchor="middle" x="52.24" y="98.36">3</text><text class="tk tf" text-anchor="middle" x="117.5" y="106.7">3</text><text class="tk tf" text-anchor="middle" x="61.02" y="103.98">4</text><text class="tk tf" text-anchor="middle" x="129.1" y="101.9">4</text><text class="tk tf" text-anchor="middle" x="69.8" y="109.6">5</text><text class="tk tf" text-anchor="middle" x="140.7" y="97.8">5</text><text class="lb" text-anchor="middle" transform="translate(14.9,48.2) rotate(-90)">MAC</text><text class="lb lm" text-anchor="middle" transform="translate(30,103) rotate(35.8)">Modal order</text><text class="lb" text-anchor="middle" transform="translate(141.5,112.5) rotate(-22.3)">Modal order</text><text class="cap" text-anchor="middle" x="82.9" y="143.85">(<tspan class="b">m</tspan>) Case13</text></g>
<g transform="translate(190.2,628.75)"><path class="gd" d="M36.06 70.38L89.46 104.4M36.06 70.38L36.06 24.38M47.46 66.08L100.86 100.1M47.46 66.08L47.46 20.08M58.86 61.78L112.26 95.8M58.86 61.78L58.86 15.78M70.26 57.48L123.66 91.5M70.26 57.48L70.26 11.48M81.66 53.18L135.06 87.2M81.66 53.18L81.66 7.18M31.5 72.1L86.22 51.46M86.22 51.46L86.22 5.46M40.4 77.77L95.12 57.13M95.12 57.13L95.12 11.13M49.3 83.44L104.02 62.8M104.02 62.8L104.02 16.8M58.2 89.11L112.92 68.47M112.92 68.47L112.92 22.47M67.1 94.78L121.82 74.14M121.82 74.14L121.82 28.14M76 100.45L130.72 79.81M130.72 79.81L130.72 33.81M84.9 106.12L139.62 85.48M139.62 85.48L139.62 39.48M31.5 72.1L86.22 51.46L139.62 85.48M31.5 49.1L86.22 28.46L139.62 62.48M31.5 26.1L86.22 5.46L139.62 39.48"/><path class="ax" d="M31.5 26.1L31.5 72.1L84.9 106.12L139.62 85.48"/><path class="gd2" d="M31.5 26.1L86.22 5.46L139.62 39.48L139.62 85.48M86.22 5.46L86.22 51.46"/><g transform="translate(83.61,58.38)"><polygon class="l" points="0,0 6.1,3.88 6.1,1.4 0,-2.48"/></g><g transform="translate(89.7,62.26)"><polygon class="r" points="0,0 7.81,-2.95 7.81,-5.43 0,-2.48"/></g><polygon fill="#a61428" stroke="#a61428" points="83.61,55.9 89.7,59.78 97.51,56.84 91.42,52.95"/><path class="e" d="M89.7 62.26v-2.48"/><g transform="translate(72.21,62.68)"><polygon class="l" points="0,0 6.1,3.88 6.1,-0.72 0,-4.6"/></g><g transform="translate(78.3,66.56)"><polygon class="r" points="0,0 7.81,-2.95 7.81,-7.55 0,-4.6"/></g><polygon fill="#c21c2e" stroke="#c21c2e" points="72.21,58.08 78.3,61.96 86.11,59.02 80.02,55.14"/><path class="e" d="M78.3 66.56v-4.6"/><g transform="translate(60.81,66.98)"><polygon class="l" points="0,0 6.1,3.88 6.1,1.49 0,-2.39"/></g><g transform="translate(66.9,70.86)"><polygon class="r" points="0,0 7.81,-2.95 7.81,-5.34 0,-2.39"/></g><polygon fill="#a51327" stroke="#a51327" points="60.81,64.59 66.9,68.47 74.71,65.53 68.62,61.64"/><path class="e" d="M66.9 70.86v-2.39"/><g transform="translate(49.41,71.28)"><polygon class="l" points="0,0 6.1,3.88 6.1,-1.08 0,-4.97"/></g><g transform="translate(55.5,75.16)"><polygon class="r" points="0,0 7.81,-2.95 7.81,-7.91 0,-4.97"/></g><polygon fill="#c41f2f" stroke="#c41f2f" points="49.41,66.31 55.5,70.2 63.31,67.25 57.22,63.37"/><path class="e" d="M55.5 75.16v-4.97"/><g transform="translate(38.01,75.58)"><polygon class="l" points="0,0 6.1,3.88 6.1,-42.12 0,-46"/></g><g transform="translate(44.1,79.46)"><polygon class="r" points="0,0 7.81,-2.95 7.81,-48.95 0,-46"/></g><polygon fill="#053061" stroke="#053061" points="38.01,29.58 44.1,33.46 51.91,30.52 45.82,26.64"/><path class="e" d="M44.1 79.46v-46"/><g transform="translate(92.51,64.05)"><polygon class="l" points="0,0 6.1,3.88 6.1,1.49 0,-2.39"/></g><g transform="translate(98.6,67.93)"><polygon class="r" points="0,0 7.81,-2.95 7.81,-5.34 0,-2.39"/></g><polygon fill="#a51327" stroke="#a51327" points="92.51,61.66 98.6,65.54 106.41,62.6 100.32,58.71"/><path class="e" d="M98.6 67.93v-2.39"/><g transform="translate(81.11,68.35)"><polygon class="l" points="0,0 6.1,3.88 6.1,1.49 0,-2.39"/></g><g transform="translate(87.2,72.23)"><polygon class="r" points="0,0 7.81,-2.95 7.81,-5.34 0,-2.39"/></g><polygon fill="#a51327" stroke="#a51327" points="81.11,65.96 87.2,69.84 95.01,66.9 88.92,63.01"/><path class="e" d="M87.2 72.23v-2.39"/><g transform="translate(69.71,72.65)"><polygon class="l" points="0,0 6.1,3.88 6.1,1.49 0,-2.39"/></g><g transform="translate(75.8,76.53)"><polygon class="r" points="0,0 7.81,-2.95 7.81,-5.34 0,-2.39"/></g><polygon fill="#a51327" stroke="#a51327" points="69.71,70.26 75.8,74.14 83.61,71.2 77.52,67.31"/><path class="e" d="M75.8 76.53v-2.39"/><g transform="translate(58.31,76.95)"><polygon class="l" points="0,0 6.1,3.88 6.1,-42.12 0,-46"/></g><g transform="translate(64.4,80.83)"><polygon class="r" points="0,0 7.81,-2.95 7.81,-48.95 0,-46"/></g><polygon fill="#053061" stroke="#053061" points="58.31,30.95 64.4,34.83 72.21,31.89 66.12,28.01"/><path class="e" d="M64.4 80.83v-46"/><g transform="translate(46.91,81.25)"><polygon class="l" points="0,0 6.1,3.88 6.1,0.89 0,-2.99"/></g><g transform="translate(53,85.13)"><polygon class="r" points="0,0 7.81,-2.95 7.81,-5.94 0,-2.99"/></g><polygon fill="#ad1629" stroke="#ad1629" points="46.91,78.26 53,82.14 60.81,79.2 54.72,75.32"/><path class="e" d="M53 85.13v-2.99"/><g transform="translate(101.41,69.72)"><polygon class="l" points="0,0 6.1,3.88 6.1,-0.72 0,-4.6"/></g><g transform="translate(107.5,73.6)"><polygon class="r" points="0,0 7.81,-2.95 7.81,-7.55 0,-4.6"/></g><polygon fill="#c21c2e" stroke="#c21c2e" points="101.41,65.12 107.5,69 115.31,66.06 109.22,62.18"/><path class="e" d="M107.5 73.6v-4.6"/><g transform="translate(90.01,74.02)"><polygon class="l" points="0,0 6.1,3.88 6.1,1.49 0,-2.39"/></g><g transform="translate(96.1,77.9)"><polygon class="r" points="0,0 7.81,-2.95 7.81,-5.34 0,-2.39"/></g><polygon fill="#a51327" stroke="#a51327" points="90.01,71.63 96.1,75.51 103.91,72.57 97.82,68.68"/><path class="e" d="M96.1 77.9v-2.39"/><g transform="translate(78.61,78.32)"><polygon class="l" points="0,0 6.1,3.88 6.1,-42.12 0,-46"/></g><g transform="translate(84.7,82.2)"><polygon class="r" points="0,0 7.81,-2.95 7.81,-48.95 0,-46"/></g><polygon fill="#053061" stroke="#053061" points="78.61,32.32 84.7,36.2 92.51,33.26 86.42,29.38"/><path class="e" d="M84.7 82.2v-46"/><g transform="translate(67.21,82.62)"><polygon class="l" points="0,0 6.1,3.88 6.1,1.49 0,-2.39"/></g><g transform="translate(73.3,86.5)"><polygon class="r" points="0,0 7.81,-2.95 7.81,-5.34 0,-2.39"/></g><polygon fill="#a51327" stroke="#a51327" points="67.21,80.23 73.3,84.11 81.11,81.17 75.02,77.28"/><path class="e" d="M73.3 86.5v-2.39"/><g transform="translate(55.81,86.92)"><polygon class="l" points="0,0 6.1,3.88 6.1,1.49 0,-2.39"/></g><g transform="translate(61.9,90.8)"><polygon class="r" points="0,0 7.81,-2.95 7.81,-5.34 0,-2.39"/></g><polygon fill="#a51327" stroke="#a51327" points="55.81,84.53 61.9,88.41 69.71,85.47 63.62,81.58"/><path class="e" d="M61.9 90.8v-2.39"/><g transform="translate(110.31,75.39)"><polygon class="l" points="0,0 6.1,3.88 6.1,3.65 0,-0.23"/></g><g transform="translate(116.4,79.27)"><polygon class="r" points="0,0 7.81,-2.95 7.81,-3.18 0,-0.23"/></g><polygon fill="#7e0922" stroke="#7e0922" points="110.31,75.16 116.4,79.04 124.21,76.1 118.12,72.22"/><g transform="translate(98.91,79.69)"><polygon class="l" points="0,0 6.1,3.88 6.1,-42.12 0,-46"/></g><g transform="translate(105,83.57)"><polygon class="r" points="0,0 7.81,-2.95 7.81,-48.95 0,-46"/></g><polygon fill="#053061" stroke="#053061" points="98.91,33.69 105,37.57 112.81,34.63 106.72,30.75"/><path class="e" d="M105 83.57v-46"/><g transform="translate(87.51,83.99)"><polygon class="l" points="0,0 6.1,3.88 6.1,1.49 0,-2.39"/></g><g transform="translate(93.6,87.87)"><polygon class="r" points="0,0 7.81,-2.95 7.81,-5.34 0,-2.39"/></g><polygon fill="#a51327" stroke="#a51327" points="87.51,81.6 93.6,85.48 101.41,82.54 95.32,78.65"/><path class="e" d="M93.6 87.87v-2.39"/><g transform="translate(76.11,88.29)"><polygon class="l" points="0,0 6.1,3.88 6.1,1.49 0,-2.39"/></g><g transform="translate(82.2,92.17)"><polygon class="r" points="0,0 7.81,-2.95 7.81,-5.34 0,-2.39"/></g><polygon fill="#a51327" stroke="#a51327" points="76.11,85.9 82.2,89.78 90.01,86.84 83.92,82.95"/><path class="e" d="M82.2 92.17v-2.39"/><g transform="translate(64.71,92.59)"><polygon class="l" points="0,0 6.1,3.88 6.1,1.49 0,-2.39"/></g><g transform="translate(70.8,96.47)"><polygon class="r" points="0,0 7.81,-2.95 7.81,-5.34 0,-2.39"/></g><polygon fill="#a51327" stroke="#a51327" points="64.71,90.2 70.8,94.08 78.61,91.14 72.52,87.25"/><path class="e" d="M70.8 96.47v-2.39"/><g transform="translate(119.21,81.06)"><polygon class="l" points="0,0 6.1,3.88 6.1,-42.12 0,-46"/></g><g transform="translate(125.3,84.94)"><polygon class="r" points="0,0 7.81,-2.95 7.81,-48.95 0,-46"/></g><polygon fill="#053061" stroke="#053061" points="119.21,35.06 125.3,38.94 133.11,36 127.02,32.12"/><path class="e" d="M125.3 84.94v-46"/><g transform="translate(107.81,85.36)"><polygon class="l" points="0,0 6.1,3.88 6.1,3.65 0,-0.23"/></g><g transform="translate(113.9,89.24)"><polygon class="r" points="0,0 7.81,-2.95 7.81,-3.18 0,-0.23"/></g><polygon fill="#7e0922" stroke="#7e0922" points="107.81,85.13 113.9,89.01 121.71,86.07 115.62,82.19"/><g transform="translate(96.41,89.66)"><polygon class="l" points="0,0 6.1,3.88 6.1,2.09 0,-1.79"/></g><g transform="translate(102.5,93.54)"><polygon class="r" points="0,0 7.81,-2.95 7.81,-4.74 0,-1.79"/></g><polygon fill="#9b1126" stroke="#9b1126" points="96.41,87.87 102.5,91.75 110.31,88.81 104.22,84.92"/><path class="e" d="M102.5 93.54v-1.79"/><g transform="translate(85.01,93.96)"><polygon class="l" points="0,0 6.1,3.88 6.1,1.49 0,-2.39"/></g><g transform="translate(91.1,97.84)"><polygon class="r" points="0,0 7.81,-2.95 7.81,-5.34 0,-2.39"/></g><polygon fill="#a51327" stroke="#a51327" points="85.01,91.57 91.1,95.45 98.91,92.51 92.82,88.62"/><path class="e" d="M91.1 97.84v-2.39"/><g transform="translate(73.61,98.26)"><polygon class="l" points="0,0 6.1,3.88 6.1,3.65 0,-0.23"/></g><g transform="translate(79.7,102.14)"><polygon class="r" points="0,0 7.81,-2.95 7.81,-3.18 0,-0.23"/></g><polygon fill="#7e0922" stroke="#7e0922" points="73.61,98.03 79.7,101.91 87.51,98.97 81.42,95.09"/><text class="tk" text-anchor="end" x="27.9" y="73">0</text><text class="tk" text-anchor="end" x="27.9" y="50">0.5</text><text class="tk" text-anchor="end" x="27.9" y="27">1</text><text class="tk tf" text-anchor="middle" x="34.68" y="87.12">1</text><text class="tk tf" text-anchor="middle" x="94.7" y="115.7">1</text><text class="tk tf" text-anchor="middle" x="43.46" y="92.74">2</text><text class="tk tf" text-anchor="middle" x="106.3" y="110.9">2</text><text class="tk tf" text-anchor="middle" x="52.24" y="98.36">3</text><text class="tk tf" text-anchor="middle" x="117.5" y="106.7">3</text><text class="tk tf" text-anchor="middle" x="61.02" y="103.98">4</text><text class="tk tf" text-anchor="middle" x="129.1" y="101.9">4</text><text class="tk tf" text-anchor="middle" x="69.8" y="109.6">5</text><text class="tk tf" text-anchor="middle" x="140.7" y="97.8">5</text><text class="lb" text-anchor="middle" transform="translate(14.9,48.2) rotate(-90)">MAC</text><text class="lb lm" text-anchor="middle" transform="translate(30,103) rotate(35.8)">Modal order</text><text class="lb" text-anchor="middle" transform="translate(141.5,112.5) rotate(-22.3)">Modal order</text><text class="cap" text-anchor="middle" x="82.9" y="143.85">(<tspan class="b">n</tspan>) Case14</text></g>
<g transform="translate(380.4,628.75)"><path class="gd" d="M36.06 70.38L89.46 104.4M36.06 70.38L36.06 24.38M47.46 66.08L100.86 100.1M47.46 66.08L47.46 20.08M58.86 61.78L112.26 95.8M58.86 61.78L58.86 15.78M70.26 57.48L123.66 91.5M70.26 57.48L70.26 11.48M81.66 53.18L135.06 87.2M81.66 53.18L81.66 7.18M31.5 72.1L86.22 51.46M86.22 51.46L86.22 5.46M40.4 77.77L95.12 57.13M95.12 57.13L95.12 11.13M49.3 83.44L104.02 62.8M104.02 62.8L104.02 16.8M58.2 89.11L112.92 68.47M112.92 68.47L112.92 22.47M67.1 94.78L121.82 74.14M121.82 74.14L121.82 28.14M76 100.45L130.72 79.81M130.72 79.81L130.72 33.81M84.9 106.12L139.62 85.48M139.62 85.48L139.62 39.48M31.5 72.1L86.22 51.46L139.62 85.48M31.5 49.1L86.22 28.46L139.62 62.48M31.5 26.1L86.22 5.46L139.62 39.48"/><path class="ax" d="M31.5 26.1L31.5 72.1L84.9 106.12L139.62 85.48"/><path class="gd2" d="M31.5 26.1L86.22 5.46L139.62 39.48L139.62 85.48M86.22 5.46L86.22 51.46"/><g transform="translate(83.61,58.38)"><polygon class="l" points="0,0 6.1,3.88 6.1,-0.95 0,-4.83"/></g><g transform="translate(89.7,62.26)"><polygon class="r" points="0,0 7.81,-2.95 7.81,-7.78 0,-4.83"/></g><polygon fill="#c31e2f" stroke="#c31e2f" points="83.61,53.55 89.7,57.43 97.51,54.49 91.42,50.61"/><path class="e" d="M89.7 62.26v-4.83"/><g transform="translate(72.21,62.68)"><polygon class="l" points="0,0 6.1,3.88 6.1,1.58 0,-2.3"/></g><g transform="translate(78.3,66.56)"><polygon class="r" points="0,0 7.81,-2.95 7.81,-5.25 0,-2.3"/></g><polygon fill="#a41327" stroke="#a41327" points="72.21,60.38 78.3,64.26 86.11,61.32 80.02,57.44"/><path class="e" d="M78.3 66.56v-2.3"/><g transform="translate(60.81,66.98)"><polygon class="l" points="0,0 6.1,3.88 6.1,0.89 0,-2.99"/></g><g transform="translate(66.9,70.86)"><polygon class="r" points="0,0 7.81,-2.95 7.81,-5.94 0,-2.99"/></g><polygon fill="#ad1629" stroke="#ad1629" points="60.81,63.99 66.9,67.87 74.71,64.93 68.62,61.05"/><path class="e" d="M66.9 70.86v-2.99"/><g transform="translate(49.41,71.28)"><polygon class="l" points="0,0 6.1,3.88 6.1,-1.08 0,-4.97"/></g><g transform="translate(55.5,75.16)"><polygon class="r" points="0,0 7.81,-2.95 7.81,-7.91 0,-4.97"/></g><polygon fill="#c41f2f" stroke="#c41f2f" points="49.41,66.31 55.5,70.2 63.31,67.25 57.22,63.37"/><path class="e" d="M55.5 75.16v-4.97"/><g transform="translate(38.01,75.58)"><polygon class="l" points="0,0 6.1,3.88 6.1,-42.12 0,-46"/></g><g transform="translate(44.1,79.46)"><polygon class="r" points="0,0 7.81,-2.95 7.81,-48.95 0,-46"/></g><polygon fill="#053061" stroke="#053061" points="38.01,29.58 44.1,33.46 51.91,30.52 45.82,26.64"/><path class="e" d="M44.1 79.46v-46"/><g transform="translate(92.51,64.05)"><polygon class="l" points="0,0 6.1,3.88 6.1,3.42 0,-0.46"/></g><g transform="translate(98.6,67.93)"><polygon class="r" points="0,0 7.81,-2.95 7.81,-3.41 0,-0.46"/></g><polygon fill="#820a23" stroke="#820a23" points="92.51,63.59 98.6,67.47 106.41,64.53 100.32,60.65"/><g transform="translate(81.11,68.35)"><polygon class="l" points="0,0 6.1,3.88 6.1,1.49 0,-2.39"/></g><g transform="translate(87.2,72.23)"><polygon class="r" points="0,0 7.81,-2.95 7.81,-5.34 0,-2.39"/></g><polygon fill="#a51327" stroke="#a51327" points="81.11,65.96 87.2,69.84 95.01,66.9 88.92,63.01"/><path class="e" d="M87.2 72.23v-2.39"/><g transform="translate(69.71,72.65)"><polygon class="l" points="0,0 6.1,3.88 6.1,0.89 0,-2.99"/></g><g transform="translate(75.8,76.53)"><polygon class="r" points="0,0 7.81,-2.95 7.81,-5.94 0,-2.99"/></g><polygon fill="#ad1629" stroke="#ad1629" points="69.71,69.66 75.8,73.54 83.61,70.6 77.52,66.72"/><path class="e" d="M75.8 76.53v-2.99"/><g transform="translate(58.31,76.95)"><polygon class="l" points="0,0 6.1,3.88 6.1,-42.12 0,-46"/></g><g transform="translate(64.4,80.83)"><polygon class="r" points="0,0 7.81,-2.95 7.81,-48.95 0,-46"/></g><polygon fill="#053061" stroke="#053061" points="58.31,30.95 64.4,34.83 72.21,31.89 66.12,28.01"/><path class="e" d="M64.4 80.83v-46"/><g transform="translate(46.91,81.25)"><polygon class="l" points="0,0 6.1,3.88 6.1,0.3 0,-3.59"/></g><g transform="translate(53,85.13)"><polygon class="r" points="0,0 7.81,-2.95 7.81,-6.53 0,-3.59"/></g><polygon fill="#b5182b" stroke="#b5182b" points="46.91,77.66 53,81.55 60.81,78.6 54.72,74.72"/><path class="e" d="M53 85.13v-3.59"/><g transform="translate(101.41,69.72)"><polygon class="l" points="0,0 6.1,3.88 6.1,2.04 0,-1.84"/></g><g transform="translate(107.5,73.6)"><polygon class="r" points="0,0 7.81,-2.95 7.81,-4.79 0,-1.84"/></g><polygon fill="#9c1126" stroke="#9c1126" points="101.41,67.88 107.5,71.76 115.31,68.82 109.22,64.94"/><path class="e" d="M107.5 73.6v-1.84"/><g transform="translate(90.01,74.02)"><polygon class="l" points="0,0 6.1,3.88 6.1,1.49 0,-2.39"/></g><g transform="translate(96.1,77.9)"><polygon class="r" points="0,0 7.81,-2.95 7.81,-5.34 0,-2.39"/></g><polygon fill="#a51327" stroke="#a51327" points="90.01,71.63 96.1,75.51 103.91,72.57 97.82,68.68"/><path class="e" d="M96.1 77.9v-2.39"/><g transform="translate(78.61,78.32)"><polygon class="l" points="0,0 6.1,3.88 6.1,-42.12 0,-46"/></g><g transform="translate(84.7,82.2)"><polygon class="r" points="0,0 7.81,-2.95 7.81,-48.95 0,-46"/></g><polygon fill="#053061" stroke="#053061" points="78.61,32.32 84.7,36.2 92.51,33.26 86.42,29.38"/><path class="e" d="M84.7 82.2v-46"/><g transform="translate(67.21,82.62)"><polygon class="l" points="0,0 6.1,3.88 6.1,0.89 0,-2.99"/></g><g transform="translate(73.3,86.5)"><polygon class="r" points="0,0 7.81,-2.95 7.81,-5.94 0,-2.99"/></g><polygon fill="#ad1629" stroke="#ad1629" points="67.21,79.63 73.3,83.51 81.11,80.57 75.02,76.69"/><path class="e" d="M73.3 86.5v-2.99"/><g transform="translate(55.81,86.92)"><polygon class="l" points="0,0 6.1,3.88 6.1,0.89 0,-2.99"/></g><g transform="translate(61.9,90.8)"><polygon class="r" points="0,0 7.81,-2.95 7.81,-5.94 0,-2.99"/></g><polygon fill="#ad1629" stroke="#ad1629" points="55.81,83.93 61.9,87.81 69.71,84.87 63.62,80.99"/><path class="e" d="M61.9 90.8v-2.99"/><g transform="translate(110.31,75.39)"><polygon class="l" points="0,0 6.1,3.88 6.1,2.09 0,-1.79"/></g><g transform="translate(116.4,79.27)"><polygon class="r" points="0,0 7.81,-2.95 7.81,-4.74 0,-1.79"/></g><polygon fill="#9b1126" stroke="#9b1126" points="110.31,73.6 116.4,77.48 124.21,74.54 118.12,70.65"/><path class="e" d="M116.4 79.27v-1.79"/><g transform="translate(98.91,79.69)"><polygon class="l" points="0,0 6.1,3.88 6.1,-42.12 0,-46"/></g><g transform="translate(105,83.57)"><polygon class="r" points="0,0 7.81,-2.95 7.81,-48.95 0,-46"/></g><polygon fill="#053061" stroke="#053061" points="98.91,33.69 105,37.57 112.81,34.63 106.72,30.75"/><path class="e" d="M105 83.57v-46"/><g transform="translate(87.51,83.99)"><polygon class="l" points="0,0 6.1,3.88 6.1,1.49 0,-2.39"/></g><g transform="translate(93.6,87.87)"><polygon class="r" points="0,0 7.81,-2.95 7.81,-5.34 0,-2.39"/></g><polygon fill="#a51327" stroke="#a51327" points="87.51,81.6 93.6,85.48 101.41,82.54 95.32,78.65"/><path class="e" d="M93.6 87.87v-2.39"/><g transform="translate(76.11,88.29)"><polygon class="l" points="0,0 6.1,3.88 6.1,1.49 0,-2.39"/></g><g transform="translate(82.2,92.17)"><polygon class="r" points="0,0 7.81,-2.95 7.81,-5.34 0,-2.39"/></g><polygon fill="#a51327" stroke="#a51327" points="76.11,85.9 82.2,89.78 90.01,86.84 83.92,82.95"/><path class="e" d="M82.2 92.17v-2.39"/><g transform="translate(64.71,92.59)"><polygon class="l" points="0,0 6.1,3.88 6.1,3.65 0,-0.23"/></g><g transform="translate(70.8,96.47)"><polygon class="r" points="0,0 7.81,-2.95 7.81,-3.18 0,-0.23"/></g><polygon fill="#7e0922" stroke="#7e0922" points="64.71,92.36 70.8,96.24 78.61,93.3 72.52,89.42"/><g transform="translate(119.21,81.06)"><polygon class="l" points="0,0 6.1,3.88 6.1,-42.12 0,-46"/></g><g transform="translate(125.3,84.94)"><polygon class="r" points="0,0 7.81,-2.95 7.81,-48.95 0,-46"/></g><polygon fill="#053061" stroke="#053061" points="119.21,35.06 125.3,38.94 133.11,36 127.02,32.12"/><path class="e" d="M125.3 84.94v-46"/><g transform="translate(107.81,85.36)"><polygon class="l" points="0,0 6.1,3.88 6.1,2.09 0,-1.79"/></g><g transform="translate(113.9,89.24)"><polygon class="r" points="0,0 7.81,-2.95 7.81,-4.74 0,-1.79"/></g><polygon fill="#9b1126" stroke="#9b1126" points="107.81,83.57 113.9,87.45 121.71,84.51 115.62,80.62"/><path class="e" d="M113.9 89.24v-1.79"/><g transform="translate(96.41,89.66)"><polygon class="l" points="0,0 6.1,3.88 6.1,2.04 0,-1.84"/></g><g transform="translate(102.5,93.54)"><polygon class="r" points="0,0 7.81,-2.95 7.81,-4.79 0,-1.84"/></g><polygon fill="#9c1126" stroke="#9c1126" points="96.41,87.82 102.5,91.7 110.31,88.76 104.22,84.88"/><path class="e" d="M102.5 93.54v-1.84"/><g transform="translate(85.01,93.96)"><polygon class="l" points="0,0 6.1,3.88 6.1,3.42 0,-0.46"/></g><g transform="translate(91.1,97.84)"><polygon class="r" points="0,0 7.81,-2.95 7.81,-3.41 0,-0.46"/></g><polygon fill="#820a23" stroke="#820a23" points="85.01,93.5 91.1,97.38 98.91,94.44 92.82,90.56"/><g transform="translate(73.61,98.26)"><polygon class="l" points="0,0 6.1,3.88 6.1,0.2 0,-3.68"/></g><g transform="translate(79.7,102.14)"><polygon class="r" points="0,0 7.81,-2.95 7.81,-6.63 0,-3.68"/></g><polygon fill="#b6182b" stroke="#b6182b" points="73.61,94.58 79.7,98.46 87.51,95.52 81.42,91.64"/><path class="e" d="M79.7 102.14v-3.68"/><text class="tk" text-anchor="end" x="27.9" y="73">0</text><text class="tk" text-anchor="end" x="27.9" y="50">0.5</text><text class="tk" text-anchor="end" x="27.9" y="27">1</text><text class="tk tf" text-anchor="middle" x="34.68" y="87.12">1</text><text class="tk tf" text-anchor="middle" x="94.7" y="115.7">1</text><text class="tk tf" text-anchor="middle" x="43.46" y="92.74">2</text><text class="tk tf" text-anchor="middle" x="106.3" y="110.9">2</text><text class="tk tf" text-anchor="middle" x="52.24" y="98.36">3</text><text class="tk tf" text-anchor="middle" x="117.5" y="106.7">3</text><text class="tk tf" text-anchor="middle" x="61.02" y="103.98">4</text><text class="tk tf" text-anchor="middle" x="129.1" y="101.9">4</text><text class="tk tf" text-anchor="middle" x="69.8" y="109.6">5</text><text class="tk tf" text-anchor="middle" x="140.7" y="97.8">5</text><text class="lb" text-anchor="middle" transform="translate(14.9,48.2) rotate(-90)">MAC</text><text class="lb lm" text-anchor="middle" transform="translate(30,103) rotate(35.8)">Modal order</text><text class="lb" text-anchor="middle" transform="translate(141.5,112.5) rotate(-22.3)">Modal order</text><text class="cap" text-anchor="middle" x="82.9" y="143.85">(<tspan class="b">o</tspan>) Case15</text></g>
<g transform="translate(0,784.95)"><path class="gd" d="M36.06 70.38L89.46 104.4M36.06 70.38L36.06 24.38M47.46 66.08L100.86 100.1M47.46 66.08L47.46 20.08M58.86 61.78L112.26 95.8M58.86 61.78L58.86 15.78M70.26 57.48L123.66 91.5M70.26 57.48L70.26 11.48M81.66 53.18L135.06 87.2M81.66 53.18L81.66 7.18M31.5 72.1L86.22 51.46M86.22 51.46L86.22 5.46M40.4 77.77L95.12 57.13M95.12 57.13L95.12 11.13M49.3 83.44L104.02 62.8M104.02 62.8L104.02 16.8M58.2 89.11L112.92 68.47M112.92 68.47L112.92 22.47M67.1 94.78L121.82 74.14M121.82 74.14L121.82 28.14M76 100.45L130.72 79.81M130.72 79.81L130.72 33.81M84.9 106.12L139.62 85.48M139.62 85.48L139.62 39.48M31.5 72.1L86.22 51.46L139.62 85.48M31.5 49.1L86.22 28.46L139.62 62.48M31.5 26.1L86.22 5.46L139.62 39.48"/><path class="ax" d="M31.5 26.1L31.5 72.1L84.9 106.12L139.62 85.48"/><path class="gd2" d="M31.5 26.1L86.22 5.46L139.62 39.48L139.62 85.48M86.22 5.46L86.22 51.46"/><g transform="translate(83.61,58.38)"><polygon class="l" points="0,0 6.1,3.88 6.1,2.69 0,-1.2"/></g><g transform="translate(89.7,62.26)"><polygon class="r" points="0,0 7.81,-2.95 7.81,-4.14 0,-1.2"/></g><polygon fill="#900e25" stroke="#900e25" points="83.61,57.18 89.7,61.07 97.51,58.12 91.42,54.24"/><g transform="translate(72.21,62.68)"><polygon class="l" points="0,0 6.1,3.88 6.1,3.65 0,-0.23"/></g><g transform="translate(78.3,66.56)"><polygon class="r" points="0,0 7.81,-2.95 7.81,-3.18 0,-0.23"/></g><polygon fill="#7e0922" stroke="#7e0922" points="72.21,62.45 78.3,66.33 86.11,63.39 80.02,59.51"/><g transform="translate(60.81,66.98)"><polygon class="l" points="0,0 6.1,3.88 6.1,3.65 0,-0.23"/></g><g transform="translate(66.9,70.86)"><polygon class="r" points="0,0 7.81,-2.95 7.81,-3.18 0,-0.23"/></g><polygon fill="#7e0922" stroke="#7e0922" points="60.81,66.75 66.9,70.63 74.71,67.69 68.62,63.81"/><g transform="translate(49.41,71.28)"><polygon class="l" points="0,0 6.1,3.88 6.1,3.42 0,-0.46"/></g><g transform="translate(55.5,75.16)"><polygon class="r" points="0,0 7.81,-2.95 7.81,-3.41 0,-0.46"/></g><polygon fill="#820a23" stroke="#820a23" points="49.41,70.82 55.5,74.7 63.31,71.76 57.22,67.88"/><g transform="translate(38.01,75.58)"><polygon class="l" points="0,0 6.1,3.88 6.1,-42.12 0,-46"/></g><g transform="translate(44.1,79.46)"><polygon class="r" points="0,0 7.81,-2.95 7.81,-48.95 0,-46"/></g><polygon fill="#053061" stroke="#053061" points="38.01,29.58 44.1,33.46 51.91,30.52 45.82,26.64"/><path class="e" d="M44.1 79.46v-46"/><g transform="translate(92.51,64.05)"><polygon class="l" points="0,0 6.1,3.88 6.1,3.65 0,-0.23"/></g><g transform="translate(98.6,67.93)"><polygon class="r" points="0,0 7.81,-2.95 7.81,-3.18 0,-0.23"/></g><polygon fill="#7e0922" stroke="#7e0922" points="92.51,63.82 98.6,67.7 106.41,64.76 100.32,60.88"/><g transform="translate(81.11,68.35)"><polygon class="l" points="0,0 6.1,3.88 6.1,3.65 0,-0.23"/></g><g transform="translate(87.2,72.23)"><polygon class="r" points="0,0 7.81,-2.95 7.81,-3.18 0,-0.23"/></g><polygon fill="#7e0922" stroke="#7e0922" points="81.11,68.12 87.2,72 95.01,69.06 88.92,65.18"/><g transform="translate(69.71,72.65)"><polygon class="l" points="0,0 6.1,3.88 6.1,3.65 0,-0.23"/></g><g transform="translate(75.8,76.53)"><polygon class="r" points="0,0 7.81,-2.95 7.81,-3.18 0,-0.23"/></g><polygon fill="#7e0922" stroke="#7e0922" points="69.71,72.42 75.8,76.3 83.61,73.36 77.52,69.48"/><g transform="translate(58.31,76.95)"><polygon class="l" points="0,0 6.1,3.88 6.1,-42.12 0,-46"/></g><g transform="translate(64.4,80.83)"><polygon class="r" points="0,0 7.81,-2.95 7.81,-48.95 0,-46"/></g><polygon fill="#053061" stroke="#053061" points="58.31,30.95 64.4,34.83 72.21,31.89 66.12,28.01"/><path class="e" d="M64.4 80.83v-46"/><g transform="translate(46.91,81.25)"><polygon class="l" points="0,0 6.1,3.88 6.1,3.42 0,-0.46"/></g><g transform="translate(53,85.13)"><polygon class="r" points="0,0 7.81,-2.95 7.81,-3.41 0,-0.46"/></g><polygon fill="#820a23" stroke="#820a23" points="46.91,80.79 53,84.67 60.81,81.73 54.72,77.85"/><g transform="translate(101.41,69.72)"><polygon class="l" points="0,0 6.1,3.88 6.1,3.65 0,-0.23"/></g><g transform="translate(107.5,73.6)"><polygon class="r" points="0,0 7.81,-2.95 7.81,-3.18 0,-0.23"/></g><polygon fill="#7e0922" stroke="#7e0922" points="101.41,69.49 107.5,73.37 115.31,70.43 109.22,66.55"/><g transform="translate(90.01,74.02)"><polygon class="l" points="0,0 6.1,3.88 6.1,3.65 0,-0.23"/></g><g transform="translate(96.1,77.9)"><polygon class="r" points="0,0 7.81,-2.95 7.81,-3.18 0,-0.23"/></g><polygon fill="#7e0922" stroke="#7e0922" points="90.01,73.79 96.1,77.67 103.91,74.73 97.82,70.85"/><g transform="translate(78.61,78.32)"><polygon class="l" points="0,0 6.1,3.88 6.1,-42.12 0,-46"/></g><g transform="translate(84.7,82.2)"><polygon class="r" points="0,0 7.81,-2.95 7.81,-48.95 0,-46"/></g><polygon fill="#053061" stroke="#053061" points="78.61,32.32 84.7,36.2 92.51,33.26 86.42,29.38"/><path class="e" d="M84.7 82.2v-46"/><g transform="translate(67.21,82.62)"><polygon class="l" points="0,0 6.1,3.88 6.1,3.65 0,-0.23"/></g><g transform="translate(73.3,86.5)"><polygon class="r" points="0,0 7.81,-2.95 7.81,-3.18 0,-0.23"/></g><polygon fill="#7e0922" stroke="#7e0922" points="67.21,82.39 73.3,86.27 81.11,83.33 75.02,79.45"/><g transform="translate(55.81,86.92)"><polygon class="l" points="0,0 6.1,3.88 6.1,3.65 0,-0.23"/></g><g transform="translate(61.9,90.8)"><polygon class="r" points="0,0 7.81,-2.95 7.81,-3.18 0,-0.23"/></g><polygon fill="#7e0922" stroke="#7e0922" points="55.81,86.69 61.9,90.57 69.71,87.63 63.62,83.75"/><g transform="translate(110.31,75.39)"><polygon class="l" points="0,0 6.1,3.88 6.1,3.65 0,-0.23"/></g><g transform="translate(116.4,79.27)"><polygon class="r" points="0,0 7.81,-2.95 7.81,-3.18 0,-0.23"/></g><polygon fill="#7e0922" stroke="#7e0922" points="110.31,75.16 116.4,79.04 124.21,76.1 118.12,72.22"/><g transform="translate(98.91,79.69)"><polygon class="l" points="0,0 6.1,3.88 6.1,-42.12 0,-46"/></g><g transform="translate(105,83.57)"><polygon class="r" points="0,0 7.81,-2.95 7.81,-48.95 0,-46"/></g><polygon fill="#053061" stroke="#053061" points="98.91,33.69 105,37.57 112.81,34.63 106.72,30.75"/><path class="e" d="M105 83.57v-46"/><g transform="translate(87.51,83.99)"><polygon class="l" points="0,0 6.1,3.88 6.1,3.65 0,-0.23"/></g><g transform="translate(93.6,87.87)"><polygon class="r" points="0,0 7.81,-2.95 7.81,-3.18 0,-0.23"/></g><polygon fill="#7e0922" stroke="#7e0922" points="87.51,83.76 93.6,87.64 101.41,84.7 95.32,80.82"/><g transform="translate(76.11,88.29)"><polygon class="l" points="0,0 6.1,3.88 6.1,3.65 0,-0.23"/></g><g transform="translate(82.2,92.17)"><polygon class="r" points="0,0 7.81,-2.95 7.81,-3.18 0,-0.23"/></g><polygon fill="#7e0922" stroke="#7e0922" points="76.11,88.06 82.2,91.94 90.01,89 83.92,85.12"/><g transform="translate(64.71,92.59)"><polygon class="l" points="0,0 6.1,3.88 6.1,3.65 0,-0.23"/></g><g transform="translate(70.8,96.47)"><polygon class="r" points="0,0 7.81,-2.95 7.81,-3.18 0,-0.23"/></g><polygon fill="#7e0922" stroke="#7e0922" points="64.71,92.36 70.8,96.24 78.61,93.3 72.52,89.42"/><g transform="translate(119.21,81.06)"><polygon class="l" points="0,0 6.1,3.88 6.1,-42.12 0,-46"/></g><g transform="translate(125.3,84.94)"><polygon class="r" points="0,0 7.81,-2.95 7.81,-48.95 0,-46"/></g><polygon fill="#053061" stroke="#053061" points="119.21,35.06 125.3,38.94 133.11,36 127.02,32.12"/><path class="e" d="M125.3 84.94v-46"/><g transform="translate(107.81,85.36)"><polygon class="l" points="0,0 6.1,3.88 6.1,3.65 0,-0.23"/></g><g transform="translate(113.9,89.24)"><polygon class="r" points="0,0 7.81,-2.95 7.81,-3.18 0,-0.23"/></g><polygon fill="#7e0922" stroke="#7e0922" points="107.81,85.13 113.9,89.01 121.71,86.07 115.62,82.19"/><g transform="translate(96.41,89.66)"><polygon class="l" points="0,0 6.1,3.88 6.1,3.65 0,-0.23"/></g><g transform="translate(102.5,93.54)"><polygon class="r" points="0,0 7.81,-2.95 7.81,-3.18 0,-0.23"/></g><polygon fill="#7e0922" stroke="#7e0922" points="96.41,89.43 102.5,93.31 110.31,90.37 104.22,86.49"/><g transform="translate(85.01,93.96)"><polygon class="l" points="0,0 6.1,3.88 6.1,3.65 0,-0.23"/></g><g transform="translate(91.1,97.84)"><polygon class="r" points="0,0 7.81,-2.95 7.81,-3.18 0,-0.23"/></g><polygon fill="#7e0922" stroke="#7e0922" points="85.01,93.73 91.1,97.61 98.91,94.67 92.82,90.79"/><g transform="translate(73.61,98.26)"><polygon class="l" points="0,0 6.1,3.88 6.1,3.65 0,-0.23"/></g><g transform="translate(79.7,102.14)"><polygon class="r" points="0,0 7.81,-2.95 7.81,-3.18 0,-0.23"/></g><polygon fill="#7e0922" stroke="#7e0922" points="73.61,98.03 79.7,101.91 87.51,98.97 81.42,95.09"/><text class="tk" text-anchor="end" x="27.9" y="73">0</text><text class="tk" text-anchor="end" x="27.9" y="50">0.5</text><text class="tk" text-anchor="end" x="27.9" y="27">1</text><text class="tk tf" text-anchor="middle" x="34.68" y="87.12">1</text><text class="tk tf" text-anchor="middle" x="94.7" y="115.7">1</text><text class="tk tf" text-anchor="middle" x="43.46" y="92.74">2</text><text class="tk tf" text-anchor="middle" x="106.3" y="110.9">2</text><text class="tk tf" text-anchor="middle" x="52.24" y="98.36">3</text><text class="tk tf" text-anchor="middle" x="117.5" y="106.7">3</text><text class="tk tf" text-anchor="middle" x="61.02" y="103.98">4</text><text class="tk tf" text-anchor="middle" x="129.1" y="101.9">4</text><text class="tk tf" text-anchor="middle" x="69.8" y="109.6">5</text><text class="tk tf" text-anchor="middle" x="140.7" y="97.8">5</text><text class="lb" text-anchor="middle" transform="translate(14.9,48.2) rotate(-90)">MAC</text><text class="lb lm" text-anchor="middle" transform="translate(30,103) rotate(35.8)">Modal order</text><text class="lb" text-anchor="middle" transform="translate(141.5,112.5) rotate(-22.3)">Modal order</text><text class="cap" text-anchor="middle" x="82.9" y="144.7">(<tspan class="b">p</tspan>) Case16</text></g>
<g transform="translate(190.2,784.95)"><path class="gd" d="M36.06 70.38L89.46 104.4M36.06 70.38L36.06 24.38M47.46 66.08L100.86 100.1M47.46 66.08L47.46 20.08M58.86 61.78L112.26 95.8M58.86 61.78L58.86 15.78M70.26 57.48L123.66 91.5M70.26 57.48L70.26 11.48M81.66 53.18L135.06 87.2M81.66 53.18L81.66 7.18M31.5 72.1L86.22 51.46M86.22 51.46L86.22 5.46M40.4 77.77L95.12 57.13M95.12 57.13L95.12 11.13M49.3 83.44L104.02 62.8M104.02 62.8L104.02 16.8M58.2 89.11L112.92 68.47M112.92 68.47L112.92 22.47M67.1 94.78L121.82 74.14M121.82 74.14L121.82 28.14M76 100.45L130.72 79.81M130.72 79.81L130.72 33.81M84.9 106.12L139.62 85.48M139.62 85.48L139.62 39.48M31.5 72.1L86.22 51.46L139.62 85.48M31.5 49.1L86.22 28.46L139.62 62.48M31.5 26.1L86.22 5.46L139.62 39.48"/><path class="ax" d="M31.5 26.1L31.5 72.1L84.9 106.12L139.62 85.48"/><path class="gd2" d="M31.5 26.1L86.22 5.46L139.62 39.48L139.62 85.48M86.22 5.46L86.22 51.46"/><g transform="translate(83.61,58.38)"><polygon class="l" points="0,0 6.1,3.88 6.1,2.69 0,-1.2"/></g><g transform="translate(89.7,62.26)"><polygon class="r" points="0,0 7.81,-2.95 7.81,-4.14 0,-1.2"/></g><polygon fill="#900e25" stroke="#900e25" points="83.61,57.18 89.7,61.07 97.51,58.12 91.42,54.24"/><g transform="translate(72.21,62.68)"><polygon class="l" points="0,0 6.1,3.88 6.1,3.56 0,-0.32"/></g><g transform="translate(78.3,66.56)"><polygon class="r" points="0,0 7.81,-2.95 7.81,-3.27 0,-0.32"/></g><polygon fill="#800a23" stroke="#800a23" points="72.21,62.36 78.3,66.24 86.11,63.3 80.02,59.41"/><g transform="translate(60.81,66.98)"><polygon class="l" points="0,0 6.1,3.88 6.1,3.56 0,-0.32"/></g><g transform="translate(66.9,70.86)"><polygon class="r" points="0,0 7.81,-2.95 7.81,-3.27 0,-0.32"/></g><polygon fill="#800a23" stroke="#800a23" points="60.81,66.66 66.9,70.54 74.71,67.6 68.62,63.71"/><g transform="translate(49.41,71.28)"><polygon class="l" points="0,0 6.1,3.88 6.1,3.19 0,-0.69"/></g><g transform="translate(55.5,75.16)"><polygon class="r" points="0,0 7.81,-2.95 7.81,-3.64 0,-0.69"/></g><polygon fill="#870b24" stroke="#870b24" points="49.41,70.59 55.5,74.47 63.31,71.53 57.22,67.65"/><g transform="translate(38.01,75.58)"><polygon class="l" points="0,0 6.1,3.88 6.1,-42.12 0,-46"/></g><g transform="translate(44.1,79.46)"><polygon class="r" points="0,0 7.81,-2.95 7.81,-48.95 0,-46"/></g><polygon fill="#053061" stroke="#053061" points="38.01,29.58 44.1,33.46 51.91,30.52 45.82,26.64"/><path class="e" d="M44.1 79.46v-46"/><g transform="translate(92.51,64.05)"><polygon class="l" points="0,0 6.1,3.88 6.1,3.56 0,-0.32"/></g><g transform="translate(98.6,67.93)"><polygon class="r" points="0,0 7.81,-2.95 7.81,-3.27 0,-0.32"/></g><polygon fill="#800a23" stroke="#800a23" points="92.51,63.73 98.6,67.61 106.41,64.67 100.32,60.78"/><g transform="translate(81.11,68.35)"><polygon class="l" points="0,0 6.1,3.88 6.1,3.56 0,-0.32"/></g><g transform="translate(87.2,72.23)"><polygon class="r" points="0,0 7.81,-2.95 7.81,-3.27 0,-0.32"/></g><polygon fill="#800a23" stroke="#800a23" points="81.11,68.03 87.2,71.91 95.01,68.97 88.92,65.08"/><g transform="translate(69.71,72.65)"><polygon class="l" points="0,0 6.1,3.88 6.1,3.33 0,-0.55"/></g><g transform="translate(75.8,76.53)"><polygon class="r" points="0,0 7.81,-2.95 7.81,-3.5 0,-0.55"/></g><polygon fill="#840b23" stroke="#840b23" points="69.71,72.1 75.8,75.98 83.61,73.04 77.52,69.15"/><g transform="translate(58.31,76.95)"><polygon class="l" points="0,0 6.1,3.88 6.1,-42.12 0,-46"/></g><g transform="translate(64.4,80.83)"><polygon class="r" points="0,0 7.81,-2.95 7.81,-48.95 0,-46"/></g><polygon fill="#053061" stroke="#053061" points="58.31,30.95 64.4,34.83 72.21,31.89 66.12,28.01"/><path class="e" d="M64.4 80.83v-46"/><g transform="translate(46.91,81.25)"><polygon class="l" points="0,0 6.1,3.88 6.1,3.19 0,-0.69"/></g><g transform="translate(53,85.13)"><polygon class="r" points="0,0 7.81,-2.95 7.81,-3.64 0,-0.69"/></g><polygon fill="#870b24" stroke="#870b24" points="46.91,80.56 53,84.44 60.81,81.5 54.72,77.62"/><g transform="translate(101.41,69.72)"><polygon class="l" points="0,0 6.1,3.88 6.1,3.56 0,-0.32"/></g><g transform="translate(107.5,73.6)"><polygon class="r" points="0,0 7.81,-2.95 7.81,-3.27 0,-0.32"/></g><polygon fill="#800a23" stroke="#800a23" points="101.41,69.4 107.5,73.28 115.31,70.34 109.22,66.45"/><g transform="translate(90.01,74.02)"><polygon class="l" points="0,0 6.1,3.88 6.1,3.56 0,-0.32"/></g><g transform="translate(96.1,77.9)"><polygon class="r" points="0,0 7.81,-2.95 7.81,-3.27 0,-0.32"/></g><polygon fill="#800a23" stroke="#800a23" points="90.01,73.7 96.1,77.58 103.91,74.64 97.82,70.75"/><g transform="translate(78.61,78.32)"><polygon class="l" points="0,0 6.1,3.88 6.1,-42.12 0,-46"/></g><g transform="translate(84.7,82.2)"><polygon class="r" points="0,0 7.81,-2.95 7.81,-48.95 0,-46"/></g><polygon fill="#053061" stroke="#053061" points="78.61,32.32 84.7,36.2 92.51,33.26 86.42,29.38"/><path class="e" d="M84.7 82.2v-46"/><g transform="translate(67.21,82.62)"><polygon class="l" points="0,0 6.1,3.88 6.1,3.33 0,-0.55"/></g><g transform="translate(73.3,86.5)"><polygon class="r" points="0,0 7.81,-2.95 7.81,-3.5 0,-0.55"/></g><polygon fill="#840b23" stroke="#840b23" points="67.21,82.07 73.3,85.95 81.11,83.01 75.02,79.12"/><g transform="translate(55.81,86.92)"><polygon class="l" points="0,0 6.1,3.88 6.1,3.56 0,-0.32"/></g><g transform="translate(61.9,90.8)"><polygon class="r" points="0,0 7.81,-2.95 7.81,-3.27 0,-0.32"/></g><polygon fill="#800a23" stroke="#800a23" points="55.81,86.6 61.9,90.48 69.71,87.54 63.62,83.65"/><g transform="translate(110.31,75.39)"><polygon class="l" points="0,0 6.1,3.88 6.1,3.56 0,-0.32"/></g><g transform="translate(116.4,79.27)"><polygon class="r" points="0,0 7.81,-2.95 7.81,-3.27 0,-0.32"/></g><polygon fill="#800a23" stroke="#800a23" points="110.31,75.07 116.4,78.95 124.21,76.01 118.12,72.12"/><g transform="translate(98.91,79.69)"><polygon class="l" points="0,0 6.1,3.88 6.1,-42.12 0,-46"/></g><g transform="translate(105,83.57)"><polygon class="r" points="0,0 7.81,-2.95 7.81,-48.95 0,-46"/></g><polygon fill="#053061" stroke="#053061" points="98.91,33.69 105,37.57 112.81,34.63 106.72,30.75"/><path class="e" d="M105 83.57v-46"/><g transform="translate(87.51,83.99)"><polygon class="l" points="0,0 6.1,3.88 6.1,3.56 0,-0.32"/></g><g transform="translate(93.6,87.87)"><polygon class="r" points="0,0 7.81,-2.95 7.81,-3.27 0,-0.32"/></g><polygon fill="#800a23" stroke="#800a23" points="87.51,83.67 93.6,87.55 101.41,84.61 95.32,80.72"/><g transform="translate(76.11,88.29)"><polygon class="l" points="0,0 6.1,3.88 6.1,3.56 0,-0.32"/></g><g transform="translate(82.2,92.17)"><polygon class="r" points="0,0 7.81,-2.95 7.81,-3.27 0,-0.32"/></g><polygon fill="#800a23" stroke="#800a23" points="76.11,87.97 82.2,91.85 90.01,88.91 83.92,85.02"/><g transform="translate(64.71,92.59)"><polygon class="l" points="0,0 6.1,3.88 6.1,3.56 0,-0.32"/></g><g transform="translate(70.8,96.47)"><polygon class="r" points="0,0 7.81,-2.95 7.81,-3.27 0,-0.32"/></g><polygon fill="#800a23" stroke="#800a23" points="64.71,92.27 70.8,96.15 78.61,93.21 72.52,89.32"/><g transform="translate(119.21,81.06)"><polygon class="l" points="0,0 6.1,3.88 6.1,-42.12 0,-46"/></g><g transform="translate(125.3,84.94)"><polygon class="r" points="0,0 7.81,-2.95 7.81,-48.95 0,-46"/></g><polygon fill="#053061" stroke="#053061" points="119.21,35.06 125.3,38.94 133.11,36 127.02,32.12"/><path class="e" d="M125.3 84.94v-46"/><g transform="translate(107.81,85.36)"><polygon class="l" points="0,0 6.1,3.88 6.1,3.56 0,-0.32"/></g><g transform="translate(113.9,89.24)"><polygon class="r" points="0,0 7.81,-2.95 7.81,-3.27 0,-0.32"/></g><polygon fill="#800a23" stroke="#800a23" points="107.81,85.04 113.9,88.92 121.71,85.98 115.62,82.09"/><g transform="translate(96.41,89.66)"><polygon class="l" points="0,0 6.1,3.88 6.1,3.56 0,-0.32"/></g><g transform="translate(102.5,93.54)"><polygon class="r" points="0,0 7.81,-2.95 7.81,-3.27 0,-0.32"/></g><polygon fill="#800a23" stroke="#800a23" points="96.41,89.34 102.5,93.22 110.31,90.28 104.22,86.39"/><g transform="translate(85.01,93.96)"><polygon class="l" points="0,0 6.1,3.88 6.1,3.56 0,-0.32"/></g><g transform="translate(91.1,97.84)"><polygon class="r" points="0,0 7.81,-2.95 7.81,-3.27 0,-0.32"/></g><polygon fill="#800a23" stroke="#800a23" points="85.01,93.64 91.1,97.52 98.91,94.58 92.82,90.69"/><g transform="translate(73.61,98.26)"><polygon class="l" points="0,0 6.1,3.88 6.1,3.56 0,-0.32"/></g><g transform="translate(79.7,102.14)"><polygon class="r" points="0,0 7.81,-2.95 7.81,-3.27 0,-0.32"/></g><polygon fill="#800a23" stroke="#800a23" points="73.61,97.94 79.7,101.82 87.51,98.88 81.42,94.99"/><text class="tk" text-anchor="end" x="27.9" y="73">0</text><text class="tk" text-anchor="end" x="27.9" y="50">0.5</text><text class="tk" text-anchor="end" x="27.9" y="27">1</text><text class="tk tf" text-anchor="middle" x="34.68" y="87.12">1</text><text class="tk tf" text-anchor="middle" x="94.7" y="115.7">1</text><text class="tk tf" text-anchor="middle" x="43.46" y="92.74">2</text><text class="tk tf" text-anchor="middle" x="106.3" y="110.9">2</text><text class="tk tf" text-anchor="middle" x="52.24" y="98.36">3</text><text class="tk tf" text-anchor="middle" x="117.5" y="106.7">3</text><text class="tk tf" text-anchor="middle" x="61.02" y="103.98">4</text><text class="tk tf" text-anchor="middle" x="129.1" y="101.9">4</text><text class="tk tf" text-anchor="middle" x="69.8" y="109.6">5</text><text class="tk tf" text-anchor="middle" x="140.7" y="97.8">5</text><text class="lb" text-anchor="middle" transform="translate(14.9,48.2) rotate(-90)">MAC</text><text class="lb lm" text-anchor="middle" transform="translate(30,103) rotate(35.8)">Modal order</text><text class="lb" text-anchor="middle" transform="translate(141.5,112.5) rotate(-22.3)">Modal order</text><text class="cap" text-anchor="middle" x="82.9" y="144.7">(<tspan class="b">q</tspan>) Case17</text></g>
<g transform="translate(380.4,784.95)"><path class="gd" d="M36.06 70.38L89.46 104.4M36.06 70.38L36.06 24.38M47.46 66.08L100.86 100.1M47.46 66.08L47.46 20.08M58.86 61.78L112.26 95.8M58.86 61.78L58.86 15.78M70.26 57.48L123.66 91.5M70.26 57.48L70.26 11.48M81.66 53.18L135.06 87.2M81.66 53.18L81.66 7.18M31.5 72.1L86.22 51.46M86.22 51.46L86.22 5.46M40.4 77.77L95.12 57.13M95.12 57.13L95.12 11.13M49.3 83.44L104.02 62.8M104.02 62.8L104.02 16.8M58.2 89.11L112.92 68.47M112.92 68.47L112.92 22.47M67.1 94.78L121.82 74.14M121.82 74.14L121.82 28.14M76 100.45L130.72 79.81M130.72 79.81L130.72 33.81M84.9 106.12L139.62 85.48M139.62 85.48L139.62 39.48M31.5 72.1L86.22 51.46L139.62 85.48M31.5 49.1L86.22 28.46L139.62 62.48M31.5 26.1L86.22 5.46L139.62 39.48"/><path class="ax" d="M31.5 26.1L31.5 72.1L84.9 106.12L139.62 85.48"/><path class="gd2" d="M31.5 26.1L86.22 5.46L139.62 39.48L139.62 85.48M86.22 5.46L86.22 51.46"/><g transform="translate(83.61,58.38)"><polygon class="l" points="0,0 6.1,3.88 6.1,2.69 0,-1.2"/></g><g transform="translate(89.7,62.26)"><polygon class="r" points="0,0 7.81,-2.95 7.81,-4.14 0,-1.2"/></g><polygon fill="#900e25" stroke="#900e25" points="83.61,57.18 89.7,61.07 97.51,58.12 91.42,54.24"/><g transform="translate(72.21,62.68)"><polygon class="l" points="0,0 6.1,3.88 6.1,3.52 0,-0.37"/></g><g transform="translate(78.3,66.56)"><polygon class="r" points="0,0 7.81,-2.95 7.81,-3.31 0,-0.37"/></g><polygon fill="#810a23" stroke="#810a23" points="72.21,62.31 78.3,66.2 86.11,63.25 80.02,59.37"/><g transform="translate(60.81,66.98)"><polygon class="l" points="0,0 6.1,3.88 6.1,3.52 0,-0.37"/></g><g transform="translate(66.9,70.86)"><polygon class="r" points="0,0 7.81,-2.95 7.81,-3.31 0,-0.37"/></g><polygon fill="#810a23" stroke="#810a23" points="60.81,66.61 66.9,70.5 74.71,67.55 68.62,63.67"/><g transform="translate(49.41,71.28)"><polygon class="l" points="0,0 6.1,3.88 6.1,3.52 0,-0.37"/></g><g transform="translate(55.5,75.16)"><polygon class="r" points="0,0 7.81,-2.95 7.81,-3.31 0,-0.37"/></g><polygon fill="#810a23" stroke="#810a23" points="49.41,70.91 55.5,74.8 63.31,71.85 57.22,67.97"/><g transform="translate(38.01,75.58)"><polygon class="l" points="0,0 6.1,3.88 6.1,-42.12 0,-46"/></g><g transform="translate(44.1,79.46)"><polygon class="r" points="0,0 7.81,-2.95 7.81,-48.95 0,-46"/></g><polygon fill="#053061" stroke="#053061" points="38.01,29.58 44.1,33.46 51.91,30.52 45.82,26.64"/><path class="e" d="M44.1 79.46v-46"/><g transform="translate(92.51,64.05)"><polygon class="l" points="0,0 6.1,3.88 6.1,3.52 0,-0.37"/></g><g transform="translate(98.6,67.93)"><polygon class="r" points="0,0 7.81,-2.95 7.81,-3.31 0,-0.37"/></g><polygon fill="#810a23" stroke="#810a23" points="92.51,63.68 98.6,67.57 106.41,64.62 100.32,60.74"/><g transform="translate(81.11,68.35)"><polygon class="l" points="0,0 6.1,3.88 6.1,3.52 0,-0.37"/></g><g transform="translate(87.2,72.23)"><polygon class="r" points="0,0 7.81,-2.95 7.81,-3.31 0,-0.37"/></g><polygon fill="#810a23" stroke="#810a23" points="81.11,67.98 87.2,71.87 95.01,68.92 88.92,65.04"/><g transform="translate(69.71,72.65)"><polygon class="l" points="0,0 6.1,3.88 6.1,3.52 0,-0.37"/></g><g transform="translate(75.8,76.53)"><polygon class="r" points="0,0 7.81,-2.95 7.81,-3.31 0,-0.37"/></g><polygon fill="#810a23" stroke="#810a23" points="69.71,72.28 75.8,76.17 83.61,73.22 77.52,69.34"/><g transform="translate(58.31,76.95)"><polygon class="l" points="0,0 6.1,3.88 6.1,-42.12 0,-46"/></g><g transform="translate(64.4,80.83)"><polygon class="r" points="0,0 7.81,-2.95 7.81,-48.95 0,-46"/></g><polygon fill="#053061" stroke="#053061" points="58.31,30.95 64.4,34.83 72.21,31.89 66.12,28.01"/><path class="e" d="M64.4 80.83v-46"/><g transform="translate(46.91,81.25)"><polygon class="l" points="0,0 6.1,3.88 6.1,3.52 0,-0.37"/></g><g transform="translate(53,85.13)"><polygon class="r" points="0,0 7.81,-2.95 7.81,-3.31 0,-0.37"/></g><polygon fill="#810a23" stroke="#810a23" points="46.91,80.88 53,84.77 60.81,81.82 54.72,77.94"/><g transform="translate(101.41,69.72)"><polygon class="l" points="0,0 6.1,3.88 6.1,3.52 0,-0.37"/></g><g transform="translate(107.5,73.6)"><polygon class="r" points="0,0 7.81,-2.95 7.81,-3.31 0,-0.37"/></g><polygon fill="#810a23" stroke="#810a23" points="101.41,69.35 107.5,73.24 115.31,70.29 109.22,66.41"/><g transform="translate(90.01,74.02)"><polygon class="l" points="0,0 6.1,3.88 6.1,3.52 0,-0.37"/></g><g transform="translate(96.1,77.9)"><polygon class="r" points="0,0 7.81,-2.95 7.81,-3.31 0,-0.37"/></g><polygon fill="#810a23" stroke="#810a23" points="90.01,73.65 96.1,77.54 103.91,74.59 97.82,70.71"/><g transform="translate(78.61,78.32)"><polygon class="l" points="0,0 6.1,3.88 6.1,-42.12 0,-46"/></g><g transform="translate(84.7,82.2)"><polygon class="r" points="0,0 7.81,-2.95 7.81,-48.95 0,-46"/></g><polygon fill="#053061" stroke="#053061" points="78.61,32.32 84.7,36.2 92.51,33.26 86.42,29.38"/><path class="e" d="M84.7 82.2v-46"/><g transform="translate(67.21,82.62)"><polygon class="l" points="0,0 6.1,3.88 6.1,3.52 0,-0.37"/></g><g transform="translate(73.3,86.5)"><polygon class="r" points="0,0 7.81,-2.95 7.81,-3.31 0,-0.37"/></g><polygon fill="#810a23" stroke="#810a23" points="67.21,82.25 73.3,86.14 81.11,83.19 75.02,79.31"/><g transform="translate(55.81,86.92)"><polygon class="l" points="0,0 6.1,3.88 6.1,3.52 0,-0.37"/></g><g transform="translate(61.9,90.8)"><polygon class="r" points="0,0 7.81,-2.95 7.81,-3.31 0,-0.37"/></g><polygon fill="#810a23" stroke="#810a23" points="55.81,86.55 61.9,90.44 69.71,87.49 63.62,83.61"/><g transform="translate(110.31,75.39)"><polygon class="l" points="0,0 6.1,3.88 6.1,3.52 0,-0.37"/></g><g transform="translate(116.4,79.27)"><polygon class="r" points="0,0 7.81,-2.95 7.81,-3.31 0,-0.37"/></g><polygon fill="#810a23" stroke="#810a23" points="110.31,75.02 116.4,78.91 124.21,75.96 118.12,72.08"/><g transform="translate(98.91,79.69)"><polygon class="l" points="0,0 6.1,3.88 6.1,-42.12 0,-46"/></g><g transform="translate(105,83.57)"><polygon class="r" points="0,0 7.81,-2.95 7.81,-48.95 0,-46"/></g><polygon fill="#053061" stroke="#053061" points="98.91,33.69 105,37.57 112.81,34.63 106.72,30.75"/><path class="e" d="M105 83.57v-46"/><g transform="translate(87.51,83.99)"><polygon class="l" points="0,0 6.1,3.88 6.1,3.52 0,-0.37"/></g><g transform="translate(93.6,87.87)"><polygon class="r" points="0,0 7.81,-2.95 7.81,-3.31 0,-0.37"/></g><polygon fill="#810a23" stroke="#810a23" points="87.51,83.62 93.6,87.51 101.41,84.56 95.32,80.68"/><g transform="translate(76.11,88.29)"><polygon class="l" points="0,0 6.1,3.88 6.1,3.52 0,-0.37"/></g><g transform="translate(82.2,92.17)"><polygon class="r" points="0,0 7.81,-2.95 7.81,-3.31 0,-0.37"/></g><polygon fill="#810a23" stroke="#810a23" points="76.11,87.92 82.2,91.81 90.01,88.86 83.92,84.98"/><g transform="translate(64.71,92.59)"><polygon class="l" points="0,0 6.1,3.88 6.1,3.52 0,-0.37"/></g><g transform="translate(70.8,96.47)"><polygon class="r" points="0,0 7.81,-2.95 7.81,-3.31 0,-0.37"/></g><polygon fill="#810a23" stroke="#810a23" points="64.71,92.22 70.8,96.11 78.61,93.16 72.52,89.28"/><g transform="translate(119.21,81.06)"><polygon class="l" points="0,0 6.1,3.88 6.1,-42.12 0,-46"/></g><g transform="translate(125.3,84.94)"><polygon class="r" points="0,0 7.81,-2.95 7.81,-48.95 0,-46"/></g><polygon fill="#053061" stroke="#053061" points="119.21,35.06 125.3,38.94 133.11,36 127.02,32.12"/><path class="e" d="M125.3 84.94v-46"/><g transform="translate(107.81,85.36)"><polygon class="l" points="0,0 6.1,3.88 6.1,3.52 0,-0.37"/></g><g transform="translate(113.9,89.24)"><polygon class="r" points="0,0 7.81,-2.95 7.81,-3.31 0,-0.37"/></g><polygon fill="#810a23" stroke="#810a23" points="107.81,84.99 113.9,88.88 121.71,85.93 115.62,82.05"/><g transform="translate(96.41,89.66)"><polygon class="l" points="0,0 6.1,3.88 6.1,3.52 0,-0.37"/></g><g transform="translate(102.5,93.54)"><polygon class="r" points="0,0 7.81,-2.95 7.81,-3.31 0,-0.37"/></g><polygon fill="#810a23" stroke="#810a23" points="96.41,89.29 102.5,93.18 110.31,90.23 104.22,86.35"/><g transform="translate(85.01,93.96)"><polygon class="l" points="0,0 6.1,3.88 6.1,3.52 0,-0.37"/></g><g transform="translate(91.1,97.84)"><polygon class="r" points="0,0 7.81,-2.95 7.81,-3.31 0,-0.37"/></g><polygon fill="#810a23" stroke="#810a23" points="85.01,93.59 91.1,97.48 98.91,94.53 92.82,90.65"/><g transform="translate(73.61,98.26)"><polygon class="l" points="0,0 6.1,3.88 6.1,3.19 0,-0.69"/></g><g transform="translate(79.7,102.14)"><polygon class="r" points="0,0 7.81,-2.95 7.81,-3.64 0,-0.69"/></g><polygon fill="#870b24" stroke="#870b24" points="73.61,97.57 79.7,101.45 87.51,98.51 81.42,94.63"/><text class="tk" text-anchor="end" x="27.9" y="73">0</text><text class="tk" text-anchor="end" x="27.9" y="50">0.5</text><text class="tk" text-anchor="end" x="27.9" y="27">1</text><text class="tk tf" text-anchor="middle" x="34.68" y="87.12">1</text><text class="tk tf" text-anchor="middle" x="94.7" y="115.7">1</text><text class="tk tf" text-anchor="middle" x="43.46" y="92.74">2</text><text class="tk tf" text-anchor="middle" x="106.3" y="110.9">2</text><text class="tk tf" text-anchor="middle" x="52.24" y="98.36">3</text><text class="tk tf" text-anchor="middle" x="117.5" y="106.7">3</text><text class="tk tf" text-anchor="middle" x="61.02" y="103.98">4</text><text class="tk tf" text-anchor="middle" x="129.1" y="101.9">4</text><text class="tk tf" text-anchor="middle" x="69.8" y="109.6">5</text><text class="tk tf" text-anchor="middle" x="140.7" y="97.8">5</text><text class="lb" text-anchor="middle" transform="translate(14.9,48.2) rotate(-90)">MAC</text><text class="lb lm" text-anchor="middle" transform="translate(30,103) rotate(35.8)">Modal order</text><text class="lb" text-anchor="middle" transform="translate(141.5,112.5) rotate(-22.3)">Modal order</text><text class="cap" text-anchor="middle" x="82.9" y="144.7">(<tspan class="b">r</tspan>) Case18</text></g>
</svg></body></html>
